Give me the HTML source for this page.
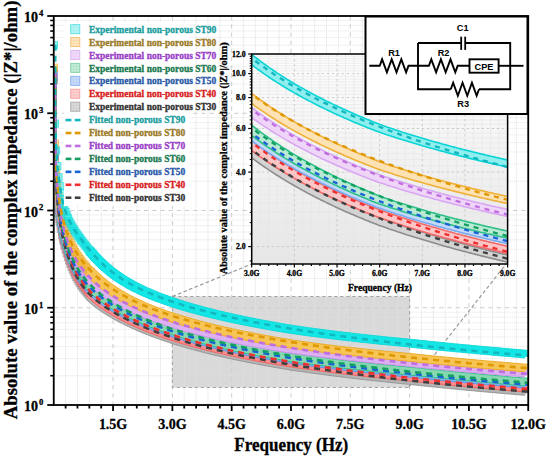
<!DOCTYPE html><html><head><meta charset="utf-8"><style>html,body{margin:0;padding:0;background:#fff;overflow:hidden;width:550px;height:458px}svg{display:block}text{font-family:"Liberation Serif",serif;font-weight:bold}</style></head><body>
<svg width="550" height="458" viewBox="0 0 550 458">
<rect width="550" height="458" fill="#fff"/>
<rect x="172.37" y="296.5" width="237.24" height="91.0" fill="#d9d9d9"/>
<line x1="65.61" y1="16.0" x2="65.61" y2="405.0" stroke="#e2e2e2" stroke-width="0.6"/><line x1="77.47" y1="16.0" x2="77.47" y2="405.0" stroke="#e2e2e2" stroke-width="0.6"/><line x1="89.34" y1="16.0" x2="89.34" y2="405.0" stroke="#e2e2e2" stroke-width="0.6"/><line x1="101.20" y1="16.0" x2="101.20" y2="405.0" stroke="#e2e2e2" stroke-width="0.6"/><line x1="124.92" y1="16.0" x2="124.92" y2="405.0" stroke="#e2e2e2" stroke-width="0.6"/><line x1="136.78" y1="16.0" x2="136.78" y2="405.0" stroke="#e2e2e2" stroke-width="0.6"/><line x1="148.65" y1="16.0" x2="148.65" y2="405.0" stroke="#e2e2e2" stroke-width="0.6"/><line x1="160.51" y1="16.0" x2="160.51" y2="405.0" stroke="#e2e2e2" stroke-width="0.6"/><line x1="184.23" y1="16.0" x2="184.23" y2="405.0" stroke="#e2e2e2" stroke-width="0.6"/><line x1="196.09" y1="16.0" x2="196.09" y2="405.0" stroke="#e2e2e2" stroke-width="0.6"/><line x1="207.96" y1="16.0" x2="207.96" y2="405.0" stroke="#e2e2e2" stroke-width="0.6"/><line x1="219.82" y1="16.0" x2="219.82" y2="405.0" stroke="#e2e2e2" stroke-width="0.6"/><line x1="243.54" y1="16.0" x2="243.54" y2="405.0" stroke="#e2e2e2" stroke-width="0.6"/><line x1="255.40" y1="16.0" x2="255.40" y2="405.0" stroke="#e2e2e2" stroke-width="0.6"/><line x1="267.27" y1="16.0" x2="267.27" y2="405.0" stroke="#e2e2e2" stroke-width="0.6"/><line x1="279.13" y1="16.0" x2="279.13" y2="405.0" stroke="#e2e2e2" stroke-width="0.6"/><line x1="302.85" y1="16.0" x2="302.85" y2="405.0" stroke="#e2e2e2" stroke-width="0.6"/><line x1="314.71" y1="16.0" x2="314.71" y2="405.0" stroke="#e2e2e2" stroke-width="0.6"/><line x1="326.58" y1="16.0" x2="326.58" y2="405.0" stroke="#e2e2e2" stroke-width="0.6"/><line x1="338.44" y1="16.0" x2="338.44" y2="405.0" stroke="#e2e2e2" stroke-width="0.6"/><line x1="362.16" y1="16.0" x2="362.16" y2="405.0" stroke="#e2e2e2" stroke-width="0.6"/><line x1="374.02" y1="16.0" x2="374.02" y2="405.0" stroke="#e2e2e2" stroke-width="0.6"/><line x1="385.89" y1="16.0" x2="385.89" y2="405.0" stroke="#e2e2e2" stroke-width="0.6"/><line x1="397.75" y1="16.0" x2="397.75" y2="405.0" stroke="#e2e2e2" stroke-width="0.6"/><line x1="421.47" y1="16.0" x2="421.47" y2="405.0" stroke="#e2e2e2" stroke-width="0.6"/><line x1="433.33" y1="16.0" x2="433.33" y2="405.0" stroke="#e2e2e2" stroke-width="0.6"/><line x1="445.20" y1="16.0" x2="445.20" y2="405.0" stroke="#e2e2e2" stroke-width="0.6"/><line x1="457.06" y1="16.0" x2="457.06" y2="405.0" stroke="#e2e2e2" stroke-width="0.6"/><line x1="480.78" y1="16.0" x2="480.78" y2="405.0" stroke="#e2e2e2" stroke-width="0.6"/><line x1="492.64" y1="16.0" x2="492.64" y2="405.0" stroke="#e2e2e2" stroke-width="0.6"/><line x1="504.51" y1="16.0" x2="504.51" y2="405.0" stroke="#e2e2e2" stroke-width="0.6"/><line x1="516.37" y1="16.0" x2="516.37" y2="405.0" stroke="#e2e2e2" stroke-width="0.6"/><line x1="53.75" y1="375.72" x2="528.23" y2="375.72" stroke="#e0e0e0" stroke-width="0.9" stroke-dasharray="1,1"/><line x1="53.75" y1="358.60" x2="528.23" y2="358.60" stroke="#e0e0e0" stroke-width="0.9" stroke-dasharray="1,1"/><line x1="53.75" y1="346.45" x2="528.23" y2="346.45" stroke="#e0e0e0" stroke-width="0.9" stroke-dasharray="1,1"/><line x1="53.75" y1="337.03" x2="528.23" y2="337.03" stroke="#e0e0e0" stroke-width="0.9" stroke-dasharray="1,1"/><line x1="53.75" y1="329.32" x2="528.23" y2="329.32" stroke="#e0e0e0" stroke-width="0.9" stroke-dasharray="1,1"/><line x1="53.75" y1="322.81" x2="528.23" y2="322.81" stroke="#e0e0e0" stroke-width="0.9" stroke-dasharray="1,1"/><line x1="53.75" y1="317.17" x2="528.23" y2="317.17" stroke="#e0e0e0" stroke-width="0.9" stroke-dasharray="1,1"/><line x1="53.75" y1="312.20" x2="528.23" y2="312.20" stroke="#e0e0e0" stroke-width="0.9" stroke-dasharray="1,1"/><line x1="53.75" y1="278.47" x2="528.23" y2="278.47" stroke="#e0e0e0" stroke-width="0.9" stroke-dasharray="1,1"/><line x1="53.75" y1="261.35" x2="528.23" y2="261.35" stroke="#e0e0e0" stroke-width="0.9" stroke-dasharray="1,1"/><line x1="53.75" y1="249.20" x2="528.23" y2="249.20" stroke="#e0e0e0" stroke-width="0.9" stroke-dasharray="1,1"/><line x1="53.75" y1="239.78" x2="528.23" y2="239.78" stroke="#e0e0e0" stroke-width="0.9" stroke-dasharray="1,1"/><line x1="53.75" y1="232.07" x2="528.23" y2="232.07" stroke="#e0e0e0" stroke-width="0.9" stroke-dasharray="1,1"/><line x1="53.75" y1="225.56" x2="528.23" y2="225.56" stroke="#e0e0e0" stroke-width="0.9" stroke-dasharray="1,1"/><line x1="53.75" y1="219.92" x2="528.23" y2="219.92" stroke="#e0e0e0" stroke-width="0.9" stroke-dasharray="1,1"/><line x1="53.75" y1="214.95" x2="528.23" y2="214.95" stroke="#e0e0e0" stroke-width="0.9" stroke-dasharray="1,1"/><line x1="53.75" y1="181.22" x2="528.23" y2="181.22" stroke="#e0e0e0" stroke-width="0.9" stroke-dasharray="1,1"/><line x1="53.75" y1="164.10" x2="528.23" y2="164.10" stroke="#e0e0e0" stroke-width="0.9" stroke-dasharray="1,1"/><line x1="53.75" y1="151.95" x2="528.23" y2="151.95" stroke="#e0e0e0" stroke-width="0.9" stroke-dasharray="1,1"/><line x1="53.75" y1="142.53" x2="528.23" y2="142.53" stroke="#e0e0e0" stroke-width="0.9" stroke-dasharray="1,1"/><line x1="53.75" y1="134.82" x2="528.23" y2="134.82" stroke="#e0e0e0" stroke-width="0.9" stroke-dasharray="1,1"/><line x1="53.75" y1="128.31" x2="528.23" y2="128.31" stroke="#e0e0e0" stroke-width="0.9" stroke-dasharray="1,1"/><line x1="53.75" y1="122.67" x2="528.23" y2="122.67" stroke="#e0e0e0" stroke-width="0.9" stroke-dasharray="1,1"/><line x1="53.75" y1="117.70" x2="528.23" y2="117.70" stroke="#e0e0e0" stroke-width="0.9" stroke-dasharray="1,1"/><line x1="53.75" y1="83.97" x2="528.23" y2="83.97" stroke="#e0e0e0" stroke-width="0.9" stroke-dasharray="1,1"/><line x1="53.75" y1="66.85" x2="528.23" y2="66.85" stroke="#e0e0e0" stroke-width="0.9" stroke-dasharray="1,1"/><line x1="53.75" y1="54.70" x2="528.23" y2="54.70" stroke="#e0e0e0" stroke-width="0.9" stroke-dasharray="1,1"/><line x1="53.75" y1="45.28" x2="528.23" y2="45.28" stroke="#e0e0e0" stroke-width="0.9" stroke-dasharray="1,1"/><line x1="53.75" y1="37.57" x2="528.23" y2="37.57" stroke="#e0e0e0" stroke-width="0.9" stroke-dasharray="1,1"/><line x1="53.75" y1="31.06" x2="528.23" y2="31.06" stroke="#e0e0e0" stroke-width="0.9" stroke-dasharray="1,1"/><line x1="53.75" y1="25.42" x2="528.23" y2="25.42" stroke="#e0e0e0" stroke-width="0.9" stroke-dasharray="1,1"/><line x1="53.75" y1="20.45" x2="528.23" y2="20.45" stroke="#e0e0e0" stroke-width="0.9" stroke-dasharray="1,1"/><line x1="113.06" y1="16.0" x2="113.06" y2="405.0" stroke="#cdcdcd" stroke-width="1" stroke-dasharray="4.4,3.8"/><line x1="172.37" y1="16.0" x2="172.37" y2="405.0" stroke="#cdcdcd" stroke-width="1" stroke-dasharray="4.4,3.8"/><line x1="231.68" y1="16.0" x2="231.68" y2="405.0" stroke="#cdcdcd" stroke-width="1" stroke-dasharray="4.4,3.8"/><line x1="290.99" y1="16.0" x2="290.99" y2="405.0" stroke="#cdcdcd" stroke-width="1" stroke-dasharray="4.4,3.8"/><line x1="350.30" y1="16.0" x2="350.30" y2="405.0" stroke="#cdcdcd" stroke-width="1" stroke-dasharray="4.4,3.8"/><line x1="409.61" y1="16.0" x2="409.61" y2="405.0" stroke="#cdcdcd" stroke-width="1" stroke-dasharray="4.4,3.8"/><line x1="468.92" y1="16.0" x2="468.92" y2="405.0" stroke="#cdcdcd" stroke-width="1" stroke-dasharray="4.4,3.8"/><line x1="53.75" y1="307.75" x2="528.23" y2="307.75" stroke="#cdcdcd" stroke-width="1" stroke-dasharray="4.4,3.8"/><line x1="53.75" y1="210.50" x2="528.23" y2="210.50" stroke="#cdcdcd" stroke-width="1" stroke-dasharray="4.4,3.8"/><line x1="53.75" y1="113.25" x2="528.23" y2="113.25" stroke="#cdcdcd" stroke-width="1" stroke-dasharray="4.4,3.8"/>
<rect x="172.37" y="296.5" width="237.24" height="91.0" fill="none" stroke="#a0a0a0" stroke-width="1" stroke-dasharray="3,3"/>
<line x1="172.37" y1="296.5" x2="251.7" y2="264.0" stroke="#999" stroke-width="1.2" stroke-dasharray="3.6,2.4"/>
<line x1="408.61" y1="387.5" x2="506.09999999999997" y2="264.0" stroke="#999" stroke-width="1.2" stroke-dasharray="3.6,2.4"/>
<defs><clipPath id="mclip"><rect x="54.55" y="16.00" width="473.68" height="389.00"/></clipPath>
<clipPath id="iclip"><rect x="251.70" y="54.00" width="255.90" height="210.00"/></clipPath></defs>
<g clip-path="url(#mclip)">
<rect x="50.31" y="76.50" width="7.2" height="7.2" fill="#b4b4b4" fill-opacity="0.45" stroke="#969696" stroke-opacity="0.7" stroke-width="0.9"/>
<rect x="51.34" y="155.22" width="7.2" height="7.2" fill="#b4b4b4" fill-opacity="0.45" stroke="#969696" stroke-opacity="0.7" stroke-width="0.9"/>
<rect x="52.52" y="182.30" width="7.2" height="7.2" fill="#b4b4b4" fill-opacity="0.45" stroke="#969696" stroke-opacity="0.7" stroke-width="0.9"/>
<rect x="53.71" y="198.14" width="7.2" height="7.2" fill="#b4b4b4" fill-opacity="0.45" stroke="#969696" stroke-opacity="0.7" stroke-width="0.9"/>
<rect x="54.89" y="209.38" width="7.2" height="7.2" fill="#b4b4b4" fill-opacity="0.45" stroke="#969696" stroke-opacity="0.7" stroke-width="0.9"/>
<rect x="56.08" y="218.11" width="7.2" height="7.2" fill="#b4b4b4" fill-opacity="0.45" stroke="#969696" stroke-opacity="0.7" stroke-width="0.9"/>
<rect x="57.27" y="225.27" width="7.2" height="7.2" fill="#b4b4b4" fill-opacity="0.45" stroke="#969696" stroke-opacity="0.7" stroke-width="0.9"/>
<rect x="58.45" y="231.36" width="7.2" height="7.2" fill="#b4b4b4" fill-opacity="0.45" stroke="#969696" stroke-opacity="0.7" stroke-width="0.9"/>
<rect x="59.64" y="236.69" width="7.2" height="7.2" fill="#b4b4b4" fill-opacity="0.45" stroke="#969696" stroke-opacity="0.7" stroke-width="0.9"/>
<rect x="60.83" y="241.45" width="7.2" height="7.2" fill="#b4b4b4" fill-opacity="0.45" stroke="#969696" stroke-opacity="0.7" stroke-width="0.9"/>
<rect x="62.01" y="245.78" width="7.2" height="7.2" fill="#b4b4b4" fill-opacity="0.45" stroke="#969696" stroke-opacity="0.7" stroke-width="0.9"/>
<rect x="63.20" y="249.76" width="7.2" height="7.2" fill="#b4b4b4" fill-opacity="0.45" stroke="#969696" stroke-opacity="0.7" stroke-width="0.9"/>
<rect x="64.38" y="253.45" width="7.2" height="7.2" fill="#b4b4b4" fill-opacity="0.45" stroke="#969696" stroke-opacity="0.7" stroke-width="0.9"/>
<rect x="65.57" y="256.89" width="7.2" height="7.2" fill="#b4b4b4" fill-opacity="0.45" stroke="#969696" stroke-opacity="0.7" stroke-width="0.9"/>
<rect x="66.76" y="260.10" width="7.2" height="7.2" fill="#b4b4b4" fill-opacity="0.45" stroke="#969696" stroke-opacity="0.7" stroke-width="0.9"/>
<rect x="67.94" y="263.10" width="7.2" height="7.2" fill="#b4b4b4" fill-opacity="0.45" stroke="#969696" stroke-opacity="0.7" stroke-width="0.9"/>
<rect x="69.13" y="265.92" width="7.2" height="7.2" fill="#b4b4b4" fill-opacity="0.45" stroke="#969696" stroke-opacity="0.7" stroke-width="0.9"/>
<rect x="70.32" y="268.56" width="7.2" height="7.2" fill="#b4b4b4" fill-opacity="0.45" stroke="#969696" stroke-opacity="0.7" stroke-width="0.9"/>
<rect x="71.50" y="271.04" width="7.2" height="7.2" fill="#b4b4b4" fill-opacity="0.45" stroke="#969696" stroke-opacity="0.7" stroke-width="0.9"/>
<rect x="72.69" y="273.36" width="7.2" height="7.2" fill="#b4b4b4" fill-opacity="0.45" stroke="#969696" stroke-opacity="0.7" stroke-width="0.9"/>
<rect x="73.87" y="275.55" width="7.2" height="7.2" fill="#b4b4b4" fill-opacity="0.45" stroke="#969696" stroke-opacity="0.7" stroke-width="0.9"/>
<rect x="75.06" y="277.60" width="7.2" height="7.2" fill="#b4b4b4" fill-opacity="0.45" stroke="#969696" stroke-opacity="0.7" stroke-width="0.9"/>
<rect x="76.25" y="279.53" width="7.2" height="7.2" fill="#b4b4b4" fill-opacity="0.45" stroke="#969696" stroke-opacity="0.7" stroke-width="0.9"/>
<rect x="77.43" y="281.34" width="7.2" height="7.2" fill="#b4b4b4" fill-opacity="0.45" stroke="#969696" stroke-opacity="0.7" stroke-width="0.9"/>
<rect x="78.62" y="283.05" width="7.2" height="7.2" fill="#b4b4b4" fill-opacity="0.45" stroke="#969696" stroke-opacity="0.7" stroke-width="0.9"/>
<rect x="79.81" y="284.67" width="7.2" height="7.2" fill="#b4b4b4" fill-opacity="0.45" stroke="#969696" stroke-opacity="0.7" stroke-width="0.9"/>
<rect x="80.99" y="286.19" width="7.2" height="7.2" fill="#b4b4b4" fill-opacity="0.45" stroke="#969696" stroke-opacity="0.7" stroke-width="0.9"/>
<rect x="82.18" y="287.64" width="7.2" height="7.2" fill="#b4b4b4" fill-opacity="0.45" stroke="#969696" stroke-opacity="0.7" stroke-width="0.9"/>
<rect x="83.36" y="289.01" width="7.2" height="7.2" fill="#b4b4b4" fill-opacity="0.45" stroke="#969696" stroke-opacity="0.7" stroke-width="0.9"/>
<rect x="84.55" y="290.32" width="7.2" height="7.2" fill="#b4b4b4" fill-opacity="0.45" stroke="#969696" stroke-opacity="0.7" stroke-width="0.9"/>
<rect x="85.74" y="291.57" width="7.2" height="7.2" fill="#b4b4b4" fill-opacity="0.45" stroke="#969696" stroke-opacity="0.7" stroke-width="0.9"/>
<rect x="86.92" y="292.76" width="7.2" height="7.2" fill="#b4b4b4" fill-opacity="0.45" stroke="#969696" stroke-opacity="0.7" stroke-width="0.9"/>
<polygon points="92.9,291.6 94.1,292.8 95.3,293.9 96.5,295.0 97.7,296.1 100.1,298.1 102.4,299.9 104.8,301.7 107.2,303.4 109.5,305.0 111.9,306.5 114.3,308.0 116.7,309.4 119.0,310.8 121.4,312.2 123.8,313.5 126.1,314.7 128.5,315.9 130.9,317.1 133.3,318.3 135.6,319.4 138.0,320.5 140.4,321.6 142.8,322.7 145.1,323.7 147.5,324.7 149.9,325.7 152.2,326.6 154.6,327.6 157.0,328.5 159.4,329.4 161.7,330.3 164.1,331.1 166.5,332.0 168.9,332.8 171.2,333.6 173.6,334.4 176.0,335.2 178.3,336.0 180.7,336.7 183.1,337.5 185.5,338.2 187.8,338.9 190.2,339.6 192.6,340.3 194.9,341.0 197.3,341.6 199.7,342.3 202.1,342.9 204.4,343.6 206.8,344.2 209.2,344.8 211.6,345.4 213.9,346.0 216.3,346.6 218.7,347.2 221.0,347.8 223.4,348.3 225.8,348.9 228.2,349.4 230.5,350.0 232.9,350.5 235.3,351.0 237.7,351.5 240.0,352.0 242.4,352.6 244.8,353.0 247.1,353.5 249.5,354.0 251.9,354.5 254.3,355.0 256.6,355.5 259.0,355.9 261.4,356.4 263.7,356.8 266.1,357.3 268.5,357.7 270.9,358.2 273.2,358.6 275.6,359.0 278.0,359.4 280.4,359.9 282.7,360.3 285.1,360.7 287.5,361.1 289.8,361.5 292.2,361.9 294.6,362.3 297.0,362.7 299.3,363.0 301.7,363.4 304.1,363.7 306.5,364.1 308.8,364.4 311.2,364.7 313.6,365.1 315.9,365.4 318.3,365.8 320.7,366.1 323.1,366.4 325.4,366.7 327.8,367.0 330.2,367.4 332.5,367.7 334.9,368.0 337.3,368.3 339.7,368.6 342.0,368.9 344.4,369.2 346.8,369.5 349.2,369.8 351.5,370.1 353.9,370.4 356.3,370.6 358.6,370.9 361.0,371.2 363.4,371.5 365.8,371.8 368.1,372.0 370.5,372.3 372.9,372.6 375.3,372.8 377.6,373.1 380.0,373.4 382.4,373.6 384.7,373.9 387.1,374.1 389.5,374.4 391.9,374.6 394.2,374.9 396.6,375.1 399.0,375.4 401.3,375.6 403.7,375.9 406.1,376.1 408.5,376.4 410.8,376.6 413.2,376.8 415.6,377.1 418.0,377.3 420.3,377.6 422.7,377.9 425.1,378.1 427.4,378.4 429.8,378.6 432.2,378.9 434.6,379.1 436.9,379.4 439.3,379.6 441.7,379.8 444.1,380.1 446.4,380.3 448.8,380.6 451.2,380.8 453.5,381.0 455.9,381.3 458.3,381.5 460.7,381.7 463.0,382.0 465.4,382.2 467.8,382.4 470.1,382.6 472.5,382.9 474.9,383.1 477.3,383.3 479.6,383.5 482.0,383.7 484.4,384.0 486.8,384.2 489.1,384.4 491.5,384.6 493.9,384.8 496.2,385.0 498.6,385.2 501.0,385.4 503.4,385.7 505.7,385.9 508.1,386.1 510.5,386.3 512.9,386.5 515.2,386.7 517.6,386.9 520.0,387.1 522.3,387.3 524.7,387.5 527.1,387.7 529.5,387.9 531.8,388.1 524.6,395.3 522.3,395.1 519.9,394.9 517.5,394.7 515.1,394.5 512.8,394.3 510.4,394.1 508.0,393.9 505.7,393.7 503.3,393.5 500.9,393.3 498.5,393.1 496.2,392.9 493.8,392.6 491.4,392.4 489.0,392.2 486.7,392.0 484.3,391.8 481.9,391.6 479.6,391.4 477.2,391.2 474.8,390.9 472.4,390.7 470.1,390.5 467.7,390.3 465.3,390.1 462.9,389.8 460.6,389.6 458.2,389.4 455.8,389.2 453.5,388.9 451.1,388.7 448.7,388.5 446.3,388.2 444.0,388.0 441.6,387.8 439.2,387.5 436.9,387.3 434.5,387.0 432.1,386.8 429.7,386.6 427.4,386.3 425.0,386.1 422.6,385.8 420.2,385.6 417.9,385.3 415.5,385.1 413.1,384.8 410.8,384.5 408.4,384.3 406.0,384.0 403.6,383.8 401.3,383.6 398.9,383.3 396.5,383.1 394.1,382.8 391.8,382.6 389.4,382.3 387.0,382.1 384.7,381.8 382.3,381.6 379.9,381.3 377.5,381.1 375.2,380.8 372.8,380.6 370.4,380.3 368.1,380.0 365.7,379.8 363.3,379.5 360.9,379.2 358.6,379.0 356.2,378.7 353.8,378.4 351.4,378.1 349.1,377.8 346.7,377.6 344.3,377.3 342.0,377.0 339.6,376.7 337.2,376.4 334.8,376.1 332.5,375.8 330.1,375.5 327.7,375.2 325.3,374.9 323.0,374.6 320.6,374.2 318.2,373.9 315.9,373.6 313.5,373.3 311.1,373.0 308.7,372.6 306.4,372.3 304.0,371.9 301.6,371.6 299.3,371.3 296.9,370.9 294.5,370.6 292.1,370.2 289.8,369.9 287.4,369.5 285.0,369.1 282.6,368.7 280.3,368.3 277.9,367.9 275.5,367.5 273.2,367.1 270.8,366.6 268.4,366.2 266.0,365.8 263.7,365.4 261.3,364.9 258.9,364.5 256.5,364.0 254.2,363.6 251.8,363.1 249.4,362.7 247.1,362.2 244.7,361.7 242.3,361.2 239.9,360.7 237.6,360.2 235.2,359.8 232.8,359.2 230.5,358.7 228.1,358.2 225.7,357.7 223.3,357.2 221.0,356.6 218.6,356.1 216.2,355.5 213.8,355.0 211.5,354.4 209.1,353.8 206.7,353.2 204.4,352.6 202.0,352.0 199.6,351.4 197.2,350.8 194.9,350.1 192.5,349.5 190.1,348.8 187.7,348.2 185.4,347.5 183.0,346.8 180.6,346.1 178.3,345.4 175.9,344.7 173.5,343.9 171.1,343.2 168.8,342.4 166.4,341.6 164.0,340.8 161.7,340.0 159.3,339.2 156.9,338.3 154.5,337.5 152.2,336.6 149.8,335.7 147.4,334.8 145.0,333.8 142.7,332.9 140.3,331.9 137.9,330.9 135.6,329.9 133.2,328.8 130.8,327.7 128.4,326.6 126.1,325.5 123.7,324.3 121.3,323.1 118.9,321.9 116.6,320.7 114.2,319.4 111.8,318.0 109.5,316.6 107.1,315.2 104.7,313.7 102.3,312.2 100.0,310.6 97.6,308.9 95.2,307.1 92.9,305.3 90.5,303.3 89.3,302.2 88.1,301.1 86.9,300.0 85.7,298.8" fill="#b4b4b4"/>
<polyline points="92.9,291.6 94.1,292.8 95.3,293.9 96.5,295.0 97.7,296.1 100.1,298.1 102.4,299.9 104.8,301.7 107.2,303.4 109.5,305.0 111.9,306.5 114.3,308.0 116.7,309.4 119.0,310.8 121.4,312.2 123.8,313.5 126.1,314.7 128.5,315.9 130.9,317.1 133.3,318.3 135.6,319.4 138.0,320.5 140.4,321.6 142.8,322.7 145.1,323.7 147.5,324.7 149.9,325.7 152.2,326.6 154.6,327.6 157.0,328.5 159.4,329.4 161.7,330.3 164.1,331.1 166.5,332.0 168.9,332.8 171.2,333.6 173.6,334.4 176.0,335.2 178.3,336.0 180.7,336.7 183.1,337.5 185.5,338.2 187.8,338.9 190.2,339.6 192.6,340.3 194.9,341.0 197.3,341.6 199.7,342.3 202.1,342.9 204.4,343.6 206.8,344.2 209.2,344.8 211.6,345.4 213.9,346.0 216.3,346.6 218.7,347.2 221.0,347.8 223.4,348.3 225.8,348.9 228.2,349.4 230.5,350.0 232.9,350.5 235.3,351.0 237.7,351.5 240.0,352.0 242.4,352.6 244.8,353.0 247.1,353.5 249.5,354.0 251.9,354.5 254.3,355.0 256.6,355.5 259.0,355.9 261.4,356.4 263.7,356.8 266.1,357.3 268.5,357.7 270.9,358.2 273.2,358.6 275.6,359.0 278.0,359.4 280.4,359.9 282.7,360.3 285.1,360.7 287.5,361.1 289.8,361.5 292.2,361.9 294.6,362.3 297.0,362.7 299.3,363.0 301.7,363.4 304.1,363.7 306.5,364.1 308.8,364.4 311.2,364.7 313.6,365.1 315.9,365.4 318.3,365.8 320.7,366.1 323.1,366.4 325.4,366.7 327.8,367.0 330.2,367.4 332.5,367.7 334.9,368.0 337.3,368.3 339.7,368.6 342.0,368.9 344.4,369.2 346.8,369.5 349.2,369.8 351.5,370.1 353.9,370.4 356.3,370.6 358.6,370.9 361.0,371.2 363.4,371.5 365.8,371.8 368.1,372.0 370.5,372.3 372.9,372.6 375.3,372.8 377.6,373.1 380.0,373.4 382.4,373.6 384.7,373.9 387.1,374.1 389.5,374.4 391.9,374.6 394.2,374.9 396.6,375.1 399.0,375.4 401.3,375.6 403.7,375.9 406.1,376.1 408.5,376.4 410.8,376.6 413.2,376.8 415.6,377.1 418.0,377.3 420.3,377.6 422.7,377.9 425.1,378.1 427.4,378.4 429.8,378.6 432.2,378.9 434.6,379.1 436.9,379.4 439.3,379.6 441.7,379.8 444.1,380.1 446.4,380.3 448.8,380.6 451.2,380.8 453.5,381.0 455.9,381.3 458.3,381.5 460.7,381.7 463.0,382.0 465.4,382.2 467.8,382.4 470.1,382.6 472.5,382.9 474.9,383.1 477.3,383.3 479.6,383.5 482.0,383.7 484.4,384.0 486.8,384.2 489.1,384.4 491.5,384.6 493.9,384.8 496.2,385.0 498.6,385.2 501.0,385.4 503.4,385.7 505.7,385.9 508.1,386.1 510.5,386.3 512.9,386.5 515.2,386.7 517.6,386.9 520.0,387.1 522.3,387.3 524.7,387.5 527.1,387.7 529.5,387.9 531.8,388.1" fill="none" stroke="#969696" stroke-width="1"/><polyline points="85.7,298.8 86.9,300.0 88.1,301.1 89.3,302.2 90.5,303.3 92.9,305.3 95.2,307.1 97.6,308.9 100.0,310.6 102.3,312.2 104.7,313.7 107.1,315.2 109.5,316.6 111.8,318.0 114.2,319.4 116.6,320.7 118.9,321.9 121.3,323.1 123.7,324.3 126.1,325.5 128.4,326.6 130.8,327.7 133.2,328.8 135.6,329.9 137.9,330.9 140.3,331.9 142.7,332.9 145.0,333.8 147.4,334.8 149.8,335.7 152.2,336.6 154.5,337.5 156.9,338.3 159.3,339.2 161.7,340.0 164.0,340.8 166.4,341.6 168.8,342.4 171.1,343.2 173.5,343.9 175.9,344.7 178.3,345.4 180.6,346.1 183.0,346.8 185.4,347.5 187.7,348.2 190.1,348.8 192.5,349.5 194.9,350.1 197.2,350.8 199.6,351.4 202.0,352.0 204.4,352.6 206.7,353.2 209.1,353.8 211.5,354.4 213.8,355.0 216.2,355.5 218.6,356.1 221.0,356.6 223.3,357.2 225.7,357.7 228.1,358.2 230.5,358.7 232.8,359.2 235.2,359.8 237.6,360.2 239.9,360.7 242.3,361.2 244.7,361.7 247.1,362.2 249.4,362.7 251.8,363.1 254.2,363.6 256.5,364.0 258.9,364.5 261.3,364.9 263.7,365.4 266.0,365.8 268.4,366.2 270.8,366.6 273.2,367.1 275.5,367.5 277.9,367.9 280.3,368.3 282.6,368.7 285.0,369.1 287.4,369.5 289.8,369.9 292.1,370.2 294.5,370.6 296.9,370.9 299.3,371.3 301.6,371.6 304.0,371.9 306.4,372.3 308.7,372.6 311.1,373.0 313.5,373.3 315.9,373.6 318.2,373.9 320.6,374.2 323.0,374.6 325.3,374.9 327.7,375.2 330.1,375.5 332.5,375.8 334.8,376.1 337.2,376.4 339.6,376.7 342.0,377.0 344.3,377.3 346.7,377.6 349.1,377.8 351.4,378.1 353.8,378.4 356.2,378.7 358.6,379.0 360.9,379.2 363.3,379.5 365.7,379.8 368.1,380.0 370.4,380.3 372.8,380.6 375.2,380.8 377.5,381.1 379.9,381.3 382.3,381.6 384.7,381.8 387.0,382.1 389.4,382.3 391.8,382.6 394.1,382.8 396.5,383.1 398.9,383.3 401.3,383.6 403.6,383.8 406.0,384.0 408.4,384.3 410.8,384.5 413.1,384.8 415.5,385.1 417.9,385.3 420.2,385.6 422.6,385.8 425.0,386.1 427.4,386.3 429.7,386.6 432.1,386.8 434.5,387.0 436.9,387.3 439.2,387.5 441.6,387.8 444.0,388.0 446.3,388.2 448.7,388.5 451.1,388.7 453.5,388.9 455.8,389.2 458.2,389.4 460.6,389.6 462.9,389.8 465.3,390.1 467.7,390.3 470.1,390.5 472.4,390.7 474.8,390.9 477.2,391.2 479.6,391.4 481.9,391.6 484.3,391.8 486.7,392.0 489.0,392.2 491.4,392.4 493.8,392.6 496.2,392.9 498.5,393.1 500.9,393.3 503.3,393.5 505.7,393.7 508.0,393.9 510.4,394.1 512.8,394.3 515.1,394.5 517.5,394.7 519.9,394.9 522.3,395.1 524.6,395.3" fill="none" stroke="#969696" stroke-width="1"/>
<rect x="50.31" y="73.28" width="7.2" height="7.2" fill="#ff8c8c" fill-opacity="0.45" stroke="#f86060" stroke-opacity="0.7" stroke-width="0.9"/>
<rect x="51.34" y="152.13" width="7.2" height="7.2" fill="#ff8c8c" fill-opacity="0.45" stroke="#f86060" stroke-opacity="0.7" stroke-width="0.9"/>
<rect x="52.52" y="179.25" width="7.2" height="7.2" fill="#ff8c8c" fill-opacity="0.45" stroke="#f86060" stroke-opacity="0.7" stroke-width="0.9"/>
<rect x="53.71" y="195.12" width="7.2" height="7.2" fill="#ff8c8c" fill-opacity="0.45" stroke="#f86060" stroke-opacity="0.7" stroke-width="0.9"/>
<rect x="54.89" y="206.38" width="7.2" height="7.2" fill="#ff8c8c" fill-opacity="0.45" stroke="#f86060" stroke-opacity="0.7" stroke-width="0.9"/>
<rect x="56.08" y="215.12" width="7.2" height="7.2" fill="#ff8c8c" fill-opacity="0.45" stroke="#f86060" stroke-opacity="0.7" stroke-width="0.9"/>
<rect x="57.27" y="222.28" width="7.2" height="7.2" fill="#ff8c8c" fill-opacity="0.45" stroke="#f86060" stroke-opacity="0.7" stroke-width="0.9"/>
<rect x="58.45" y="228.36" width="7.2" height="7.2" fill="#ff8c8c" fill-opacity="0.45" stroke="#f86060" stroke-opacity="0.7" stroke-width="0.9"/>
<rect x="59.64" y="233.68" width="7.2" height="7.2" fill="#ff8c8c" fill-opacity="0.45" stroke="#f86060" stroke-opacity="0.7" stroke-width="0.9"/>
<rect x="60.83" y="238.42" width="7.2" height="7.2" fill="#ff8c8c" fill-opacity="0.45" stroke="#f86060" stroke-opacity="0.7" stroke-width="0.9"/>
<rect x="62.01" y="242.71" width="7.2" height="7.2" fill="#ff8c8c" fill-opacity="0.45" stroke="#f86060" stroke-opacity="0.7" stroke-width="0.9"/>
<rect x="63.20" y="246.64" width="7.2" height="7.2" fill="#ff8c8c" fill-opacity="0.45" stroke="#f86060" stroke-opacity="0.7" stroke-width="0.9"/>
<rect x="64.38" y="250.27" width="7.2" height="7.2" fill="#ff8c8c" fill-opacity="0.45" stroke="#f86060" stroke-opacity="0.7" stroke-width="0.9"/>
<rect x="65.57" y="253.65" width="7.2" height="7.2" fill="#ff8c8c" fill-opacity="0.45" stroke="#f86060" stroke-opacity="0.7" stroke-width="0.9"/>
<rect x="66.76" y="256.80" width="7.2" height="7.2" fill="#ff8c8c" fill-opacity="0.45" stroke="#f86060" stroke-opacity="0.7" stroke-width="0.9"/>
<rect x="67.94" y="259.74" width="7.2" height="7.2" fill="#ff8c8c" fill-opacity="0.45" stroke="#f86060" stroke-opacity="0.7" stroke-width="0.9"/>
<rect x="69.13" y="262.50" width="7.2" height="7.2" fill="#ff8c8c" fill-opacity="0.45" stroke="#f86060" stroke-opacity="0.7" stroke-width="0.9"/>
<rect x="70.32" y="265.09" width="7.2" height="7.2" fill="#ff8c8c" fill-opacity="0.45" stroke="#f86060" stroke-opacity="0.7" stroke-width="0.9"/>
<rect x="71.50" y="267.52" width="7.2" height="7.2" fill="#ff8c8c" fill-opacity="0.45" stroke="#f86060" stroke-opacity="0.7" stroke-width="0.9"/>
<rect x="72.69" y="269.80" width="7.2" height="7.2" fill="#ff8c8c" fill-opacity="0.45" stroke="#f86060" stroke-opacity="0.7" stroke-width="0.9"/>
<rect x="73.87" y="271.95" width="7.2" height="7.2" fill="#ff8c8c" fill-opacity="0.45" stroke="#f86060" stroke-opacity="0.7" stroke-width="0.9"/>
<rect x="75.06" y="273.98" width="7.2" height="7.2" fill="#ff8c8c" fill-opacity="0.45" stroke="#f86060" stroke-opacity="0.7" stroke-width="0.9"/>
<rect x="76.25" y="275.88" width="7.2" height="7.2" fill="#ff8c8c" fill-opacity="0.45" stroke="#f86060" stroke-opacity="0.7" stroke-width="0.9"/>
<rect x="77.43" y="277.68" width="7.2" height="7.2" fill="#ff8c8c" fill-opacity="0.45" stroke="#f86060" stroke-opacity="0.7" stroke-width="0.9"/>
<rect x="78.62" y="279.39" width="7.2" height="7.2" fill="#ff8c8c" fill-opacity="0.45" stroke="#f86060" stroke-opacity="0.7" stroke-width="0.9"/>
<rect x="79.81" y="281.00" width="7.2" height="7.2" fill="#ff8c8c" fill-opacity="0.45" stroke="#f86060" stroke-opacity="0.7" stroke-width="0.9"/>
<rect x="80.99" y="282.53" width="7.2" height="7.2" fill="#ff8c8c" fill-opacity="0.45" stroke="#f86060" stroke-opacity="0.7" stroke-width="0.9"/>
<rect x="82.18" y="283.99" width="7.2" height="7.2" fill="#ff8c8c" fill-opacity="0.45" stroke="#f86060" stroke-opacity="0.7" stroke-width="0.9"/>
<rect x="83.36" y="285.37" width="7.2" height="7.2" fill="#ff8c8c" fill-opacity="0.45" stroke="#f86060" stroke-opacity="0.7" stroke-width="0.9"/>
<rect x="84.55" y="286.70" width="7.2" height="7.2" fill="#ff8c8c" fill-opacity="0.45" stroke="#f86060" stroke-opacity="0.7" stroke-width="0.9"/>
<rect x="85.74" y="287.96" width="7.2" height="7.2" fill="#ff8c8c" fill-opacity="0.45" stroke="#f86060" stroke-opacity="0.7" stroke-width="0.9"/>
<rect x="86.92" y="289.18" width="7.2" height="7.2" fill="#ff8c8c" fill-opacity="0.45" stroke="#f86060" stroke-opacity="0.7" stroke-width="0.9"/>
<polygon points="92.9,288.0 94.1,289.2 95.3,290.3 96.5,291.5 97.7,292.5 100.1,294.6 102.4,296.5 104.8,298.4 107.2,300.1 109.5,301.7 111.9,303.3 114.3,304.8 116.7,306.3 119.0,307.7 121.4,309.1 123.8,310.4 126.1,311.7 128.5,313.0 130.9,314.2 133.3,315.3 135.6,316.5 138.0,317.6 140.4,318.7 142.8,319.8 145.1,320.8 147.5,321.8 149.9,322.8 152.2,323.8 154.6,324.7 157.0,325.7 159.4,326.6 161.7,327.4 164.1,328.3 166.5,329.2 168.9,330.0 171.2,330.8 173.6,331.6 176.0,332.4 178.3,333.2 180.7,333.9 183.1,334.6 185.5,335.4 187.8,336.1 190.2,336.8 192.6,337.4 194.9,338.1 197.3,338.8 199.7,339.4 202.1,340.1 204.4,340.7 206.8,341.3 209.2,341.9 211.6,342.5 213.9,343.1 216.3,343.7 218.7,344.3 221.0,344.9 223.4,345.4 225.8,346.0 228.2,346.5 230.5,347.0 232.9,347.6 235.3,348.1 237.7,348.6 240.0,349.1 242.4,349.6 244.8,350.1 247.1,350.6 249.5,351.1 251.9,351.5 254.3,352.0 256.6,352.5 259.0,352.9 261.4,353.4 263.7,353.8 266.1,354.3 268.5,354.7 270.9,355.1 273.2,355.6 275.6,356.0 278.0,356.4 280.4,356.8 282.7,357.2 285.1,357.6 287.5,358.0 289.8,358.4 292.2,358.8 294.6,359.2 297.0,359.6 299.3,359.9 301.7,360.3 304.1,360.6 306.5,361.0 308.8,361.3 311.2,361.6 313.6,362.0 315.9,362.3 318.3,362.6 320.7,362.9 323.1,363.2 325.4,363.6 327.8,363.9 330.2,364.2 332.5,364.5 334.9,364.8 337.3,365.1 339.7,365.4 342.0,365.7 344.4,366.0 346.8,366.3 349.2,366.5 351.5,366.8 353.9,367.1 356.3,367.4 358.6,367.7 361.0,367.9 363.4,368.2 365.8,368.5 368.1,368.7 370.5,369.0 372.9,369.3 375.3,369.5 377.6,369.8 380.0,370.0 382.4,370.3 384.7,370.5 387.1,370.8 389.5,371.0 391.9,371.3 394.2,371.5 396.6,371.8 399.0,372.0 401.3,372.2 403.7,372.5 406.1,372.7 408.5,372.9 410.8,373.2 413.2,373.4 415.6,373.7 418.0,373.9 420.3,374.2 422.7,374.4 425.1,374.7 427.4,374.9 429.8,375.2 432.2,375.4 434.6,375.7 436.9,375.9 439.3,376.2 441.7,376.4 444.1,376.6 446.4,376.9 448.8,377.1 451.2,377.4 453.5,377.6 455.9,377.8 458.3,378.1 460.7,378.3 463.0,378.5 465.4,378.8 467.8,379.0 470.1,379.2 472.5,379.4 474.9,379.6 477.3,379.9 479.6,380.1 482.0,380.3 484.4,380.5 486.8,380.7 489.1,381.0 491.5,381.2 493.9,381.4 496.2,381.6 498.6,381.8 501.0,382.0 503.4,382.2 505.7,382.4 508.1,382.6 510.5,382.9 512.9,383.1 515.2,383.3 517.6,383.5 520.0,383.7 522.3,383.9 524.7,384.1 527.1,384.3 529.5,384.5 531.8,384.7 524.6,391.9 522.3,391.7 519.9,391.5 517.5,391.3 515.1,391.1 512.8,390.9 510.4,390.7 508.0,390.5 505.7,390.3 503.3,390.1 500.9,389.8 498.5,389.6 496.2,389.4 493.8,389.2 491.4,389.0 489.0,388.8 486.7,388.6 484.3,388.4 481.9,388.2 479.6,387.9 477.2,387.7 474.8,387.5 472.4,387.3 470.1,387.1 467.7,386.8 465.3,386.6 462.9,386.4 460.6,386.2 458.2,386.0 455.8,385.7 453.5,385.5 451.1,385.3 448.7,385.0 446.3,384.8 444.0,384.6 441.6,384.3 439.2,384.1 436.9,383.8 434.5,383.6 432.1,383.4 429.7,383.1 427.4,382.9 425.0,382.6 422.6,382.4 420.2,382.1 417.9,381.9 415.5,381.6 413.1,381.4 410.8,381.1 408.4,380.9 406.0,380.6 403.6,380.4 401.3,380.1 398.9,379.9 396.5,379.7 394.1,379.4 391.8,379.2 389.4,379.0 387.0,378.7 384.7,378.5 382.3,378.2 379.9,378.0 377.5,377.7 375.2,377.5 372.8,377.2 370.4,377.0 368.1,376.7 365.7,376.5 363.3,376.2 360.9,375.9 358.6,375.7 356.2,375.4 353.8,375.1 351.4,374.9 349.1,374.6 346.7,374.3 344.3,374.0 342.0,373.7 339.6,373.5 337.2,373.2 334.8,372.9 332.5,372.6 330.1,372.3 327.7,372.0 325.3,371.7 323.0,371.4 320.6,371.1 318.2,370.8 315.9,370.4 313.5,370.1 311.1,369.8 308.7,369.5 306.4,369.2 304.0,368.8 301.6,368.5 299.3,368.2 296.9,367.8 294.5,367.5 292.1,367.1 289.8,366.8 287.4,366.4 285.0,366.0 282.6,365.6 280.3,365.2 277.9,364.8 275.5,364.4 273.2,364.0 270.8,363.6 268.4,363.2 266.0,362.8 263.7,362.3 261.3,361.9 258.9,361.5 256.5,361.0 254.2,360.6 251.8,360.1 249.4,359.7 247.1,359.2 244.7,358.7 242.3,358.3 239.9,357.8 237.6,357.3 235.2,356.8 232.8,356.3 230.5,355.8 228.1,355.3 225.7,354.8 223.3,354.2 221.0,353.7 218.6,353.2 216.2,352.6 213.8,352.1 211.5,351.5 209.1,350.9 206.7,350.3 204.4,349.7 202.0,349.1 199.6,348.5 197.2,347.9 194.9,347.3 192.5,346.6 190.1,346.0 187.7,345.3 185.4,344.6 183.0,344.0 180.6,343.3 178.3,342.6 175.9,341.8 173.5,341.1 171.1,340.4 168.8,339.6 166.4,338.8 164.0,338.0 161.7,337.2 159.3,336.4 156.9,335.5 154.5,334.6 152.2,333.8 149.8,332.9 147.4,331.9 145.0,331.0 142.7,330.0 140.3,329.0 137.9,328.0 135.6,327.0 133.2,325.9 130.8,324.8 128.4,323.7 126.1,322.5 123.7,321.4 121.3,320.2 118.9,318.9 116.6,317.6 114.2,316.3 111.8,314.9 109.5,313.5 107.1,312.0 104.7,310.5 102.3,308.9 100.0,307.3 97.6,305.6 95.2,303.7 92.9,301.8 90.5,299.7 89.3,298.7 88.1,297.5 86.9,296.4 85.7,295.2" fill="#ff8c8c"/>
<polyline points="92.9,288.0 94.1,289.2 95.3,290.3 96.5,291.5 97.7,292.5 100.1,294.6 102.4,296.5 104.8,298.4 107.2,300.1 109.5,301.7 111.9,303.3 114.3,304.8 116.7,306.3 119.0,307.7 121.4,309.1 123.8,310.4 126.1,311.7 128.5,313.0 130.9,314.2 133.3,315.3 135.6,316.5 138.0,317.6 140.4,318.7 142.8,319.8 145.1,320.8 147.5,321.8 149.9,322.8 152.2,323.8 154.6,324.7 157.0,325.7 159.4,326.6 161.7,327.4 164.1,328.3 166.5,329.2 168.9,330.0 171.2,330.8 173.6,331.6 176.0,332.4 178.3,333.2 180.7,333.9 183.1,334.6 185.5,335.4 187.8,336.1 190.2,336.8 192.6,337.4 194.9,338.1 197.3,338.8 199.7,339.4 202.1,340.1 204.4,340.7 206.8,341.3 209.2,341.9 211.6,342.5 213.9,343.1 216.3,343.7 218.7,344.3 221.0,344.9 223.4,345.4 225.8,346.0 228.2,346.5 230.5,347.0 232.9,347.6 235.3,348.1 237.7,348.6 240.0,349.1 242.4,349.6 244.8,350.1 247.1,350.6 249.5,351.1 251.9,351.5 254.3,352.0 256.6,352.5 259.0,352.9 261.4,353.4 263.7,353.8 266.1,354.3 268.5,354.7 270.9,355.1 273.2,355.6 275.6,356.0 278.0,356.4 280.4,356.8 282.7,357.2 285.1,357.6 287.5,358.0 289.8,358.4 292.2,358.8 294.6,359.2 297.0,359.6 299.3,359.9 301.7,360.3 304.1,360.6 306.5,361.0 308.8,361.3 311.2,361.6 313.6,362.0 315.9,362.3 318.3,362.6 320.7,362.9 323.1,363.2 325.4,363.6 327.8,363.9 330.2,364.2 332.5,364.5 334.9,364.8 337.3,365.1 339.7,365.4 342.0,365.7 344.4,366.0 346.8,366.3 349.2,366.5 351.5,366.8 353.9,367.1 356.3,367.4 358.6,367.7 361.0,367.9 363.4,368.2 365.8,368.5 368.1,368.7 370.5,369.0 372.9,369.3 375.3,369.5 377.6,369.8 380.0,370.0 382.4,370.3 384.7,370.5 387.1,370.8 389.5,371.0 391.9,371.3 394.2,371.5 396.6,371.8 399.0,372.0 401.3,372.2 403.7,372.5 406.1,372.7 408.5,372.9 410.8,373.2 413.2,373.4 415.6,373.7 418.0,373.9 420.3,374.2 422.7,374.4 425.1,374.7 427.4,374.9 429.8,375.2 432.2,375.4 434.6,375.7 436.9,375.9 439.3,376.2 441.7,376.4 444.1,376.6 446.4,376.9 448.8,377.1 451.2,377.4 453.5,377.6 455.9,377.8 458.3,378.1 460.7,378.3 463.0,378.5 465.4,378.8 467.8,379.0 470.1,379.2 472.5,379.4 474.9,379.6 477.3,379.9 479.6,380.1 482.0,380.3 484.4,380.5 486.8,380.7 489.1,381.0 491.5,381.2 493.9,381.4 496.2,381.6 498.6,381.8 501.0,382.0 503.4,382.2 505.7,382.4 508.1,382.6 510.5,382.9 512.9,383.1 515.2,383.3 517.6,383.5 520.0,383.7 522.3,383.9 524.7,384.1 527.1,384.3 529.5,384.5 531.8,384.7" fill="none" stroke="#f86060" stroke-width="1"/><polyline points="85.7,295.2 86.9,296.4 88.1,297.5 89.3,298.7 90.5,299.7 92.9,301.8 95.2,303.7 97.6,305.6 100.0,307.3 102.3,308.9 104.7,310.5 107.1,312.0 109.5,313.5 111.8,314.9 114.2,316.3 116.6,317.6 118.9,318.9 121.3,320.2 123.7,321.4 126.1,322.5 128.4,323.7 130.8,324.8 133.2,325.9 135.6,327.0 137.9,328.0 140.3,329.0 142.7,330.0 145.0,331.0 147.4,331.9 149.8,332.9 152.2,333.8 154.5,334.6 156.9,335.5 159.3,336.4 161.7,337.2 164.0,338.0 166.4,338.8 168.8,339.6 171.1,340.4 173.5,341.1 175.9,341.8 178.3,342.6 180.6,343.3 183.0,344.0 185.4,344.6 187.7,345.3 190.1,346.0 192.5,346.6 194.9,347.3 197.2,347.9 199.6,348.5 202.0,349.1 204.4,349.7 206.7,350.3 209.1,350.9 211.5,351.5 213.8,352.1 216.2,352.6 218.6,353.2 221.0,353.7 223.3,354.2 225.7,354.8 228.1,355.3 230.5,355.8 232.8,356.3 235.2,356.8 237.6,357.3 239.9,357.8 242.3,358.3 244.7,358.7 247.1,359.2 249.4,359.7 251.8,360.1 254.2,360.6 256.5,361.0 258.9,361.5 261.3,361.9 263.7,362.3 266.0,362.8 268.4,363.2 270.8,363.6 273.2,364.0 275.5,364.4 277.9,364.8 280.3,365.2 282.6,365.6 285.0,366.0 287.4,366.4 289.8,366.8 292.1,367.1 294.5,367.5 296.9,367.8 299.3,368.2 301.6,368.5 304.0,368.8 306.4,369.2 308.7,369.5 311.1,369.8 313.5,370.1 315.9,370.4 318.2,370.8 320.6,371.1 323.0,371.4 325.3,371.7 327.7,372.0 330.1,372.3 332.5,372.6 334.8,372.9 337.2,373.2 339.6,373.5 342.0,373.7 344.3,374.0 346.7,374.3 349.1,374.6 351.4,374.9 353.8,375.1 356.2,375.4 358.6,375.7 360.9,375.9 363.3,376.2 365.7,376.5 368.1,376.7 370.4,377.0 372.8,377.2 375.2,377.5 377.5,377.7 379.9,378.0 382.3,378.2 384.7,378.5 387.0,378.7 389.4,379.0 391.8,379.2 394.1,379.4 396.5,379.7 398.9,379.9 401.3,380.1 403.6,380.4 406.0,380.6 408.4,380.9 410.8,381.1 413.1,381.4 415.5,381.6 417.9,381.9 420.2,382.1 422.6,382.4 425.0,382.6 427.4,382.9 429.7,383.1 432.1,383.4 434.5,383.6 436.9,383.8 439.2,384.1 441.6,384.3 444.0,384.6 446.3,384.8 448.7,385.0 451.1,385.3 453.5,385.5 455.8,385.7 458.2,386.0 460.6,386.2 462.9,386.4 465.3,386.6 467.7,386.8 470.1,387.1 472.4,387.3 474.8,387.5 477.2,387.7 479.6,387.9 481.9,388.2 484.3,388.4 486.7,388.6 489.0,388.8 491.4,389.0 493.8,389.2 496.2,389.4 498.5,389.6 500.9,389.8 503.3,390.1 505.7,390.3 508.0,390.5 510.4,390.7 512.8,390.9 515.1,391.1 517.5,391.3 519.9,391.5 522.3,391.7 524.6,391.9" fill="none" stroke="#f86060" stroke-width="1"/>
<rect x="50.31" y="73.12" width="7.2" height="7.2" fill="#80b2f2" fill-opacity="0.45" stroke="#5a98ea" stroke-opacity="0.7" stroke-width="0.9"/>
<rect x="51.34" y="150.86" width="7.2" height="7.2" fill="#80b2f2" fill-opacity="0.45" stroke="#5a98ea" stroke-opacity="0.7" stroke-width="0.9"/>
<rect x="52.52" y="177.61" width="7.2" height="7.2" fill="#80b2f2" fill-opacity="0.45" stroke="#5a98ea" stroke-opacity="0.7" stroke-width="0.9"/>
<rect x="53.71" y="193.26" width="7.2" height="7.2" fill="#80b2f2" fill-opacity="0.45" stroke="#5a98ea" stroke-opacity="0.7" stroke-width="0.9"/>
<rect x="54.89" y="204.36" width="7.2" height="7.2" fill="#80b2f2" fill-opacity="0.45" stroke="#5a98ea" stroke-opacity="0.7" stroke-width="0.9"/>
<rect x="56.08" y="212.97" width="7.2" height="7.2" fill="#80b2f2" fill-opacity="0.45" stroke="#5a98ea" stroke-opacity="0.7" stroke-width="0.9"/>
<rect x="57.27" y="220.03" width="7.2" height="7.2" fill="#80b2f2" fill-opacity="0.45" stroke="#5a98ea" stroke-opacity="0.7" stroke-width="0.9"/>
<rect x="58.45" y="226.01" width="7.2" height="7.2" fill="#80b2f2" fill-opacity="0.45" stroke="#5a98ea" stroke-opacity="0.7" stroke-width="0.9"/>
<rect x="59.64" y="231.22" width="7.2" height="7.2" fill="#80b2f2" fill-opacity="0.45" stroke="#5a98ea" stroke-opacity="0.7" stroke-width="0.9"/>
<rect x="60.83" y="235.85" width="7.2" height="7.2" fill="#80b2f2" fill-opacity="0.45" stroke="#5a98ea" stroke-opacity="0.7" stroke-width="0.9"/>
<rect x="62.01" y="240.03" width="7.2" height="7.2" fill="#80b2f2" fill-opacity="0.45" stroke="#5a98ea" stroke-opacity="0.7" stroke-width="0.9"/>
<rect x="63.20" y="243.85" width="7.2" height="7.2" fill="#80b2f2" fill-opacity="0.45" stroke="#5a98ea" stroke-opacity="0.7" stroke-width="0.9"/>
<rect x="64.38" y="247.35" width="7.2" height="7.2" fill="#80b2f2" fill-opacity="0.45" stroke="#5a98ea" stroke-opacity="0.7" stroke-width="0.9"/>
<rect x="65.57" y="250.60" width="7.2" height="7.2" fill="#80b2f2" fill-opacity="0.45" stroke="#5a98ea" stroke-opacity="0.7" stroke-width="0.9"/>
<rect x="66.76" y="253.63" width="7.2" height="7.2" fill="#80b2f2" fill-opacity="0.45" stroke="#5a98ea" stroke-opacity="0.7" stroke-width="0.9"/>
<rect x="67.94" y="256.46" width="7.2" height="7.2" fill="#80b2f2" fill-opacity="0.45" stroke="#5a98ea" stroke-opacity="0.7" stroke-width="0.9"/>
<rect x="69.13" y="259.10" width="7.2" height="7.2" fill="#80b2f2" fill-opacity="0.45" stroke="#5a98ea" stroke-opacity="0.7" stroke-width="0.9"/>
<rect x="70.32" y="261.58" width="7.2" height="7.2" fill="#80b2f2" fill-opacity="0.45" stroke="#5a98ea" stroke-opacity="0.7" stroke-width="0.9"/>
<rect x="71.50" y="263.92" width="7.2" height="7.2" fill="#80b2f2" fill-opacity="0.45" stroke="#5a98ea" stroke-opacity="0.7" stroke-width="0.9"/>
<rect x="72.69" y="266.12" width="7.2" height="7.2" fill="#80b2f2" fill-opacity="0.45" stroke="#5a98ea" stroke-opacity="0.7" stroke-width="0.9"/>
<rect x="73.87" y="268.19" width="7.2" height="7.2" fill="#80b2f2" fill-opacity="0.45" stroke="#5a98ea" stroke-opacity="0.7" stroke-width="0.9"/>
<rect x="75.06" y="270.15" width="7.2" height="7.2" fill="#80b2f2" fill-opacity="0.45" stroke="#5a98ea" stroke-opacity="0.7" stroke-width="0.9"/>
<rect x="76.25" y="272.00" width="7.2" height="7.2" fill="#80b2f2" fill-opacity="0.45" stroke="#5a98ea" stroke-opacity="0.7" stroke-width="0.9"/>
<rect x="77.43" y="273.76" width="7.2" height="7.2" fill="#80b2f2" fill-opacity="0.45" stroke="#5a98ea" stroke-opacity="0.7" stroke-width="0.9"/>
<rect x="78.62" y="275.43" width="7.2" height="7.2" fill="#80b2f2" fill-opacity="0.45" stroke="#5a98ea" stroke-opacity="0.7" stroke-width="0.9"/>
<rect x="79.81" y="277.01" width="7.2" height="7.2" fill="#80b2f2" fill-opacity="0.45" stroke="#5a98ea" stroke-opacity="0.7" stroke-width="0.9"/>
<rect x="80.99" y="278.52" width="7.2" height="7.2" fill="#80b2f2" fill-opacity="0.45" stroke="#5a98ea" stroke-opacity="0.7" stroke-width="0.9"/>
<rect x="82.18" y="279.97" width="7.2" height="7.2" fill="#80b2f2" fill-opacity="0.45" stroke="#5a98ea" stroke-opacity="0.7" stroke-width="0.9"/>
<rect x="83.36" y="281.34" width="7.2" height="7.2" fill="#80b2f2" fill-opacity="0.45" stroke="#5a98ea" stroke-opacity="0.7" stroke-width="0.9"/>
<rect x="84.55" y="282.66" width="7.2" height="7.2" fill="#80b2f2" fill-opacity="0.45" stroke="#5a98ea" stroke-opacity="0.7" stroke-width="0.9"/>
<rect x="85.74" y="283.93" width="7.2" height="7.2" fill="#80b2f2" fill-opacity="0.45" stroke="#5a98ea" stroke-opacity="0.7" stroke-width="0.9"/>
<rect x="86.92" y="285.15" width="7.2" height="7.2" fill="#80b2f2" fill-opacity="0.45" stroke="#5a98ea" stroke-opacity="0.7" stroke-width="0.9"/>
<polygon points="92.9,283.9 94.1,285.2 95.3,286.3 96.5,287.5 97.7,288.6 100.1,290.6 102.4,292.6 104.8,294.5 107.2,296.2 109.5,297.9 111.9,299.5 114.3,301.1 116.7,302.5 119.0,304.0 121.4,305.4 123.8,306.7 126.1,308.0 128.5,309.3 130.9,310.5 133.3,311.7 135.6,312.8 138.0,313.9 140.4,315.0 142.8,316.1 145.1,317.1 147.5,318.1 149.9,319.1 152.2,320.1 154.6,321.0 157.0,321.9 159.4,322.8 161.7,323.7 164.1,324.6 166.5,325.4 168.9,326.2 171.2,327.0 173.6,327.8 176.0,328.6 178.3,329.4 180.7,330.1 183.1,330.8 185.5,331.6 187.8,332.3 190.2,333.0 192.6,333.7 194.9,334.3 197.3,335.0 199.7,335.6 202.1,336.3 204.4,336.9 206.8,337.5 209.2,338.1 211.6,338.7 213.9,339.3 216.3,339.9 218.7,340.5 221.0,341.1 223.4,341.6 225.8,342.2 228.2,342.7 230.5,343.3 232.9,343.8 235.3,344.3 237.7,344.8 240.0,345.3 242.4,345.8 244.8,346.3 247.1,346.8 249.5,347.3 251.9,347.8 254.3,348.2 256.6,348.7 259.0,349.2 261.4,349.6 263.7,350.1 266.1,350.5 268.5,351.0 270.9,351.4 273.2,351.8 275.6,352.3 278.0,352.7 280.4,353.1 282.7,353.5 285.1,353.9 287.5,354.3 289.8,354.7 292.2,355.1 294.6,355.5 297.0,355.9 299.3,356.2 301.7,356.5 304.1,356.9 306.5,357.2 308.8,357.6 311.2,357.9 313.6,358.2 315.9,358.5 318.3,358.9 320.7,359.2 323.1,359.5 325.4,359.8 327.8,360.1 330.2,360.4 332.5,360.7 334.9,361.0 337.3,361.3 339.7,361.6 342.0,361.9 344.4,362.2 346.8,362.5 349.2,362.8 351.5,363.0 353.9,363.3 356.3,363.6 358.6,363.9 361.0,364.1 363.4,364.4 365.8,364.7 368.1,364.9 370.5,365.2 372.9,365.5 375.3,365.7 377.6,366.0 380.0,366.2 382.4,366.5 384.7,366.7 387.1,367.0 389.5,367.2 391.9,367.5 394.2,367.7 396.6,368.0 399.0,368.2 401.3,368.4 403.7,368.7 406.1,368.9 408.5,369.1 410.8,369.3 413.2,369.6 415.6,369.8 418.0,370.1 420.3,370.3 422.7,370.6 425.1,370.8 427.4,371.1 429.8,371.3 432.2,371.6 434.6,371.8 436.9,372.1 439.3,372.3 441.7,372.5 444.1,372.8 446.4,373.0 448.8,373.3 451.2,373.5 453.5,373.7 455.9,373.9 458.3,374.2 460.7,374.4 463.0,374.6 465.4,374.9 467.8,375.1 470.1,375.3 472.5,375.5 474.9,375.7 477.3,376.0 479.6,376.2 482.0,376.4 484.4,376.6 486.8,376.8 489.1,377.0 491.5,377.2 493.9,377.5 496.2,377.7 498.6,377.9 501.0,378.1 503.4,378.3 505.7,378.5 508.1,378.7 510.5,378.9 512.9,379.1 515.2,379.3 517.6,379.5 520.0,379.7 522.3,379.9 524.7,380.1 527.1,380.3 529.5,380.5 531.8,380.7 524.6,387.9 522.3,387.7 519.9,387.5 517.5,387.3 515.1,387.1 512.8,386.9 510.4,386.7 508.0,386.5 505.7,386.3 503.3,386.1 500.9,385.9 498.5,385.7 496.2,385.5 493.8,385.3 491.4,385.1 489.0,384.9 486.7,384.7 484.3,384.4 481.9,384.2 479.6,384.0 477.2,383.8 474.8,383.6 472.4,383.4 470.1,383.2 467.7,382.9 465.3,382.7 462.9,382.5 460.6,382.3 458.2,382.1 455.8,381.8 453.5,381.6 451.1,381.4 448.7,381.1 446.3,380.9 444.0,380.7 441.6,380.5 439.2,380.2 436.9,380.0 434.5,379.7 432.1,379.5 429.7,379.3 427.4,379.0 425.0,378.8 422.6,378.5 420.2,378.3 417.9,378.0 415.5,377.8 413.1,377.5 410.8,377.3 408.4,377.0 406.0,376.8 403.6,376.5 401.3,376.3 398.9,376.1 396.5,375.9 394.1,375.6 391.8,375.4 389.4,375.2 387.0,374.9 384.7,374.7 382.3,374.4 379.9,374.2 377.5,373.9 375.2,373.7 372.8,373.4 370.4,373.2 368.1,372.9 365.7,372.7 363.3,372.4 360.9,372.1 358.6,371.9 356.2,371.6 353.8,371.3 351.4,371.1 349.1,370.8 346.7,370.5 344.3,370.2 342.0,370.0 339.6,369.7 337.2,369.4 334.8,369.1 332.5,368.8 330.1,368.5 327.7,368.2 325.3,367.9 323.0,367.6 320.6,367.3 318.2,367.0 315.9,366.7 313.5,366.4 311.1,366.1 308.7,365.7 306.4,365.4 304.0,365.1 301.6,364.8 299.3,364.4 296.9,364.1 294.5,363.7 292.1,363.4 289.8,363.1 287.4,362.7 285.0,362.3 282.6,361.9 280.3,361.5 277.9,361.1 275.5,360.7 273.2,360.3 270.8,359.9 268.4,359.5 266.0,359.0 263.7,358.6 261.3,358.2 258.9,357.7 256.5,357.3 254.2,356.8 251.8,356.4 249.4,355.9 247.1,355.4 244.7,355.0 242.3,354.5 239.9,354.0 237.6,353.5 235.2,353.0 232.8,352.5 230.5,352.0 228.1,351.5 225.7,351.0 223.3,350.5 221.0,349.9 218.6,349.4 216.2,348.8 213.8,348.3 211.5,347.7 209.1,347.1 206.7,346.5 204.4,345.9 202.0,345.3 199.6,344.7 197.2,344.1 194.9,343.5 192.5,342.8 190.1,342.2 187.7,341.5 185.4,340.9 183.0,340.2 180.6,339.5 178.3,338.8 175.9,338.0 173.5,337.3 171.1,336.6 168.8,335.8 166.4,335.0 164.0,334.2 161.7,333.4 159.3,332.6 156.9,331.8 154.5,330.9 152.2,330.0 149.8,329.1 147.4,328.2 145.0,327.3 142.7,326.3 140.3,325.3 137.9,324.3 135.6,323.3 133.2,322.2 130.8,321.1 128.4,320.0 126.1,318.9 123.7,317.7 121.3,316.5 118.9,315.2 116.6,313.9 114.2,312.6 111.8,311.2 109.5,309.7 107.1,308.3 104.7,306.7 102.3,305.1 100.0,303.4 97.6,301.7 95.2,299.8 92.9,297.8 90.5,295.8 89.3,294.7 88.1,293.5 86.9,292.4 85.7,291.1" fill="#80b2f2"/>
<polyline points="92.9,283.9 94.1,285.2 95.3,286.3 96.5,287.5 97.7,288.6 100.1,290.6 102.4,292.6 104.8,294.5 107.2,296.2 109.5,297.9 111.9,299.5 114.3,301.1 116.7,302.5 119.0,304.0 121.4,305.4 123.8,306.7 126.1,308.0 128.5,309.3 130.9,310.5 133.3,311.7 135.6,312.8 138.0,313.9 140.4,315.0 142.8,316.1 145.1,317.1 147.5,318.1 149.9,319.1 152.2,320.1 154.6,321.0 157.0,321.9 159.4,322.8 161.7,323.7 164.1,324.6 166.5,325.4 168.9,326.2 171.2,327.0 173.6,327.8 176.0,328.6 178.3,329.4 180.7,330.1 183.1,330.8 185.5,331.6 187.8,332.3 190.2,333.0 192.6,333.7 194.9,334.3 197.3,335.0 199.7,335.6 202.1,336.3 204.4,336.9 206.8,337.5 209.2,338.1 211.6,338.7 213.9,339.3 216.3,339.9 218.7,340.5 221.0,341.1 223.4,341.6 225.8,342.2 228.2,342.7 230.5,343.3 232.9,343.8 235.3,344.3 237.7,344.8 240.0,345.3 242.4,345.8 244.8,346.3 247.1,346.8 249.5,347.3 251.9,347.8 254.3,348.2 256.6,348.7 259.0,349.2 261.4,349.6 263.7,350.1 266.1,350.5 268.5,351.0 270.9,351.4 273.2,351.8 275.6,352.3 278.0,352.7 280.4,353.1 282.7,353.5 285.1,353.9 287.5,354.3 289.8,354.7 292.2,355.1 294.6,355.5 297.0,355.9 299.3,356.2 301.7,356.5 304.1,356.9 306.5,357.2 308.8,357.6 311.2,357.9 313.6,358.2 315.9,358.5 318.3,358.9 320.7,359.2 323.1,359.5 325.4,359.8 327.8,360.1 330.2,360.4 332.5,360.7 334.9,361.0 337.3,361.3 339.7,361.6 342.0,361.9 344.4,362.2 346.8,362.5 349.2,362.8 351.5,363.0 353.9,363.3 356.3,363.6 358.6,363.9 361.0,364.1 363.4,364.4 365.8,364.7 368.1,364.9 370.5,365.2 372.9,365.5 375.3,365.7 377.6,366.0 380.0,366.2 382.4,366.5 384.7,366.7 387.1,367.0 389.5,367.2 391.9,367.5 394.2,367.7 396.6,368.0 399.0,368.2 401.3,368.4 403.7,368.7 406.1,368.9 408.5,369.1 410.8,369.3 413.2,369.6 415.6,369.8 418.0,370.1 420.3,370.3 422.7,370.6 425.1,370.8 427.4,371.1 429.8,371.3 432.2,371.6 434.6,371.8 436.9,372.1 439.3,372.3 441.7,372.5 444.1,372.8 446.4,373.0 448.8,373.3 451.2,373.5 453.5,373.7 455.9,373.9 458.3,374.2 460.7,374.4 463.0,374.6 465.4,374.9 467.8,375.1 470.1,375.3 472.5,375.5 474.9,375.7 477.3,376.0 479.6,376.2 482.0,376.4 484.4,376.6 486.8,376.8 489.1,377.0 491.5,377.2 493.9,377.5 496.2,377.7 498.6,377.9 501.0,378.1 503.4,378.3 505.7,378.5 508.1,378.7 510.5,378.9 512.9,379.1 515.2,379.3 517.6,379.5 520.0,379.7 522.3,379.9 524.7,380.1 527.1,380.3 529.5,380.5 531.8,380.7" fill="none" stroke="#5a98ea" stroke-width="1"/><polyline points="85.7,291.1 86.9,292.4 88.1,293.5 89.3,294.7 90.5,295.8 92.9,297.8 95.2,299.8 97.6,301.7 100.0,303.4 102.3,305.1 104.7,306.7 107.1,308.3 109.5,309.7 111.8,311.2 114.2,312.6 116.6,313.9 118.9,315.2 121.3,316.5 123.7,317.7 126.1,318.9 128.4,320.0 130.8,321.1 133.2,322.2 135.6,323.3 137.9,324.3 140.3,325.3 142.7,326.3 145.0,327.3 147.4,328.2 149.8,329.1 152.2,330.0 154.5,330.9 156.9,331.8 159.3,332.6 161.7,333.4 164.0,334.2 166.4,335.0 168.8,335.8 171.1,336.6 173.5,337.3 175.9,338.0 178.3,338.8 180.6,339.5 183.0,340.2 185.4,340.9 187.7,341.5 190.1,342.2 192.5,342.8 194.9,343.5 197.2,344.1 199.6,344.7 202.0,345.3 204.4,345.9 206.7,346.5 209.1,347.1 211.5,347.7 213.8,348.3 216.2,348.8 218.6,349.4 221.0,349.9 223.3,350.5 225.7,351.0 228.1,351.5 230.5,352.0 232.8,352.5 235.2,353.0 237.6,353.5 239.9,354.0 242.3,354.5 244.7,355.0 247.1,355.4 249.4,355.9 251.8,356.4 254.2,356.8 256.5,357.3 258.9,357.7 261.3,358.2 263.7,358.6 266.0,359.0 268.4,359.5 270.8,359.9 273.2,360.3 275.5,360.7 277.9,361.1 280.3,361.5 282.6,361.9 285.0,362.3 287.4,362.7 289.8,363.1 292.1,363.4 294.5,363.7 296.9,364.1 299.3,364.4 301.6,364.8 304.0,365.1 306.4,365.4 308.7,365.7 311.1,366.1 313.5,366.4 315.9,366.7 318.2,367.0 320.6,367.3 323.0,367.6 325.3,367.9 327.7,368.2 330.1,368.5 332.5,368.8 334.8,369.1 337.2,369.4 339.6,369.7 342.0,370.0 344.3,370.2 346.7,370.5 349.1,370.8 351.4,371.1 353.8,371.3 356.2,371.6 358.6,371.9 360.9,372.1 363.3,372.4 365.7,372.7 368.1,372.9 370.4,373.2 372.8,373.4 375.2,373.7 377.5,373.9 379.9,374.2 382.3,374.4 384.7,374.7 387.0,374.9 389.4,375.2 391.8,375.4 394.1,375.6 396.5,375.9 398.9,376.1 401.3,376.3 403.6,376.5 406.0,376.8 408.4,377.0 410.8,377.3 413.1,377.5 415.5,377.8 417.9,378.0 420.2,378.3 422.6,378.5 425.0,378.8 427.4,379.0 429.7,379.3 432.1,379.5 434.5,379.7 436.9,380.0 439.2,380.2 441.6,380.5 444.0,380.7 446.3,380.9 448.7,381.1 451.1,381.4 453.5,381.6 455.8,381.8 458.2,382.1 460.6,382.3 462.9,382.5 465.3,382.7 467.7,382.9 470.1,383.2 472.4,383.4 474.8,383.6 477.2,383.8 479.6,384.0 481.9,384.2 484.3,384.4 486.7,384.7 489.0,384.9 491.4,385.1 493.8,385.3 496.2,385.5 498.5,385.7 500.9,385.9 503.3,386.1 505.7,386.3 508.0,386.5 510.4,386.7 512.8,386.9 515.1,387.1 517.5,387.3 519.9,387.5 522.3,387.7 524.6,387.9" fill="none" stroke="#5a98ea" stroke-width="1"/>
<rect x="50.31" y="70.01" width="7.2" height="7.2" fill="#86d8b0" fill-opacity="0.45" stroke="#2ec088" stroke-opacity="0.7" stroke-width="0.9"/>
<rect x="51.34" y="148.05" width="7.2" height="7.2" fill="#86d8b0" fill-opacity="0.45" stroke="#2ec088" stroke-opacity="0.7" stroke-width="0.9"/>
<rect x="52.52" y="174.90" width="7.2" height="7.2" fill="#86d8b0" fill-opacity="0.45" stroke="#2ec088" stroke-opacity="0.7" stroke-width="0.9"/>
<rect x="53.71" y="190.60" width="7.2" height="7.2" fill="#86d8b0" fill-opacity="0.45" stroke="#2ec088" stroke-opacity="0.7" stroke-width="0.9"/>
<rect x="54.89" y="201.75" width="7.2" height="7.2" fill="#86d8b0" fill-opacity="0.45" stroke="#2ec088" stroke-opacity="0.7" stroke-width="0.9"/>
<rect x="56.08" y="210.40" width="7.2" height="7.2" fill="#86d8b0" fill-opacity="0.45" stroke="#2ec088" stroke-opacity="0.7" stroke-width="0.9"/>
<rect x="57.27" y="217.47" width="7.2" height="7.2" fill="#86d8b0" fill-opacity="0.45" stroke="#2ec088" stroke-opacity="0.7" stroke-width="0.9"/>
<rect x="58.45" y="223.47" width="7.2" height="7.2" fill="#86d8b0" fill-opacity="0.45" stroke="#2ec088" stroke-opacity="0.7" stroke-width="0.9"/>
<rect x="59.64" y="228.69" width="7.2" height="7.2" fill="#86d8b0" fill-opacity="0.45" stroke="#2ec088" stroke-opacity="0.7" stroke-width="0.9"/>
<rect x="60.83" y="233.31" width="7.2" height="7.2" fill="#86d8b0" fill-opacity="0.45" stroke="#2ec088" stroke-opacity="0.7" stroke-width="0.9"/>
<rect x="62.01" y="237.48" width="7.2" height="7.2" fill="#86d8b0" fill-opacity="0.45" stroke="#2ec088" stroke-opacity="0.7" stroke-width="0.9"/>
<rect x="63.20" y="241.27" width="7.2" height="7.2" fill="#86d8b0" fill-opacity="0.45" stroke="#2ec088" stroke-opacity="0.7" stroke-width="0.9"/>
<rect x="64.38" y="244.76" width="7.2" height="7.2" fill="#86d8b0" fill-opacity="0.45" stroke="#2ec088" stroke-opacity="0.7" stroke-width="0.9"/>
<rect x="65.57" y="247.98" width="7.2" height="7.2" fill="#86d8b0" fill-opacity="0.45" stroke="#2ec088" stroke-opacity="0.7" stroke-width="0.9"/>
<rect x="66.76" y="250.97" width="7.2" height="7.2" fill="#86d8b0" fill-opacity="0.45" stroke="#2ec088" stroke-opacity="0.7" stroke-width="0.9"/>
<rect x="67.94" y="253.77" width="7.2" height="7.2" fill="#86d8b0" fill-opacity="0.45" stroke="#2ec088" stroke-opacity="0.7" stroke-width="0.9"/>
<rect x="69.13" y="256.38" width="7.2" height="7.2" fill="#86d8b0" fill-opacity="0.45" stroke="#2ec088" stroke-opacity="0.7" stroke-width="0.9"/>
<rect x="70.32" y="258.84" width="7.2" height="7.2" fill="#86d8b0" fill-opacity="0.45" stroke="#2ec088" stroke-opacity="0.7" stroke-width="0.9"/>
<rect x="71.50" y="261.15" width="7.2" height="7.2" fill="#86d8b0" fill-opacity="0.45" stroke="#2ec088" stroke-opacity="0.7" stroke-width="0.9"/>
<rect x="72.69" y="263.33" width="7.2" height="7.2" fill="#86d8b0" fill-opacity="0.45" stroke="#2ec088" stroke-opacity="0.7" stroke-width="0.9"/>
<rect x="73.87" y="265.39" width="7.2" height="7.2" fill="#86d8b0" fill-opacity="0.45" stroke="#2ec088" stroke-opacity="0.7" stroke-width="0.9"/>
<rect x="75.06" y="267.33" width="7.2" height="7.2" fill="#86d8b0" fill-opacity="0.45" stroke="#2ec088" stroke-opacity="0.7" stroke-width="0.9"/>
<rect x="76.25" y="269.18" width="7.2" height="7.2" fill="#86d8b0" fill-opacity="0.45" stroke="#2ec088" stroke-opacity="0.7" stroke-width="0.9"/>
<rect x="77.43" y="270.93" width="7.2" height="7.2" fill="#86d8b0" fill-opacity="0.45" stroke="#2ec088" stroke-opacity="0.7" stroke-width="0.9"/>
<rect x="78.62" y="272.60" width="7.2" height="7.2" fill="#86d8b0" fill-opacity="0.45" stroke="#2ec088" stroke-opacity="0.7" stroke-width="0.9"/>
<rect x="79.81" y="274.19" width="7.2" height="7.2" fill="#86d8b0" fill-opacity="0.45" stroke="#2ec088" stroke-opacity="0.7" stroke-width="0.9"/>
<rect x="80.99" y="275.71" width="7.2" height="7.2" fill="#86d8b0" fill-opacity="0.45" stroke="#2ec088" stroke-opacity="0.7" stroke-width="0.9"/>
<rect x="82.18" y="277.16" width="7.2" height="7.2" fill="#86d8b0" fill-opacity="0.45" stroke="#2ec088" stroke-opacity="0.7" stroke-width="0.9"/>
<rect x="83.36" y="278.55" width="7.2" height="7.2" fill="#86d8b0" fill-opacity="0.45" stroke="#2ec088" stroke-opacity="0.7" stroke-width="0.9"/>
<rect x="84.55" y="279.88" width="7.2" height="7.2" fill="#86d8b0" fill-opacity="0.45" stroke="#2ec088" stroke-opacity="0.7" stroke-width="0.9"/>
<rect x="85.74" y="281.16" width="7.2" height="7.2" fill="#86d8b0" fill-opacity="0.45" stroke="#2ec088" stroke-opacity="0.7" stroke-width="0.9"/>
<rect x="86.92" y="282.40" width="7.2" height="7.2" fill="#86d8b0" fill-opacity="0.45" stroke="#2ec088" stroke-opacity="0.7" stroke-width="0.9"/>
<polygon points="92.9,281.2 94.1,282.4 95.3,283.6 96.5,284.7 97.7,285.9 100.1,288.0 102.4,290.0 104.8,291.9 107.2,293.7 109.5,295.4 111.9,297.0 114.3,298.6 116.7,300.1 119.0,301.6 121.4,303.0 123.8,304.4 126.1,305.7 128.5,306.9 130.9,308.2 133.3,309.4 135.6,310.5 138.0,311.7 140.4,312.8 142.8,313.8 145.1,314.9 147.5,315.9 149.9,316.9 152.2,317.9 154.6,318.8 157.0,319.7 159.4,320.6 161.7,321.5 164.1,322.4 166.5,323.2 168.9,324.1 171.2,324.9 173.6,325.7 176.0,326.5 178.3,327.2 180.7,328.0 183.1,328.7 185.5,329.5 187.8,330.2 190.2,330.9 192.6,331.6 194.9,332.3 197.3,333.0 199.7,333.6 202.1,334.3 204.4,334.9 206.8,335.5 209.2,336.2 211.6,336.8 213.9,337.4 216.3,338.0 218.7,338.6 221.0,339.1 223.4,339.7 225.8,340.3 228.2,340.8 230.5,341.4 232.9,341.9 235.3,342.4 237.7,343.0 240.0,343.5 242.4,344.0 244.8,344.5 247.1,345.0 249.5,345.5 251.9,346.0 254.3,346.4 256.6,346.9 259.0,347.4 261.4,347.9 263.7,348.3 266.1,348.8 268.5,349.2 270.9,349.7 273.2,350.1 275.6,350.5 278.0,351.0 280.4,351.4 282.7,351.8 285.1,352.2 287.5,352.6 289.8,353.1 292.2,353.5 294.6,353.9 297.0,354.2 299.3,354.5 301.7,354.9 304.1,355.2 306.5,355.5 308.8,355.9 311.2,356.2 313.6,356.5 315.9,356.8 318.3,357.1 320.7,357.4 323.1,357.7 325.4,358.0 327.8,358.3 330.2,358.6 332.5,358.9 334.9,359.2 337.3,359.5 339.7,359.8 342.0,360.1 344.4,360.3 346.8,360.6 349.2,360.9 351.5,361.2 353.9,361.4 356.3,361.7 358.6,362.0 361.0,362.2 363.4,362.5 365.8,362.7 368.1,363.0 370.5,363.2 372.9,363.5 375.3,363.7 377.6,364.0 380.0,364.2 382.4,364.5 384.7,364.7 387.1,364.9 389.5,365.2 391.9,365.4 394.2,365.6 396.6,365.9 399.0,366.1 401.3,366.3 403.7,366.5 406.1,366.8 408.5,367.0 410.8,367.2 413.2,367.4 415.6,367.7 418.0,367.9 420.3,368.2 422.7,368.4 425.1,368.7 427.4,368.9 429.8,369.2 432.2,369.4 434.6,369.7 436.9,369.9 439.3,370.1 441.7,370.4 444.1,370.6 446.4,370.9 448.8,371.1 451.2,371.3 453.5,371.6 455.9,371.8 458.3,372.0 460.7,372.3 463.0,372.5 465.4,372.7 467.8,372.9 470.1,373.2 472.5,373.4 474.9,373.6 477.3,373.8 479.6,374.0 482.0,374.3 484.4,374.5 486.8,374.7 489.1,374.9 491.5,375.1 493.9,375.3 496.2,375.5 498.6,375.7 501.0,375.9 503.4,376.2 505.7,376.4 508.1,376.6 510.5,376.8 512.9,377.0 515.2,377.2 517.6,377.4 520.0,377.6 522.3,377.8 524.7,378.0 527.1,378.2 529.5,378.4 531.8,378.6 524.6,385.8 522.3,385.6 519.9,385.4 517.5,385.2 515.1,385.0 512.8,384.8 510.4,384.6 508.0,384.4 505.7,384.2 503.3,384.0 500.9,383.8 498.5,383.6 496.2,383.4 493.8,383.1 491.4,382.9 489.0,382.7 486.7,382.5 484.3,382.3 481.9,382.1 479.6,381.9 477.2,381.7 474.8,381.5 472.4,381.2 470.1,381.0 467.7,380.8 465.3,380.6 462.9,380.4 460.6,380.1 458.2,379.9 455.8,379.7 453.5,379.5 451.1,379.2 448.7,379.0 446.3,378.8 444.0,378.5 441.6,378.3 439.2,378.1 436.9,377.8 434.5,377.6 432.1,377.3 429.7,377.1 427.4,376.9 425.0,376.6 422.6,376.4 420.2,376.1 417.9,375.9 415.5,375.6 413.1,375.4 410.8,375.1 408.4,374.9 406.0,374.6 403.6,374.4 401.3,374.2 398.9,374.0 396.5,373.7 394.1,373.5 391.8,373.3 389.4,373.1 387.0,372.8 384.7,372.6 382.3,372.4 379.9,372.1 377.5,371.9 375.2,371.7 372.8,371.4 370.4,371.2 368.1,370.9 365.7,370.7 363.3,370.4 360.9,370.2 358.6,369.9 356.2,369.7 353.8,369.4 351.4,369.2 349.1,368.9 346.7,368.6 344.3,368.4 342.0,368.1 339.6,367.8 337.2,367.5 334.8,367.3 332.5,367.0 330.1,366.7 327.7,366.4 325.3,366.1 323.0,365.8 320.6,365.5 318.2,365.2 315.9,364.9 313.5,364.6 311.1,364.3 308.7,364.0 306.4,363.7 304.0,363.4 301.6,363.1 299.3,362.7 296.9,362.4 294.5,362.1 292.1,361.7 289.8,361.4 287.4,361.1 285.0,360.7 282.6,360.3 280.3,359.8 277.9,359.4 275.5,359.0 273.2,358.6 270.8,358.2 268.4,357.7 266.0,357.3 263.7,356.9 261.3,356.4 258.9,356.0 256.5,355.5 254.2,355.1 251.8,354.6 249.4,354.1 247.1,353.6 244.7,353.2 242.3,352.7 239.9,352.2 237.6,351.7 235.2,351.2 232.8,350.7 230.5,350.2 228.1,349.6 225.7,349.1 223.3,348.6 221.0,348.0 218.6,347.5 216.2,346.9 213.8,346.3 211.5,345.8 209.1,345.2 206.7,344.6 204.4,344.0 202.0,343.4 199.6,342.7 197.2,342.1 194.9,341.5 192.5,340.8 190.1,340.2 187.7,339.5 185.4,338.8 183.0,338.1 180.6,337.4 178.3,336.7 175.9,335.9 173.5,335.2 171.1,334.4 168.8,333.7 166.4,332.9 164.0,332.1 161.7,331.3 159.3,330.4 156.9,329.6 154.5,328.7 152.2,327.8 149.8,326.9 147.4,326.0 145.0,325.1 142.7,324.1 140.3,323.1 137.9,322.1 135.6,321.0 133.2,320.0 130.8,318.9 128.4,317.7 126.1,316.6 123.7,315.4 121.3,314.1 118.9,312.9 116.6,311.6 114.2,310.2 111.8,308.8 109.5,307.3 107.1,305.8 104.7,304.2 102.3,302.6 100.0,300.9 97.6,299.1 95.2,297.2 92.9,295.2 90.5,293.1 89.3,291.9 88.1,290.8 86.9,289.6 85.7,288.4" fill="#86d8b0"/>
<polyline points="92.9,281.2 94.1,282.4 95.3,283.6 96.5,284.7 97.7,285.9 100.1,288.0 102.4,290.0 104.8,291.9 107.2,293.7 109.5,295.4 111.9,297.0 114.3,298.6 116.7,300.1 119.0,301.6 121.4,303.0 123.8,304.4 126.1,305.7 128.5,306.9 130.9,308.2 133.3,309.4 135.6,310.5 138.0,311.7 140.4,312.8 142.8,313.8 145.1,314.9 147.5,315.9 149.9,316.9 152.2,317.9 154.6,318.8 157.0,319.7 159.4,320.6 161.7,321.5 164.1,322.4 166.5,323.2 168.9,324.1 171.2,324.9 173.6,325.7 176.0,326.5 178.3,327.2 180.7,328.0 183.1,328.7 185.5,329.5 187.8,330.2 190.2,330.9 192.6,331.6 194.9,332.3 197.3,333.0 199.7,333.6 202.1,334.3 204.4,334.9 206.8,335.5 209.2,336.2 211.6,336.8 213.9,337.4 216.3,338.0 218.7,338.6 221.0,339.1 223.4,339.7 225.8,340.3 228.2,340.8 230.5,341.4 232.9,341.9 235.3,342.4 237.7,343.0 240.0,343.5 242.4,344.0 244.8,344.5 247.1,345.0 249.5,345.5 251.9,346.0 254.3,346.4 256.6,346.9 259.0,347.4 261.4,347.9 263.7,348.3 266.1,348.8 268.5,349.2 270.9,349.7 273.2,350.1 275.6,350.5 278.0,351.0 280.4,351.4 282.7,351.8 285.1,352.2 287.5,352.6 289.8,353.1 292.2,353.5 294.6,353.9 297.0,354.2 299.3,354.5 301.7,354.9 304.1,355.2 306.5,355.5 308.8,355.9 311.2,356.2 313.6,356.5 315.9,356.8 318.3,357.1 320.7,357.4 323.1,357.7 325.4,358.0 327.8,358.3 330.2,358.6 332.5,358.9 334.9,359.2 337.3,359.5 339.7,359.8 342.0,360.1 344.4,360.3 346.8,360.6 349.2,360.9 351.5,361.2 353.9,361.4 356.3,361.7 358.6,362.0 361.0,362.2 363.4,362.5 365.8,362.7 368.1,363.0 370.5,363.2 372.9,363.5 375.3,363.7 377.6,364.0 380.0,364.2 382.4,364.5 384.7,364.7 387.1,364.9 389.5,365.2 391.9,365.4 394.2,365.6 396.6,365.9 399.0,366.1 401.3,366.3 403.7,366.5 406.1,366.8 408.5,367.0 410.8,367.2 413.2,367.4 415.6,367.7 418.0,367.9 420.3,368.2 422.7,368.4 425.1,368.7 427.4,368.9 429.8,369.2 432.2,369.4 434.6,369.7 436.9,369.9 439.3,370.1 441.7,370.4 444.1,370.6 446.4,370.9 448.8,371.1 451.2,371.3 453.5,371.6 455.9,371.8 458.3,372.0 460.7,372.3 463.0,372.5 465.4,372.7 467.8,372.9 470.1,373.2 472.5,373.4 474.9,373.6 477.3,373.8 479.6,374.0 482.0,374.3 484.4,374.5 486.8,374.7 489.1,374.9 491.5,375.1 493.9,375.3 496.2,375.5 498.6,375.7 501.0,375.9 503.4,376.2 505.7,376.4 508.1,376.6 510.5,376.8 512.9,377.0 515.2,377.2 517.6,377.4 520.0,377.6 522.3,377.8 524.7,378.0 527.1,378.2 529.5,378.4 531.8,378.6" fill="none" stroke="#2ec088" stroke-width="1"/><polyline points="85.7,288.4 86.9,289.6 88.1,290.8 89.3,291.9 90.5,293.1 92.9,295.2 95.2,297.2 97.6,299.1 100.0,300.9 102.3,302.6 104.7,304.2 107.1,305.8 109.5,307.3 111.8,308.8 114.2,310.2 116.6,311.6 118.9,312.9 121.3,314.1 123.7,315.4 126.1,316.6 128.4,317.7 130.8,318.9 133.2,320.0 135.6,321.0 137.9,322.1 140.3,323.1 142.7,324.1 145.0,325.1 147.4,326.0 149.8,326.9 152.2,327.8 154.5,328.7 156.9,329.6 159.3,330.4 161.7,331.3 164.0,332.1 166.4,332.9 168.8,333.7 171.1,334.4 173.5,335.2 175.9,335.9 178.3,336.7 180.6,337.4 183.0,338.1 185.4,338.8 187.7,339.5 190.1,340.2 192.5,340.8 194.9,341.5 197.2,342.1 199.6,342.7 202.0,343.4 204.4,344.0 206.7,344.6 209.1,345.2 211.5,345.8 213.8,346.3 216.2,346.9 218.6,347.5 221.0,348.0 223.3,348.6 225.7,349.1 228.1,349.6 230.5,350.2 232.8,350.7 235.2,351.2 237.6,351.7 239.9,352.2 242.3,352.7 244.7,353.2 247.1,353.6 249.4,354.1 251.8,354.6 254.2,355.1 256.5,355.5 258.9,356.0 261.3,356.4 263.7,356.9 266.0,357.3 268.4,357.7 270.8,358.2 273.2,358.6 275.5,359.0 277.9,359.4 280.3,359.8 282.6,360.3 285.0,360.7 287.4,361.1 289.8,361.4 292.1,361.7 294.5,362.1 296.9,362.4 299.3,362.7 301.6,363.1 304.0,363.4 306.4,363.7 308.7,364.0 311.1,364.3 313.5,364.6 315.9,364.9 318.2,365.2 320.6,365.5 323.0,365.8 325.3,366.1 327.7,366.4 330.1,366.7 332.5,367.0 334.8,367.3 337.2,367.5 339.6,367.8 342.0,368.1 344.3,368.4 346.7,368.6 349.1,368.9 351.4,369.2 353.8,369.4 356.2,369.7 358.6,369.9 360.9,370.2 363.3,370.4 365.7,370.7 368.1,370.9 370.4,371.2 372.8,371.4 375.2,371.7 377.5,371.9 379.9,372.1 382.3,372.4 384.7,372.6 387.0,372.8 389.4,373.1 391.8,373.3 394.1,373.5 396.5,373.7 398.9,374.0 401.3,374.2 403.6,374.4 406.0,374.6 408.4,374.9 410.8,375.1 413.1,375.4 415.5,375.6 417.9,375.9 420.2,376.1 422.6,376.4 425.0,376.6 427.4,376.9 429.7,377.1 432.1,377.3 434.5,377.6 436.9,377.8 439.2,378.1 441.6,378.3 444.0,378.5 446.3,378.8 448.7,379.0 451.1,379.2 453.5,379.5 455.8,379.7 458.2,379.9 460.6,380.1 462.9,380.4 465.3,380.6 467.7,380.8 470.1,381.0 472.4,381.2 474.8,381.5 477.2,381.7 479.6,381.9 481.9,382.1 484.3,382.3 486.7,382.5 489.0,382.7 491.4,382.9 493.8,383.1 496.2,383.4 498.5,383.6 500.9,383.8 503.3,384.0 505.7,384.2 508.0,384.4 510.4,384.6 512.8,384.8 515.1,385.0 517.5,385.2 519.9,385.4 522.3,385.6 524.6,385.8" fill="none" stroke="#2ec088" stroke-width="1"/>
<rect x="50.31" y="70.53" width="7.2" height="7.2" fill="#ddb0f2" fill-opacity="0.45" stroke="#cf90ee" stroke-opacity="0.7" stroke-width="0.9"/>
<rect x="51.34" y="146.29" width="7.2" height="7.2" fill="#ddb0f2" fill-opacity="0.45" stroke="#cf90ee" stroke-opacity="0.7" stroke-width="0.9"/>
<rect x="52.52" y="172.35" width="7.2" height="7.2" fill="#ddb0f2" fill-opacity="0.45" stroke="#cf90ee" stroke-opacity="0.7" stroke-width="0.9"/>
<rect x="53.71" y="187.59" width="7.2" height="7.2" fill="#ddb0f2" fill-opacity="0.45" stroke="#cf90ee" stroke-opacity="0.7" stroke-width="0.9"/>
<rect x="54.89" y="198.41" width="7.2" height="7.2" fill="#ddb0f2" fill-opacity="0.45" stroke="#cf90ee" stroke-opacity="0.7" stroke-width="0.9"/>
<rect x="56.08" y="206.80" width="7.2" height="7.2" fill="#ddb0f2" fill-opacity="0.45" stroke="#cf90ee" stroke-opacity="0.7" stroke-width="0.9"/>
<rect x="57.27" y="213.66" width="7.2" height="7.2" fill="#ddb0f2" fill-opacity="0.45" stroke="#cf90ee" stroke-opacity="0.7" stroke-width="0.9"/>
<rect x="58.45" y="219.47" width="7.2" height="7.2" fill="#ddb0f2" fill-opacity="0.45" stroke="#cf90ee" stroke-opacity="0.7" stroke-width="0.9"/>
<rect x="59.64" y="224.50" width="7.2" height="7.2" fill="#ddb0f2" fill-opacity="0.45" stroke="#cf90ee" stroke-opacity="0.7" stroke-width="0.9"/>
<rect x="60.83" y="228.95" width="7.2" height="7.2" fill="#ddb0f2" fill-opacity="0.45" stroke="#cf90ee" stroke-opacity="0.7" stroke-width="0.9"/>
<rect x="62.01" y="232.94" width="7.2" height="7.2" fill="#ddb0f2" fill-opacity="0.45" stroke="#cf90ee" stroke-opacity="0.7" stroke-width="0.9"/>
<rect x="63.20" y="236.56" width="7.2" height="7.2" fill="#ddb0f2" fill-opacity="0.45" stroke="#cf90ee" stroke-opacity="0.7" stroke-width="0.9"/>
<rect x="64.38" y="239.87" width="7.2" height="7.2" fill="#ddb0f2" fill-opacity="0.45" stroke="#cf90ee" stroke-opacity="0.7" stroke-width="0.9"/>
<rect x="65.57" y="242.92" width="7.2" height="7.2" fill="#ddb0f2" fill-opacity="0.45" stroke="#cf90ee" stroke-opacity="0.7" stroke-width="0.9"/>
<rect x="66.76" y="245.75" width="7.2" height="7.2" fill="#ddb0f2" fill-opacity="0.45" stroke="#cf90ee" stroke-opacity="0.7" stroke-width="0.9"/>
<rect x="67.94" y="248.38" width="7.2" height="7.2" fill="#ddb0f2" fill-opacity="0.45" stroke="#cf90ee" stroke-opacity="0.7" stroke-width="0.9"/>
<rect x="69.13" y="250.85" width="7.2" height="7.2" fill="#ddb0f2" fill-opacity="0.45" stroke="#cf90ee" stroke-opacity="0.7" stroke-width="0.9"/>
<rect x="70.32" y="253.16" width="7.2" height="7.2" fill="#ddb0f2" fill-opacity="0.45" stroke="#cf90ee" stroke-opacity="0.7" stroke-width="0.9"/>
<rect x="71.50" y="255.34" width="7.2" height="7.2" fill="#ddb0f2" fill-opacity="0.45" stroke="#cf90ee" stroke-opacity="0.7" stroke-width="0.9"/>
<rect x="72.69" y="257.40" width="7.2" height="7.2" fill="#ddb0f2" fill-opacity="0.45" stroke="#cf90ee" stroke-opacity="0.7" stroke-width="0.9"/>
<rect x="73.87" y="259.36" width="7.2" height="7.2" fill="#ddb0f2" fill-opacity="0.45" stroke="#cf90ee" stroke-opacity="0.7" stroke-width="0.9"/>
<rect x="75.06" y="261.21" width="7.2" height="7.2" fill="#ddb0f2" fill-opacity="0.45" stroke="#cf90ee" stroke-opacity="0.7" stroke-width="0.9"/>
<rect x="76.25" y="262.97" width="7.2" height="7.2" fill="#ddb0f2" fill-opacity="0.45" stroke="#cf90ee" stroke-opacity="0.7" stroke-width="0.9"/>
<rect x="77.43" y="264.65" width="7.2" height="7.2" fill="#ddb0f2" fill-opacity="0.45" stroke="#cf90ee" stroke-opacity="0.7" stroke-width="0.9"/>
<rect x="78.62" y="266.26" width="7.2" height="7.2" fill="#ddb0f2" fill-opacity="0.45" stroke="#cf90ee" stroke-opacity="0.7" stroke-width="0.9"/>
<rect x="79.81" y="267.80" width="7.2" height="7.2" fill="#ddb0f2" fill-opacity="0.45" stroke="#cf90ee" stroke-opacity="0.7" stroke-width="0.9"/>
<rect x="80.99" y="269.27" width="7.2" height="7.2" fill="#ddb0f2" fill-opacity="0.45" stroke="#cf90ee" stroke-opacity="0.7" stroke-width="0.9"/>
<rect x="82.18" y="270.69" width="7.2" height="7.2" fill="#ddb0f2" fill-opacity="0.45" stroke="#cf90ee" stroke-opacity="0.7" stroke-width="0.9"/>
<rect x="83.36" y="272.05" width="7.2" height="7.2" fill="#ddb0f2" fill-opacity="0.45" stroke="#cf90ee" stroke-opacity="0.7" stroke-width="0.9"/>
<rect x="84.55" y="273.36" width="7.2" height="7.2" fill="#ddb0f2" fill-opacity="0.45" stroke="#cf90ee" stroke-opacity="0.7" stroke-width="0.9"/>
<rect x="85.74" y="274.62" width="7.2" height="7.2" fill="#ddb0f2" fill-opacity="0.45" stroke="#cf90ee" stroke-opacity="0.7" stroke-width="0.9"/>
<rect x="86.92" y="275.85" width="7.2" height="7.2" fill="#ddb0f2" fill-opacity="0.45" stroke="#cf90ee" stroke-opacity="0.7" stroke-width="0.9"/>
<polygon points="92.9,274.6 94.1,275.8 95.3,277.0 96.5,278.2 97.7,279.3 100.1,281.4 102.4,283.4 104.8,285.3 107.2,287.1 109.5,288.8 111.9,290.5 114.3,292.0 116.7,293.6 119.0,295.0 121.4,296.4 123.8,297.8 126.1,299.1 128.5,300.3 130.9,301.6 133.3,302.7 135.6,303.9 138.0,305.0 140.4,306.1 142.8,307.1 145.1,308.2 147.5,309.2 149.9,310.1 152.2,311.1 154.6,312.0 157.0,312.9 159.4,313.8 161.7,314.6 164.1,315.5 166.5,316.3 168.9,317.1 171.2,317.9 173.6,318.7 176.0,319.4 178.3,320.2 180.7,320.9 183.1,321.6 185.5,322.3 187.8,323.0 190.2,323.7 192.6,324.4 194.9,325.0 197.3,325.7 199.7,326.3 202.1,326.9 204.4,327.5 206.8,328.1 209.2,328.7 211.6,329.3 213.9,329.9 216.3,330.4 218.7,331.0 221.0,331.5 223.4,332.1 225.8,332.6 228.2,333.1 230.5,333.6 232.9,334.2 235.3,334.7 237.7,335.2 240.0,335.6 242.4,336.1 244.8,336.6 247.1,337.1 249.5,337.5 251.9,338.0 254.3,338.5 256.6,338.9 259.0,339.4 261.4,339.8 263.7,340.2 266.1,340.7 268.5,341.1 270.9,341.5 273.2,341.9 275.6,342.3 278.0,342.7 280.4,343.1 282.7,343.5 285.1,343.9 287.5,344.3 289.8,344.7 292.2,345.1 294.6,345.5 297.0,345.8 299.3,346.1 301.7,346.5 304.1,346.8 306.5,347.1 308.8,347.4 311.2,347.7 313.6,348.1 315.9,348.4 318.3,348.7 320.7,349.0 323.1,349.3 325.4,349.6 327.8,349.9 330.2,350.2 332.5,350.5 334.9,350.7 337.3,351.0 339.7,351.3 342.0,351.6 344.4,351.9 346.8,352.1 349.2,352.4 351.5,352.7 353.9,352.9 356.3,353.2 358.6,353.5 361.0,353.7 363.4,354.0 365.8,354.2 368.1,354.5 370.5,354.7 372.9,355.0 375.3,355.2 377.6,355.5 380.0,355.7 382.4,356.0 384.7,356.2 387.1,356.4 389.5,356.7 391.9,356.9 394.2,357.1 396.6,357.3 399.0,357.6 401.3,357.8 403.7,358.0 406.1,358.2 408.5,358.5 410.8,358.7 413.2,358.9 415.6,359.1 418.0,359.4 420.3,359.6 422.7,359.9 425.1,360.1 427.4,360.4 429.8,360.6 432.2,360.8 434.6,361.1 436.9,361.3 439.3,361.6 441.7,361.8 444.1,362.0 446.4,362.2 448.8,362.5 451.2,362.7 453.5,362.9 455.9,363.2 458.3,363.4 460.7,363.6 463.0,363.8 465.4,364.0 467.8,364.3 470.1,364.5 472.5,364.7 474.9,364.9 477.3,365.1 479.6,365.3 482.0,365.5 484.4,365.7 486.8,366.0 489.1,366.2 491.5,366.4 493.9,366.6 496.2,366.8 498.6,367.0 501.0,367.2 503.4,367.4 505.7,367.6 508.1,367.8 510.5,368.0 512.9,368.2 515.2,368.4 517.6,368.6 520.0,368.8 522.3,368.9 524.7,369.1 527.1,369.3 529.5,369.5 531.8,369.7 524.6,376.9 522.3,376.7 519.9,376.5 517.5,376.3 515.1,376.1 512.8,376.0 510.4,375.8 508.0,375.6 505.7,375.4 503.3,375.2 500.9,375.0 498.5,374.8 496.2,374.6 493.8,374.4 491.4,374.2 489.0,374.0 486.7,373.8 484.3,373.6 481.9,373.4 479.6,373.2 477.2,372.9 474.8,372.7 472.4,372.5 470.1,372.3 467.7,372.1 465.3,371.9 462.9,371.7 460.6,371.5 458.2,371.2 455.8,371.0 453.5,370.8 451.1,370.6 448.7,370.4 446.3,370.1 444.0,369.9 441.6,369.7 439.2,369.4 436.9,369.2 434.5,369.0 432.1,368.8 429.7,368.5 427.4,368.3 425.0,368.0 422.6,367.8 420.2,367.6 417.9,367.3 415.5,367.1 413.1,366.8 410.8,366.6 408.4,366.3 406.0,366.1 403.6,365.9 401.3,365.7 398.9,365.4 396.5,365.2 394.1,365.0 391.8,364.8 389.4,364.5 387.0,364.3 384.7,364.1 382.3,363.9 379.9,363.6 377.5,363.4 375.2,363.2 372.8,362.9 370.4,362.7 368.1,362.4 365.7,362.2 363.3,361.9 360.9,361.7 358.6,361.4 356.2,361.2 353.8,360.9 351.4,360.7 349.1,360.4 346.7,360.1 344.3,359.9 342.0,359.6 339.6,359.3 337.2,359.1 334.8,358.8 332.5,358.5 330.1,358.2 327.7,357.9 325.3,357.7 323.0,357.4 320.6,357.1 318.2,356.8 315.9,356.5 313.5,356.2 311.1,355.9 308.7,355.6 306.4,355.3 304.0,354.9 301.6,354.6 299.3,354.3 296.9,354.0 294.5,353.7 292.1,353.3 289.8,353.0 287.4,352.7 285.0,352.3 282.6,351.9 280.3,351.5 277.9,351.1 275.5,350.7 273.2,350.3 270.8,349.9 268.4,349.5 266.0,349.1 263.7,348.7 261.3,348.3 258.9,347.9 256.5,347.4 254.2,347.0 251.8,346.6 249.4,346.1 247.1,345.7 244.7,345.2 242.3,344.7 239.9,344.3 237.6,343.8 235.2,343.3 232.8,342.8 230.5,342.4 228.1,341.9 225.7,341.4 223.3,340.8 221.0,340.3 218.6,339.8 216.2,339.3 213.8,338.7 211.5,338.2 209.1,337.6 206.7,337.1 204.4,336.5 202.0,335.9 199.6,335.3 197.2,334.7 194.9,334.1 192.5,333.5 190.1,332.9 187.7,332.2 185.4,331.6 183.0,330.9 180.6,330.2 178.3,329.5 175.9,328.8 173.5,328.1 171.1,327.4 168.8,326.6 166.4,325.9 164.0,325.1 161.7,324.3 159.3,323.5 156.9,322.7 154.5,321.8 152.2,321.0 149.8,320.1 147.4,319.2 145.0,318.3 142.7,317.3 140.3,316.4 137.9,315.4 135.6,314.3 133.2,313.3 130.8,312.2 128.4,311.1 126.1,309.9 123.7,308.8 121.3,307.5 118.9,306.3 116.6,305.0 114.2,303.6 111.8,302.2 109.5,300.8 107.1,299.2 104.7,297.7 102.3,296.0 100.0,294.3 97.6,292.5 95.2,290.6 92.9,288.6 90.5,286.5 89.3,285.4 88.1,284.2 86.9,283.0 85.7,281.8" fill="#ddb0f2"/>
<polyline points="92.9,274.6 94.1,275.8 95.3,277.0 96.5,278.2 97.7,279.3 100.1,281.4 102.4,283.4 104.8,285.3 107.2,287.1 109.5,288.8 111.9,290.5 114.3,292.0 116.7,293.6 119.0,295.0 121.4,296.4 123.8,297.8 126.1,299.1 128.5,300.3 130.9,301.6 133.3,302.7 135.6,303.9 138.0,305.0 140.4,306.1 142.8,307.1 145.1,308.2 147.5,309.2 149.9,310.1 152.2,311.1 154.6,312.0 157.0,312.9 159.4,313.8 161.7,314.6 164.1,315.5 166.5,316.3 168.9,317.1 171.2,317.9 173.6,318.7 176.0,319.4 178.3,320.2 180.7,320.9 183.1,321.6 185.5,322.3 187.8,323.0 190.2,323.7 192.6,324.4 194.9,325.0 197.3,325.7 199.7,326.3 202.1,326.9 204.4,327.5 206.8,328.1 209.2,328.7 211.6,329.3 213.9,329.9 216.3,330.4 218.7,331.0 221.0,331.5 223.4,332.1 225.8,332.6 228.2,333.1 230.5,333.6 232.9,334.2 235.3,334.7 237.7,335.2 240.0,335.6 242.4,336.1 244.8,336.6 247.1,337.1 249.5,337.5 251.9,338.0 254.3,338.5 256.6,338.9 259.0,339.4 261.4,339.8 263.7,340.2 266.1,340.7 268.5,341.1 270.9,341.5 273.2,341.9 275.6,342.3 278.0,342.7 280.4,343.1 282.7,343.5 285.1,343.9 287.5,344.3 289.8,344.7 292.2,345.1 294.6,345.5 297.0,345.8 299.3,346.1 301.7,346.5 304.1,346.8 306.5,347.1 308.8,347.4 311.2,347.7 313.6,348.1 315.9,348.4 318.3,348.7 320.7,349.0 323.1,349.3 325.4,349.6 327.8,349.9 330.2,350.2 332.5,350.5 334.9,350.7 337.3,351.0 339.7,351.3 342.0,351.6 344.4,351.9 346.8,352.1 349.2,352.4 351.5,352.7 353.9,352.9 356.3,353.2 358.6,353.5 361.0,353.7 363.4,354.0 365.8,354.2 368.1,354.5 370.5,354.7 372.9,355.0 375.3,355.2 377.6,355.5 380.0,355.7 382.4,356.0 384.7,356.2 387.1,356.4 389.5,356.7 391.9,356.9 394.2,357.1 396.6,357.3 399.0,357.6 401.3,357.8 403.7,358.0 406.1,358.2 408.5,358.5 410.8,358.7 413.2,358.9 415.6,359.1 418.0,359.4 420.3,359.6 422.7,359.9 425.1,360.1 427.4,360.4 429.8,360.6 432.2,360.8 434.6,361.1 436.9,361.3 439.3,361.6 441.7,361.8 444.1,362.0 446.4,362.2 448.8,362.5 451.2,362.7 453.5,362.9 455.9,363.2 458.3,363.4 460.7,363.6 463.0,363.8 465.4,364.0 467.8,364.3 470.1,364.5 472.5,364.7 474.9,364.9 477.3,365.1 479.6,365.3 482.0,365.5 484.4,365.7 486.8,366.0 489.1,366.2 491.5,366.4 493.9,366.6 496.2,366.8 498.6,367.0 501.0,367.2 503.4,367.4 505.7,367.6 508.1,367.8 510.5,368.0 512.9,368.2 515.2,368.4 517.6,368.6 520.0,368.8 522.3,368.9 524.7,369.1 527.1,369.3 529.5,369.5 531.8,369.7" fill="none" stroke="#cf90ee" stroke-width="1"/><polyline points="85.7,281.8 86.9,283.0 88.1,284.2 89.3,285.4 90.5,286.5 92.9,288.6 95.2,290.6 97.6,292.5 100.0,294.3 102.3,296.0 104.7,297.7 107.1,299.2 109.5,300.8 111.8,302.2 114.2,303.6 116.6,305.0 118.9,306.3 121.3,307.5 123.7,308.8 126.1,309.9 128.4,311.1 130.8,312.2 133.2,313.3 135.6,314.3 137.9,315.4 140.3,316.4 142.7,317.3 145.0,318.3 147.4,319.2 149.8,320.1 152.2,321.0 154.5,321.8 156.9,322.7 159.3,323.5 161.7,324.3 164.0,325.1 166.4,325.9 168.8,326.6 171.1,327.4 173.5,328.1 175.9,328.8 178.3,329.5 180.6,330.2 183.0,330.9 185.4,331.6 187.7,332.2 190.1,332.9 192.5,333.5 194.9,334.1 197.2,334.7 199.6,335.3 202.0,335.9 204.4,336.5 206.7,337.1 209.1,337.6 211.5,338.2 213.8,338.7 216.2,339.3 218.6,339.8 221.0,340.3 223.3,340.8 225.7,341.4 228.1,341.9 230.5,342.4 232.8,342.8 235.2,343.3 237.6,343.8 239.9,344.3 242.3,344.7 244.7,345.2 247.1,345.7 249.4,346.1 251.8,346.6 254.2,347.0 256.5,347.4 258.9,347.9 261.3,348.3 263.7,348.7 266.0,349.1 268.4,349.5 270.8,349.9 273.2,350.3 275.5,350.7 277.9,351.1 280.3,351.5 282.6,351.9 285.0,352.3 287.4,352.7 289.8,353.0 292.1,353.3 294.5,353.7 296.9,354.0 299.3,354.3 301.6,354.6 304.0,354.9 306.4,355.3 308.7,355.6 311.1,355.9 313.5,356.2 315.9,356.5 318.2,356.8 320.6,357.1 323.0,357.4 325.3,357.7 327.7,357.9 330.1,358.2 332.5,358.5 334.8,358.8 337.2,359.1 339.6,359.3 342.0,359.6 344.3,359.9 346.7,360.1 349.1,360.4 351.4,360.7 353.8,360.9 356.2,361.2 358.6,361.4 360.9,361.7 363.3,361.9 365.7,362.2 368.1,362.4 370.4,362.7 372.8,362.9 375.2,363.2 377.5,363.4 379.9,363.6 382.3,363.9 384.7,364.1 387.0,364.3 389.4,364.5 391.8,364.8 394.1,365.0 396.5,365.2 398.9,365.4 401.3,365.7 403.6,365.9 406.0,366.1 408.4,366.3 410.8,366.6 413.1,366.8 415.5,367.1 417.9,367.3 420.2,367.6 422.6,367.8 425.0,368.0 427.4,368.3 429.7,368.5 432.1,368.8 434.5,369.0 436.9,369.2 439.2,369.4 441.6,369.7 444.0,369.9 446.3,370.1 448.7,370.4 451.1,370.6 453.5,370.8 455.8,371.0 458.2,371.2 460.6,371.5 462.9,371.7 465.3,371.9 467.7,372.1 470.1,372.3 472.4,372.5 474.8,372.7 477.2,372.9 479.6,373.2 481.9,373.4 484.3,373.6 486.7,373.8 489.0,374.0 491.4,374.2 493.8,374.4 496.2,374.6 498.5,374.8 500.9,375.0 503.3,375.2 505.7,375.4 508.0,375.6 510.4,375.8 512.8,376.0 515.1,376.1 517.5,376.3 519.9,376.5 522.3,376.7 524.6,376.9" fill="none" stroke="#cf90ee" stroke-width="1"/>
<rect x="50.31" y="64.14" width="7.2" height="7.2" fill="#f6c555" fill-opacity="0.45" stroke="#eeaa22" stroke-opacity="0.7" stroke-width="0.9"/>
<rect x="51.34" y="140.17" width="7.2" height="7.2" fill="#f6c555" fill-opacity="0.45" stroke="#eeaa22" stroke-opacity="0.7" stroke-width="0.9"/>
<rect x="52.52" y="166.32" width="7.2" height="7.2" fill="#f6c555" fill-opacity="0.45" stroke="#eeaa22" stroke-opacity="0.7" stroke-width="0.9"/>
<rect x="53.71" y="181.62" width="7.2" height="7.2" fill="#f6c555" fill-opacity="0.45" stroke="#eeaa22" stroke-opacity="0.7" stroke-width="0.9"/>
<rect x="54.89" y="192.48" width="7.2" height="7.2" fill="#f6c555" fill-opacity="0.45" stroke="#eeaa22" stroke-opacity="0.7" stroke-width="0.9"/>
<rect x="56.08" y="200.89" width="7.2" height="7.2" fill="#f6c555" fill-opacity="0.45" stroke="#eeaa22" stroke-opacity="0.7" stroke-width="0.9"/>
<rect x="57.27" y="207.76" width="7.2" height="7.2" fill="#f6c555" fill-opacity="0.45" stroke="#eeaa22" stroke-opacity="0.7" stroke-width="0.9"/>
<rect x="58.45" y="213.56" width="7.2" height="7.2" fill="#f6c555" fill-opacity="0.45" stroke="#eeaa22" stroke-opacity="0.7" stroke-width="0.9"/>
<rect x="59.64" y="218.56" width="7.2" height="7.2" fill="#f6c555" fill-opacity="0.45" stroke="#eeaa22" stroke-opacity="0.7" stroke-width="0.9"/>
<rect x="60.83" y="222.95" width="7.2" height="7.2" fill="#f6c555" fill-opacity="0.45" stroke="#eeaa22" stroke-opacity="0.7" stroke-width="0.9"/>
<rect x="62.01" y="226.86" width="7.2" height="7.2" fill="#f6c555" fill-opacity="0.45" stroke="#eeaa22" stroke-opacity="0.7" stroke-width="0.9"/>
<rect x="63.20" y="230.38" width="7.2" height="7.2" fill="#f6c555" fill-opacity="0.45" stroke="#eeaa22" stroke-opacity="0.7" stroke-width="0.9"/>
<rect x="64.38" y="233.57" width="7.2" height="7.2" fill="#f6c555" fill-opacity="0.45" stroke="#eeaa22" stroke-opacity="0.7" stroke-width="0.9"/>
<rect x="65.57" y="236.49" width="7.2" height="7.2" fill="#f6c555" fill-opacity="0.45" stroke="#eeaa22" stroke-opacity="0.7" stroke-width="0.9"/>
<rect x="66.76" y="239.19" width="7.2" height="7.2" fill="#f6c555" fill-opacity="0.45" stroke="#eeaa22" stroke-opacity="0.7" stroke-width="0.9"/>
<rect x="67.94" y="241.69" width="7.2" height="7.2" fill="#f6c555" fill-opacity="0.45" stroke="#eeaa22" stroke-opacity="0.7" stroke-width="0.9"/>
<rect x="69.13" y="244.04" width="7.2" height="7.2" fill="#f6c555" fill-opacity="0.45" stroke="#eeaa22" stroke-opacity="0.7" stroke-width="0.9"/>
<rect x="70.32" y="246.24" width="7.2" height="7.2" fill="#f6c555" fill-opacity="0.45" stroke="#eeaa22" stroke-opacity="0.7" stroke-width="0.9"/>
<rect x="71.50" y="248.32" width="7.2" height="7.2" fill="#f6c555" fill-opacity="0.45" stroke="#eeaa22" stroke-opacity="0.7" stroke-width="0.9"/>
<rect x="72.69" y="250.29" width="7.2" height="7.2" fill="#f6c555" fill-opacity="0.45" stroke="#eeaa22" stroke-opacity="0.7" stroke-width="0.9"/>
<rect x="73.87" y="252.17" width="7.2" height="7.2" fill="#f6c555" fill-opacity="0.45" stroke="#eeaa22" stroke-opacity="0.7" stroke-width="0.9"/>
<rect x="75.06" y="253.96" width="7.2" height="7.2" fill="#f6c555" fill-opacity="0.45" stroke="#eeaa22" stroke-opacity="0.7" stroke-width="0.9"/>
<rect x="76.25" y="255.68" width="7.2" height="7.2" fill="#f6c555" fill-opacity="0.45" stroke="#eeaa22" stroke-opacity="0.7" stroke-width="0.9"/>
<rect x="77.43" y="257.34" width="7.2" height="7.2" fill="#f6c555" fill-opacity="0.45" stroke="#eeaa22" stroke-opacity="0.7" stroke-width="0.9"/>
<rect x="78.62" y="258.93" width="7.2" height="7.2" fill="#f6c555" fill-opacity="0.45" stroke="#eeaa22" stroke-opacity="0.7" stroke-width="0.9"/>
<rect x="79.81" y="260.46" width="7.2" height="7.2" fill="#f6c555" fill-opacity="0.45" stroke="#eeaa22" stroke-opacity="0.7" stroke-width="0.9"/>
<rect x="80.99" y="261.94" width="7.2" height="7.2" fill="#f6c555" fill-opacity="0.45" stroke="#eeaa22" stroke-opacity="0.7" stroke-width="0.9"/>
<rect x="82.18" y="263.37" width="7.2" height="7.2" fill="#f6c555" fill-opacity="0.45" stroke="#eeaa22" stroke-opacity="0.7" stroke-width="0.9"/>
<rect x="83.36" y="264.76" width="7.2" height="7.2" fill="#f6c555" fill-opacity="0.45" stroke="#eeaa22" stroke-opacity="0.7" stroke-width="0.9"/>
<rect x="84.55" y="266.11" width="7.2" height="7.2" fill="#f6c555" fill-opacity="0.45" stroke="#eeaa22" stroke-opacity="0.7" stroke-width="0.9"/>
<rect x="85.74" y="267.41" width="7.2" height="7.2" fill="#f6c555" fill-opacity="0.45" stroke="#eeaa22" stroke-opacity="0.7" stroke-width="0.9"/>
<rect x="86.92" y="268.67" width="7.2" height="7.2" fill="#f6c555" fill-opacity="0.45" stroke="#eeaa22" stroke-opacity="0.7" stroke-width="0.9"/>
<polygon points="92.9,267.4 94.1,268.7 95.3,269.9 96.5,271.1 97.7,272.3 100.1,274.5 102.4,276.6 104.8,278.6 107.2,280.5 109.5,282.3 111.9,284.1 114.3,285.7 116.7,287.3 119.0,288.9 121.4,290.3 123.8,291.7 126.1,293.1 128.5,294.4 130.9,295.7 133.3,296.9 135.6,298.1 138.0,299.2 140.4,300.3 142.8,301.4 145.1,302.5 147.5,303.5 149.9,304.5 152.2,305.4 154.6,306.4 157.0,307.3 159.4,308.2 161.7,309.1 164.1,309.9 166.5,310.8 168.9,311.6 171.2,312.4 173.6,313.1 176.0,313.9 178.3,314.7 180.7,315.4 183.1,316.1 185.5,316.8 187.8,317.5 190.2,318.2 192.6,318.9 194.9,319.6 197.3,320.2 199.7,320.9 202.1,321.5 204.4,322.1 206.8,322.7 209.2,323.3 211.6,323.9 213.9,324.5 216.3,325.1 218.7,325.6 221.0,326.2 223.4,326.7 225.8,327.3 228.2,327.8 230.5,328.3 232.9,328.9 235.3,329.4 237.7,329.9 240.0,330.4 242.4,330.9 244.8,331.4 247.1,331.8 249.5,332.3 251.9,332.8 254.3,333.2 256.6,333.7 259.0,334.2 261.4,334.6 263.7,335.0 266.1,335.5 268.5,335.9 270.9,336.3 273.2,336.8 275.6,337.2 278.0,337.6 280.4,338.0 282.7,338.4 285.1,338.8 287.5,339.2 289.8,339.6 292.2,340.0 294.6,340.4 297.0,340.7 299.3,341.0 301.7,341.4 304.1,341.7 306.5,342.0 308.8,342.3 311.2,342.7 313.6,343.0 315.9,343.3 318.3,343.6 320.7,343.9 323.1,344.2 325.4,344.5 327.8,344.8 330.2,345.1 332.5,345.4 334.9,345.7 337.3,345.9 339.7,346.2 342.0,346.5 344.4,346.8 346.8,347.1 349.2,347.3 351.5,347.6 353.9,347.9 356.3,348.1 358.6,348.4 361.0,348.6 363.4,348.9 365.8,349.2 368.1,349.4 370.5,349.7 372.9,349.9 375.3,350.2 377.6,350.4 380.0,350.6 382.4,350.9 384.7,351.1 387.1,351.4 389.5,351.6 391.9,351.8 394.2,352.0 396.6,352.3 399.0,352.5 401.3,352.7 403.7,352.9 406.1,353.2 408.5,353.4 410.8,353.6 413.2,353.8 415.6,354.1 418.0,354.3 420.3,354.6 422.7,354.8 425.1,355.1 427.4,355.3 429.8,355.5 432.2,355.8 434.6,356.0 436.9,356.3 439.3,356.5 441.7,356.7 444.1,357.0 446.4,357.2 448.8,357.4 451.2,357.6 453.5,357.9 455.9,358.1 458.3,358.3 460.7,358.5 463.0,358.8 465.4,359.0 467.8,359.2 470.1,359.4 472.5,359.6 474.9,359.8 477.3,360.1 479.6,360.3 482.0,360.5 484.4,360.7 486.8,360.9 489.1,361.1 491.5,361.3 493.9,361.5 496.2,361.7 498.6,361.9 501.0,362.1 503.4,362.3 505.7,362.5 508.1,362.7 510.5,362.9 512.9,363.1 515.2,363.3 517.6,363.5 520.0,363.7 522.3,363.9 524.7,364.1 527.1,364.3 529.5,364.5 531.8,364.7 524.6,371.9 522.3,371.7 519.9,371.5 517.5,371.3 515.1,371.1 512.8,370.9 510.4,370.7 508.0,370.5 505.7,370.3 503.3,370.1 500.9,369.9 498.5,369.7 496.2,369.5 493.8,369.3 491.4,369.1 489.0,368.9 486.7,368.7 484.3,368.5 481.9,368.3 479.6,368.1 477.2,367.9 474.8,367.7 472.4,367.5 470.1,367.3 467.7,367.0 465.3,366.8 462.9,366.6 460.6,366.4 458.2,366.2 455.8,366.0 453.5,365.7 451.1,365.5 448.7,365.3 446.3,365.1 444.0,364.8 441.6,364.6 439.2,364.4 436.9,364.2 434.5,363.9 432.1,363.7 429.7,363.5 427.4,363.2 425.0,363.0 422.6,362.7 420.2,362.5 417.9,362.3 415.5,362.0 413.1,361.8 410.8,361.5 408.4,361.3 406.0,361.0 403.6,360.8 401.3,360.6 398.9,360.4 396.5,360.1 394.1,359.9 391.8,359.7 389.4,359.5 387.0,359.2 384.7,359.0 382.3,358.8 379.9,358.6 377.5,358.3 375.2,358.1 372.8,357.8 370.4,357.6 368.1,357.4 365.7,357.1 363.3,356.9 360.9,356.6 358.6,356.4 356.2,356.1 353.8,355.8 351.4,355.6 349.1,355.3 346.7,355.1 344.3,354.8 342.0,354.5 339.6,354.3 337.2,354.0 334.8,353.7 332.5,353.4 330.1,353.1 327.7,352.9 325.3,352.6 323.0,352.3 320.6,352.0 318.2,351.7 315.9,351.4 313.5,351.1 311.1,350.8 308.7,350.5 306.4,350.2 304.0,349.9 301.6,349.5 299.3,349.2 296.9,348.9 294.5,348.6 292.1,348.2 289.8,347.9 287.4,347.6 285.0,347.2 282.6,346.8 280.3,346.4 277.9,346.0 275.5,345.6 273.2,345.2 270.8,344.8 268.4,344.4 266.0,344.0 263.7,343.5 261.3,343.1 258.9,342.7 256.5,342.2 254.2,341.8 251.8,341.4 249.4,340.9 247.1,340.4 244.7,340.0 242.3,339.5 239.9,339.0 237.6,338.6 235.2,338.1 232.8,337.6 230.5,337.1 228.1,336.6 225.7,336.1 223.3,335.5 221.0,335.0 218.6,334.5 216.2,333.9 213.8,333.4 211.5,332.8 209.1,332.3 206.7,331.7 204.4,331.1 202.0,330.5 199.6,329.9 197.2,329.3 194.9,328.7 192.5,328.1 190.1,327.4 187.7,326.8 185.4,326.1 183.0,325.4 180.6,324.7 178.3,324.0 175.9,323.3 173.5,322.6 171.1,321.9 168.8,321.1 166.4,320.3 164.0,319.6 161.7,318.8 159.3,318.0 156.9,317.1 154.5,316.3 152.2,315.4 149.8,314.5 147.4,313.6 145.0,312.6 142.7,311.7 140.3,310.7 137.9,309.7 135.6,308.6 133.2,307.5 130.8,306.4 128.4,305.3 126.1,304.1 123.7,302.9 121.3,301.6 118.9,300.3 116.6,298.9 114.2,297.5 111.8,296.1 109.5,294.5 107.1,292.9 104.7,291.3 102.3,289.5 100.0,287.7 97.6,285.8 95.2,283.8 92.9,281.7 90.5,279.5 89.3,278.3 88.1,277.1 86.9,275.9 85.7,274.6" fill="#f6c555"/>
<polyline points="92.9,267.4 94.1,268.7 95.3,269.9 96.5,271.1 97.7,272.3 100.1,274.5 102.4,276.6 104.8,278.6 107.2,280.5 109.5,282.3 111.9,284.1 114.3,285.7 116.7,287.3 119.0,288.9 121.4,290.3 123.8,291.7 126.1,293.1 128.5,294.4 130.9,295.7 133.3,296.9 135.6,298.1 138.0,299.2 140.4,300.3 142.8,301.4 145.1,302.5 147.5,303.5 149.9,304.5 152.2,305.4 154.6,306.4 157.0,307.3 159.4,308.2 161.7,309.1 164.1,309.9 166.5,310.8 168.9,311.6 171.2,312.4 173.6,313.1 176.0,313.9 178.3,314.7 180.7,315.4 183.1,316.1 185.5,316.8 187.8,317.5 190.2,318.2 192.6,318.9 194.9,319.6 197.3,320.2 199.7,320.9 202.1,321.5 204.4,322.1 206.8,322.7 209.2,323.3 211.6,323.9 213.9,324.5 216.3,325.1 218.7,325.6 221.0,326.2 223.4,326.7 225.8,327.3 228.2,327.8 230.5,328.3 232.9,328.9 235.3,329.4 237.7,329.9 240.0,330.4 242.4,330.9 244.8,331.4 247.1,331.8 249.5,332.3 251.9,332.8 254.3,333.2 256.6,333.7 259.0,334.2 261.4,334.6 263.7,335.0 266.1,335.5 268.5,335.9 270.9,336.3 273.2,336.8 275.6,337.2 278.0,337.6 280.4,338.0 282.7,338.4 285.1,338.8 287.5,339.2 289.8,339.6 292.2,340.0 294.6,340.4 297.0,340.7 299.3,341.0 301.7,341.4 304.1,341.7 306.5,342.0 308.8,342.3 311.2,342.7 313.6,343.0 315.9,343.3 318.3,343.6 320.7,343.9 323.1,344.2 325.4,344.5 327.8,344.8 330.2,345.1 332.5,345.4 334.9,345.7 337.3,345.9 339.7,346.2 342.0,346.5 344.4,346.8 346.8,347.1 349.2,347.3 351.5,347.6 353.9,347.9 356.3,348.1 358.6,348.4 361.0,348.6 363.4,348.9 365.8,349.2 368.1,349.4 370.5,349.7 372.9,349.9 375.3,350.2 377.6,350.4 380.0,350.6 382.4,350.9 384.7,351.1 387.1,351.4 389.5,351.6 391.9,351.8 394.2,352.0 396.6,352.3 399.0,352.5 401.3,352.7 403.7,352.9 406.1,353.2 408.5,353.4 410.8,353.6 413.2,353.8 415.6,354.1 418.0,354.3 420.3,354.6 422.7,354.8 425.1,355.1 427.4,355.3 429.8,355.5 432.2,355.8 434.6,356.0 436.9,356.3 439.3,356.5 441.7,356.7 444.1,357.0 446.4,357.2 448.8,357.4 451.2,357.6 453.5,357.9 455.9,358.1 458.3,358.3 460.7,358.5 463.0,358.8 465.4,359.0 467.8,359.2 470.1,359.4 472.5,359.6 474.9,359.8 477.3,360.1 479.6,360.3 482.0,360.5 484.4,360.7 486.8,360.9 489.1,361.1 491.5,361.3 493.9,361.5 496.2,361.7 498.6,361.9 501.0,362.1 503.4,362.3 505.7,362.5 508.1,362.7 510.5,362.9 512.9,363.1 515.2,363.3 517.6,363.5 520.0,363.7 522.3,363.9 524.7,364.1 527.1,364.3 529.5,364.5 531.8,364.7" fill="none" stroke="#eeaa22" stroke-width="1"/><polyline points="85.7,274.6 86.9,275.9 88.1,277.1 89.3,278.3 90.5,279.5 92.9,281.7 95.2,283.8 97.6,285.8 100.0,287.7 102.3,289.5 104.7,291.3 107.1,292.9 109.5,294.5 111.8,296.1 114.2,297.5 116.6,298.9 118.9,300.3 121.3,301.6 123.7,302.9 126.1,304.1 128.4,305.3 130.8,306.4 133.2,307.5 135.6,308.6 137.9,309.7 140.3,310.7 142.7,311.7 145.0,312.6 147.4,313.6 149.8,314.5 152.2,315.4 154.5,316.3 156.9,317.1 159.3,318.0 161.7,318.8 164.0,319.6 166.4,320.3 168.8,321.1 171.1,321.9 173.5,322.6 175.9,323.3 178.3,324.0 180.6,324.7 183.0,325.4 185.4,326.1 187.7,326.8 190.1,327.4 192.5,328.1 194.9,328.7 197.2,329.3 199.6,329.9 202.0,330.5 204.4,331.1 206.7,331.7 209.1,332.3 211.5,332.8 213.8,333.4 216.2,333.9 218.6,334.5 221.0,335.0 223.3,335.5 225.7,336.1 228.1,336.6 230.5,337.1 232.8,337.6 235.2,338.1 237.6,338.6 239.9,339.0 242.3,339.5 244.7,340.0 247.1,340.4 249.4,340.9 251.8,341.4 254.2,341.8 256.5,342.2 258.9,342.7 261.3,343.1 263.7,343.5 266.0,344.0 268.4,344.4 270.8,344.8 273.2,345.2 275.5,345.6 277.9,346.0 280.3,346.4 282.6,346.8 285.0,347.2 287.4,347.6 289.8,347.9 292.1,348.2 294.5,348.6 296.9,348.9 299.3,349.2 301.6,349.5 304.0,349.9 306.4,350.2 308.7,350.5 311.1,350.8 313.5,351.1 315.9,351.4 318.2,351.7 320.6,352.0 323.0,352.3 325.3,352.6 327.7,352.9 330.1,353.1 332.5,353.4 334.8,353.7 337.2,354.0 339.6,354.3 342.0,354.5 344.3,354.8 346.7,355.1 349.1,355.3 351.4,355.6 353.8,355.8 356.2,356.1 358.6,356.4 360.9,356.6 363.3,356.9 365.7,357.1 368.1,357.4 370.4,357.6 372.8,357.8 375.2,358.1 377.5,358.3 379.9,358.6 382.3,358.8 384.7,359.0 387.0,359.2 389.4,359.5 391.8,359.7 394.1,359.9 396.5,360.1 398.9,360.4 401.3,360.6 403.6,360.8 406.0,361.0 408.4,361.3 410.8,361.5 413.1,361.8 415.5,362.0 417.9,362.3 420.2,362.5 422.6,362.7 425.0,363.0 427.4,363.2 429.7,363.5 432.1,363.7 434.5,363.9 436.9,364.2 439.2,364.4 441.6,364.6 444.0,364.8 446.3,365.1 448.7,365.3 451.1,365.5 453.5,365.7 455.8,366.0 458.2,366.2 460.6,366.4 462.9,366.6 465.3,366.8 467.7,367.0 470.1,367.3 472.4,367.5 474.8,367.7 477.2,367.9 479.6,368.1 481.9,368.3 484.3,368.5 486.7,368.7 489.0,368.9 491.4,369.1 493.8,369.3 496.2,369.5 498.5,369.7 500.9,369.9 503.3,370.1 505.7,370.3 508.0,370.5 510.4,370.7 512.8,370.9 515.1,371.1 517.5,371.3 519.9,371.5 522.3,371.7 524.6,371.9" fill="none" stroke="#eeaa22" stroke-width="1"/>
<rect x="50.31" y="41.69" width="7.2" height="7.2" fill="#14e6e6" fill-opacity="0.45" stroke="#10dada" stroke-opacity="0.7" stroke-width="0.9"/>
<rect x="51.34" y="119.93" width="7.2" height="7.2" fill="#14e6e6" fill-opacity="0.45" stroke="#10dada" stroke-opacity="0.7" stroke-width="0.9"/>
<rect x="52.52" y="146.85" width="7.2" height="7.2" fill="#14e6e6" fill-opacity="0.45" stroke="#10dada" stroke-opacity="0.7" stroke-width="0.9"/>
<rect x="53.71" y="162.59" width="7.2" height="7.2" fill="#14e6e6" fill-opacity="0.45" stroke="#10dada" stroke-opacity="0.7" stroke-width="0.9"/>
<rect x="54.89" y="173.76" width="7.2" height="7.2" fill="#14e6e6" fill-opacity="0.45" stroke="#10dada" stroke-opacity="0.7" stroke-width="0.9"/>
<rect x="56.08" y="182.40" width="7.2" height="7.2" fill="#14e6e6" fill-opacity="0.45" stroke="#10dada" stroke-opacity="0.7" stroke-width="0.9"/>
<rect x="57.27" y="189.43" width="7.2" height="7.2" fill="#14e6e6" fill-opacity="0.45" stroke="#10dada" stroke-opacity="0.7" stroke-width="0.9"/>
<rect x="58.45" y="195.32" width="7.2" height="7.2" fill="#14e6e6" fill-opacity="0.45" stroke="#10dada" stroke-opacity="0.7" stroke-width="0.9"/>
<rect x="59.64" y="200.33" width="7.2" height="7.2" fill="#14e6e6" fill-opacity="0.45" stroke="#10dada" stroke-opacity="0.7" stroke-width="0.9"/>
<rect x="60.83" y="204.65" width="7.2" height="7.2" fill="#14e6e6" fill-opacity="0.45" stroke="#10dada" stroke-opacity="0.7" stroke-width="0.9"/>
<rect x="62.01" y="208.41" width="7.2" height="7.2" fill="#14e6e6" fill-opacity="0.45" stroke="#10dada" stroke-opacity="0.7" stroke-width="0.9"/>
<rect x="63.20" y="211.72" width="7.2" height="7.2" fill="#14e6e6" fill-opacity="0.45" stroke="#10dada" stroke-opacity="0.7" stroke-width="0.9"/>
<rect x="64.38" y="214.66" width="7.2" height="7.2" fill="#14e6e6" fill-opacity="0.45" stroke="#10dada" stroke-opacity="0.7" stroke-width="0.9"/>
<rect x="65.57" y="217.30" width="7.2" height="7.2" fill="#14e6e6" fill-opacity="0.45" stroke="#10dada" stroke-opacity="0.7" stroke-width="0.9"/>
<rect x="66.76" y="219.70" width="7.2" height="7.2" fill="#14e6e6" fill-opacity="0.45" stroke="#10dada" stroke-opacity="0.7" stroke-width="0.9"/>
<rect x="67.94" y="221.90" width="7.2" height="7.2" fill="#14e6e6" fill-opacity="0.45" stroke="#10dada" stroke-opacity="0.7" stroke-width="0.9"/>
<rect x="69.13" y="223.96" width="7.2" height="7.2" fill="#14e6e6" fill-opacity="0.45" stroke="#10dada" stroke-opacity="0.7" stroke-width="0.9"/>
<rect x="70.32" y="225.89" width="7.2" height="7.2" fill="#14e6e6" fill-opacity="0.45" stroke="#10dada" stroke-opacity="0.7" stroke-width="0.9"/>
<rect x="71.50" y="227.74" width="7.2" height="7.2" fill="#14e6e6" fill-opacity="0.45" stroke="#10dada" stroke-opacity="0.7" stroke-width="0.9"/>
<rect x="72.69" y="229.51" width="7.2" height="7.2" fill="#14e6e6" fill-opacity="0.45" stroke="#10dada" stroke-opacity="0.7" stroke-width="0.9"/>
<rect x="73.87" y="231.23" width="7.2" height="7.2" fill="#14e6e6" fill-opacity="0.45" stroke="#10dada" stroke-opacity="0.7" stroke-width="0.9"/>
<rect x="75.06" y="232.91" width="7.2" height="7.2" fill="#14e6e6" fill-opacity="0.45" stroke="#10dada" stroke-opacity="0.7" stroke-width="0.9"/>
<rect x="76.25" y="234.54" width="7.2" height="7.2" fill="#14e6e6" fill-opacity="0.45" stroke="#10dada" stroke-opacity="0.7" stroke-width="0.9"/>
<rect x="77.43" y="236.15" width="7.2" height="7.2" fill="#14e6e6" fill-opacity="0.45" stroke="#10dada" stroke-opacity="0.7" stroke-width="0.9"/>
<rect x="78.62" y="237.73" width="7.2" height="7.2" fill="#14e6e6" fill-opacity="0.45" stroke="#10dada" stroke-opacity="0.7" stroke-width="0.9"/>
<rect x="79.81" y="239.28" width="7.2" height="7.2" fill="#14e6e6" fill-opacity="0.45" stroke="#10dada" stroke-opacity="0.7" stroke-width="0.9"/>
<rect x="80.99" y="240.82" width="7.2" height="7.2" fill="#14e6e6" fill-opacity="0.45" stroke="#10dada" stroke-opacity="0.7" stroke-width="0.9"/>
<rect x="82.18" y="242.32" width="7.2" height="7.2" fill="#14e6e6" fill-opacity="0.45" stroke="#10dada" stroke-opacity="0.7" stroke-width="0.9"/>
<rect x="83.36" y="243.81" width="7.2" height="7.2" fill="#14e6e6" fill-opacity="0.45" stroke="#10dada" stroke-opacity="0.7" stroke-width="0.9"/>
<rect x="84.55" y="245.26" width="7.2" height="7.2" fill="#14e6e6" fill-opacity="0.45" stroke="#10dada" stroke-opacity="0.7" stroke-width="0.9"/>
<rect x="85.74" y="246.70" width="7.2" height="7.2" fill="#14e6e6" fill-opacity="0.45" stroke="#10dada" stroke-opacity="0.7" stroke-width="0.9"/>
<rect x="86.92" y="248.11" width="7.2" height="7.2" fill="#14e6e6" fill-opacity="0.45" stroke="#10dada" stroke-opacity="0.7" stroke-width="0.9"/>
<polygon points="92.9,246.7 94.1,248.1 95.3,249.5 96.5,250.8 97.7,252.2 100.1,254.7 102.4,257.2 104.8,259.5 107.2,261.8 109.5,263.9 111.9,265.9 114.3,267.9 116.7,269.7 119.0,271.5 121.4,273.1 123.8,274.7 126.1,276.3 128.5,277.7 130.9,279.1 133.3,280.5 135.6,281.8 138.0,283.1 140.4,284.3 142.8,285.4 145.1,286.6 147.5,287.7 149.9,288.7 152.2,289.7 154.6,290.7 157.0,291.7 159.4,292.7 161.7,293.6 164.1,294.5 166.5,295.3 168.9,296.2 171.2,297.0 173.6,297.9 176.0,298.6 178.3,299.4 180.7,300.2 183.1,300.9 185.5,301.7 187.8,302.4 190.2,303.1 192.6,303.8 194.9,304.5 197.3,305.1 199.7,305.8 202.1,306.4 204.4,307.1 206.8,307.7 209.2,308.3 211.6,308.9 213.9,309.5 216.3,310.1 218.7,310.7 221.0,311.2 223.4,311.8 225.8,312.4 228.2,312.9 230.5,313.4 232.9,314.0 235.3,314.5 237.7,315.0 240.0,315.5 242.4,316.0 244.8,316.5 247.1,317.0 249.5,317.5 251.9,318.0 254.3,318.4 256.6,318.9 259.0,319.4 261.4,319.8 263.7,320.3 266.1,320.7 268.5,321.1 270.9,321.6 273.2,322.0 275.6,322.4 278.0,322.9 280.4,323.3 282.7,323.7 285.1,324.1 287.5,324.5 289.8,324.9 292.2,325.3 294.6,325.7 297.0,326.0 299.3,326.4 301.7,326.7 304.1,327.0 306.5,327.4 308.8,327.7 311.2,328.0 313.6,328.4 315.9,328.7 318.3,329.0 320.7,329.3 323.1,329.6 325.4,329.9 327.8,330.2 330.2,330.5 332.5,330.8 334.9,331.1 337.3,331.4 339.7,331.7 342.0,332.0 344.4,332.3 346.8,332.5 349.2,332.8 351.5,333.1 353.9,333.4 356.3,333.6 358.6,333.9 361.0,334.2 363.4,334.4 365.8,334.7 368.1,335.0 370.5,335.2 372.9,335.5 375.3,335.7 377.6,336.0 380.0,336.2 382.4,336.5 384.7,336.7 387.1,337.0 389.5,337.2 391.9,337.4 394.2,337.7 396.6,337.9 399.0,338.1 401.3,338.4 403.7,338.6 406.1,338.8 408.5,339.0 410.8,339.3 413.2,339.5 415.6,339.7 418.0,340.0 420.3,340.3 422.7,340.5 425.1,340.8 427.4,341.0 429.8,341.3 432.2,341.5 434.6,341.8 436.9,342.0 439.3,342.2 441.7,342.5 444.1,342.7 446.4,343.0 448.8,343.2 451.2,343.4 453.5,343.7 455.9,343.9 458.3,344.1 460.7,344.4 463.0,344.6 465.4,344.8 467.8,345.0 470.1,345.3 472.5,345.5 474.9,345.7 477.3,345.9 479.6,346.1 482.0,346.4 484.4,346.6 486.8,346.8 489.1,347.0 491.5,347.2 493.9,347.4 496.2,347.6 498.6,347.8 501.0,348.1 503.4,348.3 505.7,348.5 508.1,348.7 510.5,348.9 512.9,349.1 515.2,349.3 517.6,349.5 520.0,349.7 522.3,349.9 524.7,350.1 527.1,350.3 529.5,350.5 531.8,350.7 524.6,357.9 522.3,357.7 519.9,357.5 517.5,357.3 515.1,357.1 512.8,356.9 510.4,356.7 508.0,356.5 505.7,356.3 503.3,356.1 500.9,355.9 498.5,355.7 496.2,355.5 493.8,355.3 491.4,355.0 489.0,354.8 486.7,354.6 484.3,354.4 481.9,354.2 479.6,354.0 477.2,353.8 474.8,353.6 472.4,353.3 470.1,353.1 467.7,352.9 465.3,352.7 462.9,352.5 460.6,352.2 458.2,352.0 455.8,351.8 453.5,351.6 451.1,351.3 448.7,351.1 446.3,350.9 444.0,350.6 441.6,350.4 439.2,350.2 436.9,349.9 434.5,349.7 432.1,349.4 429.7,349.2 427.4,349.0 425.0,348.7 422.6,348.5 420.2,348.2 417.9,348.0 415.5,347.7 413.1,347.5 410.8,347.2 408.4,346.9 406.0,346.7 403.6,346.5 401.3,346.2 398.9,346.0 396.5,345.8 394.1,345.6 391.8,345.3 389.4,345.1 387.0,344.9 384.7,344.6 382.3,344.4 379.9,344.2 377.5,343.9 375.2,343.7 372.8,343.4 370.4,343.2 368.1,342.9 365.7,342.7 363.3,342.4 360.9,342.2 358.6,341.9 356.2,341.6 353.8,341.4 351.4,341.1 349.1,340.8 346.7,340.6 344.3,340.3 342.0,340.0 339.6,339.7 337.2,339.5 334.8,339.2 332.5,338.9 330.1,338.6 327.7,338.3 325.3,338.0 323.0,337.7 320.6,337.4 318.2,337.1 315.9,336.8 313.5,336.5 311.1,336.2 308.7,335.9 306.4,335.6 304.0,335.2 301.6,334.9 299.3,334.6 296.9,334.2 294.5,333.9 292.1,333.6 289.8,333.2 287.4,332.9 285.0,332.5 282.6,332.1 280.3,331.7 277.9,331.3 275.5,330.9 273.2,330.5 270.8,330.1 268.4,329.6 266.0,329.2 263.7,328.8 261.3,328.3 258.9,327.9 256.5,327.5 254.2,327.0 251.8,326.6 249.4,326.1 247.1,325.6 244.7,325.2 242.3,324.7 239.9,324.2 237.6,323.7 235.2,323.2 232.8,322.7 230.5,322.2 228.1,321.7 225.7,321.2 223.3,320.6 221.0,320.1 218.6,319.6 216.2,319.0 213.8,318.4 211.5,317.9 209.1,317.3 206.7,316.7 204.4,316.1 202.0,315.5 199.6,314.9 197.2,314.3 194.9,313.6 192.5,313.0 190.1,312.3 187.7,311.7 185.4,311.0 183.0,310.3 180.6,309.6 178.3,308.9 175.9,308.1 173.5,307.4 171.1,306.6 168.8,305.8 166.4,305.1 164.0,304.2 161.7,303.4 159.3,302.5 156.9,301.7 154.5,300.8 152.2,299.9 149.8,298.9 147.4,297.9 145.0,296.9 142.7,295.9 140.3,294.9 137.9,293.8 135.6,292.6 133.2,291.5 130.8,290.3 128.4,289.0 126.1,287.7 123.7,286.3 121.3,284.9 118.9,283.5 116.6,281.9 114.2,280.3 111.8,278.7 109.5,276.9 107.1,275.1 104.7,273.1 102.3,271.1 100.0,269.0 97.6,266.7 95.2,264.4 92.9,261.9 90.5,259.4 89.3,258.0 88.1,256.7 86.9,255.3 85.7,253.9" fill="#14e6e6"/>
<polyline points="92.9,246.7 94.1,248.1 95.3,249.5 96.5,250.8 97.7,252.2 100.1,254.7 102.4,257.2 104.8,259.5 107.2,261.8 109.5,263.9 111.9,265.9 114.3,267.9 116.7,269.7 119.0,271.5 121.4,273.1 123.8,274.7 126.1,276.3 128.5,277.7 130.9,279.1 133.3,280.5 135.6,281.8 138.0,283.1 140.4,284.3 142.8,285.4 145.1,286.6 147.5,287.7 149.9,288.7 152.2,289.7 154.6,290.7 157.0,291.7 159.4,292.7 161.7,293.6 164.1,294.5 166.5,295.3 168.9,296.2 171.2,297.0 173.6,297.9 176.0,298.6 178.3,299.4 180.7,300.2 183.1,300.9 185.5,301.7 187.8,302.4 190.2,303.1 192.6,303.8 194.9,304.5 197.3,305.1 199.7,305.8 202.1,306.4 204.4,307.1 206.8,307.7 209.2,308.3 211.6,308.9 213.9,309.5 216.3,310.1 218.7,310.7 221.0,311.2 223.4,311.8 225.8,312.4 228.2,312.9 230.5,313.4 232.9,314.0 235.3,314.5 237.7,315.0 240.0,315.5 242.4,316.0 244.8,316.5 247.1,317.0 249.5,317.5 251.9,318.0 254.3,318.4 256.6,318.9 259.0,319.4 261.4,319.8 263.7,320.3 266.1,320.7 268.5,321.1 270.9,321.6 273.2,322.0 275.6,322.4 278.0,322.9 280.4,323.3 282.7,323.7 285.1,324.1 287.5,324.5 289.8,324.9 292.2,325.3 294.6,325.7 297.0,326.0 299.3,326.4 301.7,326.7 304.1,327.0 306.5,327.4 308.8,327.7 311.2,328.0 313.6,328.4 315.9,328.7 318.3,329.0 320.7,329.3 323.1,329.6 325.4,329.9 327.8,330.2 330.2,330.5 332.5,330.8 334.9,331.1 337.3,331.4 339.7,331.7 342.0,332.0 344.4,332.3 346.8,332.5 349.2,332.8 351.5,333.1 353.9,333.4 356.3,333.6 358.6,333.9 361.0,334.2 363.4,334.4 365.8,334.7 368.1,335.0 370.5,335.2 372.9,335.5 375.3,335.7 377.6,336.0 380.0,336.2 382.4,336.5 384.7,336.7 387.1,337.0 389.5,337.2 391.9,337.4 394.2,337.7 396.6,337.9 399.0,338.1 401.3,338.4 403.7,338.6 406.1,338.8 408.5,339.0 410.8,339.3 413.2,339.5 415.6,339.7 418.0,340.0 420.3,340.3 422.7,340.5 425.1,340.8 427.4,341.0 429.8,341.3 432.2,341.5 434.6,341.8 436.9,342.0 439.3,342.2 441.7,342.5 444.1,342.7 446.4,343.0 448.8,343.2 451.2,343.4 453.5,343.7 455.9,343.9 458.3,344.1 460.7,344.4 463.0,344.6 465.4,344.8 467.8,345.0 470.1,345.3 472.5,345.5 474.9,345.7 477.3,345.9 479.6,346.1 482.0,346.4 484.4,346.6 486.8,346.8 489.1,347.0 491.5,347.2 493.9,347.4 496.2,347.6 498.6,347.8 501.0,348.1 503.4,348.3 505.7,348.5 508.1,348.7 510.5,348.9 512.9,349.1 515.2,349.3 517.6,349.5 520.0,349.7 522.3,349.9 524.7,350.1 527.1,350.3 529.5,350.5 531.8,350.7" fill="none" stroke="#10dada" stroke-width="1"/><polyline points="85.7,253.9 86.9,255.3 88.1,256.7 89.3,258.0 90.5,259.4 92.9,261.9 95.2,264.4 97.6,266.7 100.0,269.0 102.3,271.1 104.7,273.1 107.1,275.1 109.5,276.9 111.8,278.7 114.2,280.3 116.6,281.9 118.9,283.5 121.3,284.9 123.7,286.3 126.1,287.7 128.4,289.0 130.8,290.3 133.2,291.5 135.6,292.6 137.9,293.8 140.3,294.9 142.7,295.9 145.0,296.9 147.4,297.9 149.8,298.9 152.2,299.9 154.5,300.8 156.9,301.7 159.3,302.5 161.7,303.4 164.0,304.2 166.4,305.1 168.8,305.8 171.1,306.6 173.5,307.4 175.9,308.1 178.3,308.9 180.6,309.6 183.0,310.3 185.4,311.0 187.7,311.7 190.1,312.3 192.5,313.0 194.9,313.6 197.2,314.3 199.6,314.9 202.0,315.5 204.4,316.1 206.7,316.7 209.1,317.3 211.5,317.9 213.8,318.4 216.2,319.0 218.6,319.6 221.0,320.1 223.3,320.6 225.7,321.2 228.1,321.7 230.5,322.2 232.8,322.7 235.2,323.2 237.6,323.7 239.9,324.2 242.3,324.7 244.7,325.2 247.1,325.6 249.4,326.1 251.8,326.6 254.2,327.0 256.5,327.5 258.9,327.9 261.3,328.3 263.7,328.8 266.0,329.2 268.4,329.6 270.8,330.1 273.2,330.5 275.5,330.9 277.9,331.3 280.3,331.7 282.6,332.1 285.0,332.5 287.4,332.9 289.8,333.2 292.1,333.6 294.5,333.9 296.9,334.2 299.3,334.6 301.6,334.9 304.0,335.2 306.4,335.6 308.7,335.9 311.1,336.2 313.5,336.5 315.9,336.8 318.2,337.1 320.6,337.4 323.0,337.7 325.3,338.0 327.7,338.3 330.1,338.6 332.5,338.9 334.8,339.2 337.2,339.5 339.6,339.7 342.0,340.0 344.3,340.3 346.7,340.6 349.1,340.8 351.4,341.1 353.8,341.4 356.2,341.6 358.6,341.9 360.9,342.2 363.3,342.4 365.7,342.7 368.1,342.9 370.4,343.2 372.8,343.4 375.2,343.7 377.5,343.9 379.9,344.2 382.3,344.4 384.7,344.6 387.0,344.9 389.4,345.1 391.8,345.3 394.1,345.6 396.5,345.8 398.9,346.0 401.3,346.2 403.6,346.5 406.0,346.7 408.4,346.9 410.8,347.2 413.1,347.5 415.5,347.7 417.9,348.0 420.2,348.2 422.6,348.5 425.0,348.7 427.4,349.0 429.7,349.2 432.1,349.4 434.5,349.7 436.9,349.9 439.2,350.2 441.6,350.4 444.0,350.6 446.3,350.9 448.7,351.1 451.1,351.3 453.5,351.6 455.8,351.8 458.2,352.0 460.6,352.2 462.9,352.5 465.3,352.7 467.7,352.9 470.1,353.1 472.4,353.3 474.8,353.6 477.2,353.8 479.6,354.0 481.9,354.2 484.3,354.4 486.7,354.6 489.0,354.8 491.4,355.0 493.8,355.3 496.2,355.5 498.5,355.7 500.9,355.9 503.3,356.1 505.7,356.3 508.0,356.5 510.4,356.7 512.8,356.9 515.1,357.1 517.5,357.3 519.9,357.5 522.3,357.7 524.6,357.9" fill="none" stroke="#10dada" stroke-width="1"/>
<polyline points="55.3,78.9 55.3,81.4 55.3,83.8 55.3,86.3 55.3,88.7 55.3,91.1 55.2,93.6 55.2,96.0 55.2,98.5 55.2,100.9 55.2,103.4 55.2,105.8 55.2,108.3 55.2,110.7 55.2,113.1 55.2,115.6 55.2,118.0 55.2,120.5 55.2,122.9 55.2,125.4 55.2,127.8 55.2,130.3 55.2,132.7 55.2,135.1 55.2,137.6 55.3,140.0 55.3,142.5 55.3,144.9 55.3,147.4 55.3,149.8 55.3,152.3 55.4,154.7 55.4,157.1 55.5,159.6 55.5,162.0 55.5,164.5 55.6,166.9 55.7,169.4 55.7,171.8 55.8,174.3 55.9,176.7 56.0,179.1 56.1,181.6 56.2,184.0 56.4,186.5 56.5,188.9 56.7,191.4 56.8,193.8 57.0,196.3 57.2,198.7 57.4,201.1 57.6,203.6 57.9,206.0 58.1,208.5 58.4,210.9 58.7,213.4 59.0,215.8 59.4,218.3 59.7,220.7 60.1,223.2 60.5,225.6 60.9,228.1 61.4,230.6 61.9,233.0 62.4,235.5 63.0,238.0 63.6,240.5 64.2,243.1 64.9,245.6 65.6,248.2 67.9,255.7 70.3,262.3 72.6,268.0 74.9,273.1 77.2,277.5 79.6,281.5 81.9,285.0 84.2,288.1 86.5,290.9 88.9,293.5 91.2,295.8 93.5,298.0 95.8,300.0 98.2,301.8 100.5,303.6 102.8,305.3 105.1,306.9 107.5,308.4 109.8,309.9 112.1,311.3 114.4,312.7 116.8,314.0 119.1,315.3 121.4,316.5 123.7,317.8 126.1,318.9 128.4,320.1 130.7,321.2 133.0,322.3 135.4,323.4 137.7,324.4 140.0,325.5 142.3,326.5 144.7,327.4 147.0,328.4 149.3,329.3 151.6,330.2 154.0,331.1 156.3,332.0 158.6,332.9 160.9,333.7 163.2,334.5 165.6,335.3 167.9,336.1 170.2,336.9 172.5,337.7 174.9,338.4 177.2,339.2 179.5,339.9 181.8,340.6 184.2,341.3 186.5,342.0 188.8,342.7 191.1,343.3 193.5,344.0 195.8,344.6 198.1,345.2 200.4,345.9 202.8,346.5 205.1,347.1 207.4,347.7 209.7,348.3 212.1,348.8 214.4,349.4 216.7,350.0 219.0,350.5 221.4,351.1 223.7,351.6 226.0,352.1 228.3,352.7 230.7,353.2 233.0,353.7 235.3,354.2 237.6,354.7 240.0,355.2 242.3,355.7 244.6,356.1 246.9,356.6 249.3,357.1 251.6,357.5 253.9,358.0 256.2,358.4 258.6,358.9 260.9,359.3 263.2,359.8 265.5,360.2 267.9,360.6 270.2,361.0 272.5,361.5 274.8,361.9 277.2,362.3 279.5,362.7 281.8,363.1 284.1,363.5 286.5,363.9 288.8,364.3 291.1,364.7 293.4,365.0 295.8,365.4 298.1,365.8 300.4,366.2 302.7,366.5 305.1,366.9 307.4,367.2 309.7,367.6 312.0,368.0 314.4,368.3 316.7,368.6 319.0,369.0 321.3,369.3 323.7,369.7 326.0,370.0 328.3,370.3 330.6,370.7 333.0,371.0 335.3,371.3 337.6,371.6 339.9,372.0 342.3,372.3 344.6,372.6 346.9,372.9 349.2,373.2 351.6,373.5 353.9,373.8 356.2,374.1 358.5,374.4 360.9,374.7 363.2,375.0 365.5,375.3 367.8,375.6 370.1,375.9 372.5,376.2 374.8,376.4 377.1,376.7 379.4,377.0 381.8,377.3 384.1,377.6 386.4,377.8 388.7,378.1 391.1,378.4 393.4,378.6 395.7,378.9 398.0,379.2 400.4,379.4 402.7,379.7 405.0,380.0 407.3,380.2 409.7,380.5 412.0,380.7 414.3,381.0 416.6,381.2 419.0,381.5 421.3,381.7 423.6,382.0 425.9,382.2 428.3,382.5 430.6,382.7 432.9,382.9 435.2,383.2 437.6,383.4 439.9,383.7 442.2,383.9 444.5,384.1 446.9,384.4 449.2,384.6 451.5,384.8 453.8,385.0 456.2,385.3 458.5,385.5 460.8,385.7 463.1,385.9 465.5,386.2 467.8,386.4 470.1,386.6 472.4,386.8 474.8,387.0 477.1,387.3 479.4,387.5 481.7,387.7 484.1,387.9 486.4,388.1 488.7,388.3 491.0,388.5 493.4,388.7 495.7,388.9 498.0,389.1 500.3,389.3 502.7,389.5 505.0,389.7 507.3,389.9 509.6,390.1 512.0,390.3 514.3,390.5 516.6,390.7 518.9,390.9 521.3,391.1 523.6,391.3 525.9,391.5 528.2,391.7" fill="none" stroke="#404040" stroke-width="2.6" stroke-dasharray="6,5"/>
<polyline points="55.3,75.7 55.3,78.2 55.3,80.6 55.3,83.0 55.3,85.5 55.3,87.9 55.2,90.4 55.2,92.8 55.2,95.3 55.2,97.7 55.2,100.2 55.2,102.6 55.2,105.1 55.2,107.5 55.2,110.0 55.2,112.4 55.2,114.9 55.2,117.3 55.2,119.8 55.2,122.2 55.2,124.7 55.2,127.1 55.2,129.6 55.2,132.0 55.2,134.5 55.3,136.9 55.3,139.4 55.3,141.8 55.3,144.3 55.3,146.7 55.3,149.2 55.4,151.6 55.4,154.1 55.5,156.5 55.5,159.0 55.5,161.4 55.6,163.8 55.7,166.3 55.7,168.7 55.8,171.2 55.9,173.6 56.0,176.1 56.1,178.5 56.2,181.0 56.4,183.4 56.5,185.9 56.7,188.3 56.8,190.8 57.0,193.2 57.2,195.7 57.4,198.1 57.6,200.6 57.9,203.0 58.1,205.5 58.4,207.9 58.7,210.4 59.0,212.8 59.4,215.3 59.7,217.7 60.1,220.2 60.5,222.6 60.9,225.1 61.4,227.6 61.9,230.0 62.4,232.5 63.0,235.0 63.6,237.5 64.2,240.0 64.9,242.6 65.6,245.1 67.9,252.6 70.3,259.0 72.6,264.6 74.9,269.6 77.2,274.0 79.6,277.9 81.9,281.3 84.2,284.5 86.5,287.3 88.9,289.9 91.2,292.3 93.5,294.4 95.8,296.5 98.2,298.4 100.5,300.2 102.8,302.0 105.1,303.6 107.5,305.2 109.8,306.7 112.1,308.1 114.4,309.6 116.8,310.9 119.1,312.2 121.4,313.5 123.7,314.7 126.1,316.0 128.4,317.1 130.7,318.3 133.0,319.4 135.4,320.5 137.7,321.5 140.0,322.6 142.3,323.6 144.7,324.6 147.0,325.5 149.3,326.5 151.6,327.4 154.0,328.3 156.3,329.2 158.6,330.0 160.9,330.9 163.2,331.7 165.6,332.5 167.9,333.3 170.2,334.1 172.5,334.9 174.9,335.6 177.2,336.4 179.5,337.1 181.8,337.8 184.2,338.5 186.5,339.2 188.8,339.9 191.1,340.5 193.5,341.2 195.8,341.8 198.1,342.5 200.4,343.1 202.8,343.7 205.1,344.3 207.4,344.9 209.7,345.5 212.1,346.1 214.4,346.6 216.7,347.2 219.0,347.7 221.4,348.3 223.7,348.8 226.0,349.4 228.3,349.9 230.7,350.4 233.0,350.9 235.3,351.4 237.6,351.9 240.0,352.4 242.3,352.9 244.6,353.4 246.9,353.8 249.3,354.3 251.6,354.8 253.9,355.2 256.2,355.7 258.6,356.1 260.9,356.6 263.2,357.0 265.5,357.4 267.9,357.9 270.2,358.3 272.5,358.7 274.8,359.1 277.2,359.5 279.5,359.9 281.8,360.3 284.1,360.7 286.5,361.1 288.8,361.5 291.1,361.9 293.4,362.3 295.8,362.7 298.1,363.0 300.4,363.4 302.7,363.8 305.1,364.1 307.4,364.5 309.7,364.8 312.0,365.2 314.4,365.6 316.7,365.9 319.0,366.2 321.3,366.6 323.7,366.9 326.0,367.3 328.3,367.6 330.6,367.9 333.0,368.2 335.3,368.6 337.6,368.9 339.9,369.2 342.3,369.5 344.6,369.8 346.9,370.2 349.2,370.5 351.6,370.8 353.9,371.1 356.2,371.4 358.5,371.7 360.9,372.0 363.2,372.3 365.5,372.6 367.8,372.9 370.1,373.1 372.5,373.4 374.8,373.7 377.1,374.0 379.4,374.3 381.8,374.6 384.1,374.8 386.4,375.1 388.7,375.4 391.1,375.6 393.4,375.9 395.7,376.2 398.0,376.4 400.4,376.7 402.7,377.0 405.0,377.2 407.3,377.5 409.7,377.7 412.0,378.0 414.3,378.3 416.6,378.5 419.0,378.8 421.3,379.0 423.6,379.3 425.9,379.5 428.3,379.7 430.6,380.0 432.9,380.2 435.2,380.5 437.6,380.7 439.9,380.9 442.2,381.2 444.5,381.4 446.9,381.6 449.2,381.9 451.5,382.1 453.8,382.3 456.2,382.6 458.5,382.8 460.8,383.0 463.1,383.2 465.5,383.4 467.8,383.7 470.1,383.9 472.4,384.1 474.8,384.3 477.1,384.5 479.4,384.7 481.7,385.0 484.1,385.2 486.4,385.4 488.7,385.6 491.0,385.8 493.4,386.0 495.7,386.2 498.0,386.4 500.3,386.6 502.7,386.8 505.0,387.0 507.3,387.2 509.6,387.4 512.0,387.6 514.3,387.8 516.6,388.0 518.9,388.2 521.3,388.4 523.6,388.6 525.9,388.8 528.2,389.0" fill="none" stroke="#f03030" stroke-width="2.6" stroke-dasharray="6,5"/>
<polyline points="55.3,75.7 55.3,78.1 55.3,80.6 55.3,83.0 55.3,85.4 55.3,87.8 55.2,90.2 55.2,92.6 55.2,95.1 55.2,97.5 55.2,99.9 55.2,102.3 55.2,104.7 55.2,107.1 55.2,109.5 55.2,112.0 55.2,114.4 55.2,116.8 55.2,119.2 55.2,121.6 55.2,124.0 55.2,126.4 55.2,128.9 55.2,131.3 55.2,133.7 55.3,136.1 55.3,138.5 55.3,140.9 55.3,143.3 55.3,145.8 55.3,148.2 55.4,150.6 55.4,153.0 55.5,155.4 55.5,157.8 55.5,160.2 55.6,162.7 55.7,165.1 55.7,167.5 55.8,169.9 55.9,172.3 56.0,174.7 56.1,177.1 56.2,179.6 56.4,182.0 56.5,184.4 56.7,186.8 56.8,189.2 57.0,191.6 57.2,194.0 57.4,196.5 57.6,198.9 57.9,201.3 58.1,203.7 58.4,206.1 58.7,208.5 59.0,210.9 59.4,213.4 59.7,215.8 60.1,218.2 60.5,220.6 60.9,223.0 61.4,225.5 61.9,227.9 62.4,230.3 63.0,232.8 63.6,235.2 64.2,237.7 64.9,240.2 65.6,242.7 67.9,249.8 70.3,256.0 72.6,261.4 74.9,266.2 77.2,270.4 79.6,274.2 81.9,277.6 84.2,280.7 86.5,283.5 88.9,286.0 91.2,288.4 93.5,290.6 95.8,292.7 98.2,294.7 100.5,296.5 102.8,298.3 105.1,300.0 107.5,301.6 109.8,303.1 112.1,304.6 114.4,306.0 116.8,307.4 119.1,308.7 121.4,310.0 123.7,311.2 126.1,312.5 128.4,313.6 130.7,314.8 133.0,315.9 135.4,317.0 137.7,318.0 140.0,319.1 142.3,320.1 144.7,321.1 147.0,322.0 149.3,322.9 151.6,323.9 154.0,324.8 156.3,325.6 158.6,326.5 160.9,327.3 163.2,328.1 165.6,329.0 167.9,329.7 170.2,330.5 172.5,331.3 174.9,332.0 177.2,332.7 179.5,333.5 181.8,334.2 184.2,334.9 186.5,335.5 188.8,336.2 191.1,336.9 193.5,337.5 195.8,338.1 198.1,338.8 200.4,339.4 202.8,340.0 205.1,340.6 207.4,341.2 209.7,341.8 212.1,342.3 214.4,342.9 216.7,343.4 219.0,344.0 221.4,344.5 223.7,345.1 226.0,345.6 228.3,346.1 230.7,346.6 233.0,347.1 235.3,347.6 237.6,348.1 240.0,348.6 242.3,349.1 244.6,349.5 246.9,350.0 249.3,350.5 251.6,350.9 253.9,351.4 256.2,351.8 258.6,352.3 260.9,352.7 263.2,353.1 265.5,353.5 267.9,354.0 270.2,354.4 272.5,354.8 274.8,355.2 277.2,355.6 279.5,356.0 281.8,356.4 284.1,356.8 286.5,357.2 288.8,357.6 291.1,357.9 293.4,358.3 295.8,358.7 298.1,359.1 300.4,359.4 302.7,359.8 305.1,360.1 307.4,360.5 309.7,360.9 312.0,361.2 314.4,361.5 316.7,361.9 319.0,362.2 321.3,362.6 323.7,362.9 326.0,363.2 328.3,363.6 330.6,363.9 333.0,364.2 335.3,364.5 337.6,364.8 339.9,365.2 342.3,365.5 344.6,365.8 346.9,366.1 349.2,366.4 351.6,366.7 353.9,367.0 356.2,367.3 358.5,367.6 360.9,367.9 363.2,368.2 365.5,368.5 367.8,368.7 370.1,369.0 372.5,369.3 374.8,369.6 377.1,369.9 379.4,370.2 381.8,370.4 384.1,370.7 386.4,371.0 388.7,371.2 391.1,371.5 393.4,371.8 395.7,372.0 398.0,372.3 400.4,372.6 402.7,372.8 405.0,373.1 407.3,373.3 409.7,373.6 412.0,373.8 414.3,374.1 416.6,374.3 419.0,374.6 421.3,374.8 423.6,375.1 425.9,375.3 428.3,375.5 430.6,375.8 432.9,376.0 435.2,376.3 437.6,376.5 439.9,376.7 442.2,377.0 444.5,377.2 446.9,377.4 449.2,377.6 451.5,377.9 453.8,378.1 456.2,378.3 458.5,378.5 460.8,378.8 463.1,379.0 465.5,379.2 467.8,379.4 470.1,379.6 472.4,379.8 474.8,380.1 477.1,380.3 479.4,380.5 481.7,380.7 484.1,380.9 486.4,381.1 488.7,381.3 491.0,381.5 493.4,381.7 495.7,381.9 498.0,382.1 500.3,382.3 502.7,382.5 505.0,382.7 507.3,382.9 509.6,383.1 512.0,383.3 514.3,383.5 516.6,383.7 518.9,383.9 521.3,384.1 523.6,384.3 525.9,384.5 528.2,384.7" fill="none" stroke="#1a62d8" stroke-width="2.6" stroke-dasharray="6,5"/>
<polyline points="55.3,72.6 55.3,75.0 55.3,77.5 55.3,79.9 55.3,82.3 55.3,84.7 55.2,87.2 55.2,89.6 55.2,92.0 55.2,94.4 55.2,96.9 55.2,99.3 55.2,101.7 55.2,104.1 55.2,106.6 55.2,109.0 55.2,111.4 55.2,113.8 55.2,116.2 55.2,118.7 55.2,121.1 55.2,123.5 55.2,125.9 55.2,128.4 55.2,130.8 55.3,133.2 55.3,135.6 55.3,138.1 55.3,140.5 55.3,142.9 55.3,145.3 55.4,147.8 55.4,150.2 55.5,152.6 55.5,155.0 55.5,157.5 55.6,159.9 55.7,162.3 55.7,164.7 55.8,167.1 55.9,169.6 56.0,172.0 56.1,174.4 56.2,176.8 56.4,179.3 56.5,181.7 56.7,184.1 56.8,186.5 57.0,189.0 57.2,191.4 57.4,193.8 57.6,196.2 57.9,198.7 58.1,201.1 58.4,203.5 58.7,205.9 59.0,208.4 59.4,210.8 59.7,213.2 60.1,215.6 60.5,218.1 60.9,220.5 61.4,222.9 61.9,225.4 62.4,227.8 63.0,230.2 63.6,232.7 64.2,235.2 64.9,237.6 65.6,240.1 67.9,247.2 70.3,253.4 72.6,258.7 74.9,263.4 77.2,267.6 79.6,271.4 81.9,274.8 84.2,277.8 86.5,280.7 88.9,283.3 91.2,285.7 93.5,287.9 95.8,290.1 98.2,292.0 100.5,293.9 102.8,295.7 105.1,297.4 107.5,299.1 109.8,300.6 112.1,302.1 114.4,303.6 116.8,305.0 119.1,306.4 121.4,307.7 123.7,308.9 126.1,310.2 128.4,311.4 130.7,312.5 133.0,313.6 135.4,314.7 137.7,315.8 140.0,316.8 142.3,317.9 144.7,318.8 147.0,319.8 149.3,320.8 151.6,321.7 154.0,322.6 156.3,323.5 158.6,324.3 160.9,325.2 163.2,326.0 165.6,326.8 167.9,327.6 170.2,328.4 172.5,329.1 174.9,329.9 177.2,330.6 179.5,331.3 181.8,332.0 184.2,332.7 186.5,333.4 188.8,334.1 191.1,334.7 193.5,335.4 195.8,336.0 198.1,336.7 200.4,337.3 202.8,337.9 205.1,338.5 207.4,339.1 209.7,339.7 212.1,340.2 214.4,340.8 216.7,341.4 219.0,341.9 221.4,342.4 223.7,343.0 226.0,343.5 228.3,344.0 230.7,344.5 233.0,345.0 235.3,345.5 237.6,346.0 240.0,346.5 242.3,347.0 244.6,347.5 246.9,347.9 249.3,348.4 251.6,348.9 253.9,349.3 256.2,349.8 258.6,350.2 260.9,350.6 263.2,351.1 265.5,351.5 267.9,351.9 270.2,352.3 272.5,352.8 274.8,353.2 277.2,353.6 279.5,354.0 281.8,354.4 284.1,354.8 286.5,355.1 288.8,355.5 291.1,355.9 293.4,356.3 295.8,356.7 298.1,357.0 300.4,357.4 302.7,357.8 305.1,358.1 307.4,358.5 309.7,358.8 312.0,359.2 314.4,359.5 316.7,359.9 319.0,360.2 321.3,360.6 323.7,360.9 326.0,361.2 328.3,361.6 330.6,361.9 333.0,362.2 335.3,362.5 337.6,362.8 339.9,363.2 342.3,363.5 344.6,363.8 346.9,364.1 349.2,364.4 351.6,364.7 353.9,365.0 356.2,365.3 358.5,365.6 360.9,365.9 363.2,366.2 365.5,366.5 367.8,366.8 370.1,367.0 372.5,367.3 374.8,367.6 377.1,367.9 379.4,368.2 381.8,368.4 384.1,368.7 386.4,369.0 388.7,369.3 391.1,369.5 393.4,369.8 395.7,370.1 398.0,370.3 400.4,370.6 402.7,370.8 405.0,371.1 407.3,371.4 409.7,371.6 412.0,371.9 414.3,372.1 416.6,372.4 419.0,372.6 421.3,372.8 423.6,373.1 425.9,373.3 428.3,373.6 430.6,373.8 432.9,374.1 435.2,374.3 437.6,374.5 439.9,374.8 442.2,375.0 444.5,375.2 446.9,375.5 449.2,375.7 451.5,375.9 453.8,376.1 456.2,376.4 458.5,376.6 460.8,376.8 463.1,377.0 465.5,377.2 467.8,377.5 470.1,377.7 472.4,377.9 474.8,378.1 477.1,378.3 479.4,378.5 481.7,378.7 484.1,379.0 486.4,379.2 488.7,379.4 491.0,379.6 493.4,379.8 495.7,380.0 498.0,380.2 500.3,380.4 502.7,380.6 505.0,380.8 507.3,381.0 509.6,381.2 512.0,381.4 514.3,381.6 516.6,381.8 518.9,382.0 521.3,382.2 523.6,382.4 525.9,382.6 528.2,382.7" fill="none" stroke="#12a062" stroke-width="2.6" stroke-dasharray="6,5"/>
<polyline points="55.3,73.0 55.3,75.3 55.3,77.7 55.3,80.0 55.3,82.4 55.3,84.7 55.2,87.1 55.2,89.4 55.2,91.8 55.2,94.1 55.2,96.5 55.2,98.8 55.2,101.2 55.2,103.5 55.2,105.9 55.2,108.2 55.2,110.6 55.2,112.9 55.2,115.3 55.2,117.7 55.2,120.0 55.2,122.4 55.2,124.7 55.2,127.1 55.2,129.4 55.3,131.8 55.3,134.1 55.3,136.5 55.3,138.8 55.3,141.2 55.3,143.5 55.4,145.9 55.4,148.2 55.5,150.6 55.5,152.9 55.5,155.3 55.6,157.6 55.7,160.0 55.7,162.4 55.8,164.7 55.9,167.1 56.0,169.4 56.1,171.8 56.2,174.1 56.4,176.5 56.5,178.8 56.7,181.2 56.8,183.5 57.0,185.9 57.2,188.2 57.4,190.6 57.6,192.9 57.9,195.3 58.1,197.6 58.4,200.0 58.7,202.3 59.0,204.7 59.4,207.1 59.7,209.4 60.1,211.8 60.5,214.1 60.9,216.5 61.4,218.8 61.9,221.2 62.4,223.5 63.0,225.9 63.6,228.3 64.2,230.6 64.9,233.0 65.6,235.4 67.9,242.2 70.3,247.9 72.6,253.0 74.9,257.4 77.2,261.4 79.6,265.0 81.9,268.2 84.2,271.2 86.5,274.0 88.9,276.5 91.2,278.9 93.5,281.2 95.8,283.3 98.2,285.3 100.5,287.2 102.8,289.0 105.1,290.7 107.5,292.3 109.8,293.9 112.1,295.4 114.4,296.8 116.8,298.2 119.1,299.6 121.4,300.9 123.7,302.1 126.1,303.3 128.4,304.5 130.7,305.7 133.0,306.8 135.4,307.9 137.7,308.9 140.0,309.9 142.3,310.9 144.7,311.9 147.0,312.8 149.3,313.8 151.6,314.7 154.0,315.5 156.3,316.4 158.6,317.2 160.9,318.1 163.2,318.9 165.6,319.6 167.9,320.4 170.2,321.2 172.5,321.9 174.9,322.6 177.2,323.4 179.5,324.1 181.8,324.8 184.2,325.4 186.5,326.1 188.8,326.7 191.1,327.4 193.5,328.0 195.8,328.6 198.1,329.2 200.4,329.8 202.8,330.4 205.1,331.0 207.4,331.6 209.7,332.2 212.1,332.7 214.4,333.3 216.7,333.8 219.0,334.3 221.4,334.9 223.7,335.4 226.0,335.9 228.3,336.4 230.7,336.9 233.0,337.4 235.3,337.9 237.6,338.3 240.0,338.8 242.3,339.3 244.6,339.7 246.9,340.2 249.3,340.6 251.6,341.1 253.9,341.5 256.2,342.0 258.6,342.4 260.9,342.8 263.2,343.2 265.5,343.6 267.9,344.1 270.2,344.5 272.5,344.9 274.8,345.3 277.2,345.7 279.5,346.0 281.8,346.4 284.1,346.8 286.5,347.2 288.8,347.6 291.1,347.9 293.4,348.3 295.8,348.7 298.1,349.0 300.4,349.4 302.7,349.7 305.1,350.1 307.4,350.4 309.7,350.8 312.0,351.1 314.4,351.4 316.7,351.8 319.0,352.1 321.3,352.4 323.7,352.8 326.0,353.1 328.3,353.4 330.6,353.7 333.0,354.0 335.3,354.4 337.6,354.7 339.9,355.0 342.3,355.3 344.6,355.6 346.9,355.9 349.2,356.2 351.6,356.5 353.9,356.8 356.2,357.0 358.5,357.3 360.9,357.6 363.2,357.9 365.5,358.2 367.8,358.5 370.1,358.7 372.5,359.0 374.8,359.3 377.1,359.6 379.4,359.8 381.8,360.1 384.1,360.4 386.4,360.6 388.7,360.9 391.1,361.1 393.4,361.4 395.7,361.7 398.0,361.9 400.4,362.2 402.7,362.4 405.0,362.7 407.3,362.9 409.7,363.2 412.0,363.4 414.3,363.7 416.6,363.9 419.0,364.1 421.3,364.4 423.6,364.6 425.9,364.8 428.3,365.1 430.6,365.3 432.9,365.5 435.2,365.8 437.6,366.0 439.9,366.2 442.2,366.5 444.5,366.7 446.9,366.9 449.2,367.1 451.5,367.3 453.8,367.6 456.2,367.8 458.5,368.0 460.8,368.2 463.1,368.4 465.5,368.6 467.8,368.9 470.1,369.1 472.4,369.3 474.8,369.5 477.1,369.7 479.4,369.9 481.7,370.1 484.1,370.3 486.4,370.5 488.7,370.7 491.0,370.9 493.4,371.1 495.7,371.3 498.0,371.5 500.3,371.7 502.7,371.9 505.0,372.1 507.3,372.3 509.6,372.5 512.0,372.7 514.3,372.9 516.6,373.0 518.9,373.2 521.3,373.4 523.6,373.6 525.9,373.8 528.2,374.0" fill="none" stroke="#bf6fe0" stroke-width="2.6" stroke-dasharray="6,5"/>
<polyline points="55.3,66.1 55.3,68.5 55.3,70.8 55.3,73.2 55.3,75.5 55.3,77.9 55.2,80.3 55.2,82.6 55.2,85.0 55.2,87.3 55.2,89.7 55.2,92.1 55.2,94.4 55.2,96.8 55.2,99.1 55.2,101.5 55.2,103.9 55.2,106.2 55.2,108.6 55.2,111.0 55.2,113.3 55.2,115.7 55.2,118.0 55.2,120.4 55.2,122.8 55.3,125.1 55.3,127.5 55.3,129.8 55.3,132.2 55.3,134.6 55.3,136.9 55.4,139.3 55.4,141.6 55.5,144.0 55.5,146.4 55.5,148.7 55.6,151.1 55.7,153.4 55.7,155.8 55.8,158.2 55.9,160.5 56.0,162.9 56.1,165.3 56.2,167.6 56.4,170.0 56.5,172.3 56.7,174.7 56.8,177.1 57.0,179.4 57.2,181.8 57.4,184.1 57.6,186.5 57.9,188.9 58.1,191.2 58.4,193.6 58.7,195.9 59.0,198.3 59.4,200.7 59.7,203.0 60.1,205.4 60.5,207.7 60.9,210.1 61.4,212.5 61.9,214.8 62.4,217.2 63.0,219.5 63.6,221.8 64.2,224.2 64.9,226.5 65.6,228.8 67.9,235.4 70.3,240.9 72.6,245.7 74.9,249.9 77.2,253.7 79.6,257.2 81.9,260.4 84.2,263.4 86.5,266.2 88.9,268.8 91.2,271.3 93.5,273.7 95.8,275.9 98.2,278.0 100.5,280.0 102.8,281.9 105.1,283.7 107.5,285.4 109.8,287.1 112.1,288.7 114.4,290.2 116.8,291.6 119.1,293.1 121.4,294.4 123.7,295.7 126.1,297.0 128.4,298.2 130.7,299.4 133.0,300.5 135.4,301.6 137.7,302.7 140.0,303.8 142.3,304.8 144.7,305.8 147.0,306.7 149.3,307.7 151.6,308.6 154.0,309.5 156.3,310.3 158.6,311.2 160.9,312.0 163.2,312.8 165.6,313.6 167.9,314.4 170.2,315.2 172.5,315.9 174.9,316.7 177.2,317.4 179.5,318.1 181.8,318.8 184.2,319.5 186.5,320.1 188.8,320.8 191.1,321.4 193.5,322.1 195.8,322.7 198.1,323.3 200.4,323.9 202.8,324.5 205.1,325.1 207.4,325.6 209.7,326.2 212.1,326.8 214.4,327.3 216.7,327.9 219.0,328.4 221.4,328.9 223.7,329.5 226.0,330.0 228.3,330.5 230.7,331.0 233.0,331.5 235.3,331.9 237.6,332.4 240.0,332.9 242.3,333.4 244.6,333.8 246.9,334.3 249.3,334.7 251.6,335.2 253.9,335.6 256.2,336.1 258.6,336.5 260.9,336.9 263.2,337.3 265.5,337.8 267.9,338.2 270.2,338.6 272.5,339.0 274.8,339.4 277.2,339.8 279.5,340.2 281.8,340.6 284.1,340.9 286.5,341.3 288.8,341.7 291.1,342.1 293.4,342.4 295.8,342.8 298.1,343.2 300.4,343.5 302.7,343.9 305.1,344.2 307.4,344.6 309.7,344.9 312.0,345.2 314.4,345.6 316.7,345.9 319.0,346.3 321.3,346.6 323.7,346.9 326.0,347.2 328.3,347.6 330.6,347.9 333.0,348.2 335.3,348.5 337.6,348.8 339.9,349.1 342.3,349.4 344.6,349.7 346.9,350.0 349.2,350.3 351.6,350.6 353.9,350.9 356.2,351.2 358.5,351.5 360.9,351.8 363.2,352.1 365.5,352.3 367.8,352.6 370.1,352.9 372.5,353.2 374.8,353.5 377.1,353.7 379.4,354.0 381.8,354.3 384.1,354.5 386.4,354.8 388.7,355.1 391.1,355.3 393.4,355.6 395.7,355.8 398.0,356.1 400.4,356.3 402.7,356.6 405.0,356.8 407.3,357.1 409.7,357.3 412.0,357.6 414.3,357.8 416.6,358.1 419.0,358.3 421.3,358.6 423.6,358.8 425.9,359.0 428.3,359.3 430.6,359.5 432.9,359.7 435.2,360.0 437.6,360.2 439.9,360.4 442.2,360.6 444.5,360.9 446.9,361.1 449.2,361.3 451.5,361.5 453.8,361.8 456.2,362.0 458.5,362.2 460.8,362.4 463.1,362.6 465.5,362.8 467.8,363.1 470.1,363.3 472.4,363.5 474.8,363.7 477.1,363.9 479.4,364.1 481.7,364.3 484.1,364.5 486.4,364.7 488.7,364.9 491.0,365.1 493.4,365.3 495.7,365.5 498.0,365.7 500.3,365.9 502.7,366.1 505.0,366.3 507.3,366.5 509.6,366.7 512.0,366.9 514.3,367.1 516.6,367.3 518.9,367.4 521.3,367.6 523.6,367.8 525.9,368.0 528.2,368.2" fill="none" stroke="#e09800" stroke-width="2.6" stroke-dasharray="6,5"/>
<polyline points="55.3,44.7 55.3,47.1 55.3,49.6 55.3,52.0 55.3,54.4 55.3,56.9 55.2,59.3 55.2,61.7 55.2,64.1 55.2,66.6 55.2,69.0 55.2,71.4 55.2,73.9 55.2,76.3 55.2,78.7 55.2,81.1 55.2,83.6 55.2,86.0 55.2,88.4 55.2,90.9 55.2,93.3 55.2,95.7 55.2,98.2 55.2,100.6 55.2,103.0 55.3,105.4 55.3,107.9 55.3,110.3 55.3,112.7 55.3,115.2 55.3,117.6 55.4,120.0 55.4,122.5 55.5,124.9 55.5,127.3 55.5,129.7 55.6,132.2 55.7,134.6 55.7,137.0 55.8,139.5 55.9,141.9 56.0,144.3 56.1,146.8 56.2,149.2 56.4,151.6 56.5,154.0 56.7,156.5 56.8,158.9 57.0,161.3 57.2,163.8 57.4,166.2 57.6,168.6 57.9,171.0 58.1,173.5 58.4,175.9 58.7,178.3 59.0,180.8 59.4,183.2 59.7,185.6 60.1,188.0 60.5,190.4 60.9,192.8 61.4,195.2 61.9,197.6 62.4,200.0 63.0,202.3 63.6,204.6 64.2,206.9 64.9,209.2 65.6,211.4 67.9,217.6 70.3,222.5 72.6,226.7 74.9,230.5 77.2,233.9 79.6,237.2 81.9,240.3 84.2,243.3 86.5,246.3 88.9,249.1 91.2,251.9 93.5,254.5 95.8,257.1 98.2,259.5 100.5,261.9 102.8,264.1 105.1,266.2 107.5,268.2 109.8,270.2 112.1,272.0 114.4,273.7 116.8,275.4 119.1,277.0 121.4,278.6 123.7,280.0 126.1,281.4 128.4,282.8 130.7,284.1 133.0,285.3 135.4,286.5 137.7,287.7 140.0,288.8 142.3,289.9 144.7,291.0 147.0,292.0 149.3,293.0 151.6,294.0 154.0,294.9 156.3,295.9 158.6,296.8 160.9,297.6 163.2,298.5 165.6,299.3 167.9,300.1 170.2,300.9 172.5,301.7 174.9,302.5 177.2,303.2 179.5,304.0 181.8,304.7 184.2,305.4 186.5,306.1 188.8,306.8 191.1,307.4 193.5,308.1 195.8,308.7 198.1,309.4 200.4,310.0 202.8,310.6 205.1,311.2 207.4,311.8 209.7,312.4 212.1,313.0 214.4,313.5 216.7,314.1 219.0,314.6 221.4,315.2 223.7,315.7 226.0,316.2 228.3,316.8 230.7,317.3 233.0,317.8 235.3,318.3 237.6,318.8 240.0,319.3 242.3,319.8 244.6,320.2 246.9,320.7 249.3,321.2 251.6,321.6 253.9,322.1 256.2,322.5 258.6,323.0 260.9,323.4 263.2,323.8 265.5,324.3 267.9,324.7 270.2,325.1 272.5,325.5 274.8,325.9 277.2,326.3 279.5,326.8 281.8,327.1 284.1,327.5 286.5,327.9 288.8,328.3 291.1,328.7 293.4,329.1 295.8,329.5 298.1,329.8 300.4,330.2 302.7,330.6 305.1,330.9 307.4,331.3 309.7,331.6 312.0,332.0 314.4,332.3 316.7,332.7 319.0,333.0 321.3,333.4 323.7,333.7 326.0,334.0 328.3,334.4 330.6,334.7 333.0,335.0 335.3,335.3 337.6,335.6 339.9,336.0 342.3,336.3 344.6,336.6 346.9,336.9 349.2,337.2 351.6,337.5 353.9,337.8 356.2,338.1 358.5,338.4 360.9,338.7 363.2,339.0 365.5,339.3 367.8,339.6 370.1,339.9 372.5,340.1 374.8,340.4 377.1,340.7 379.4,341.0 381.8,341.3 384.1,341.5 386.4,341.8 388.7,342.1 391.1,342.3 393.4,342.6 395.7,342.9 398.0,343.1 400.4,343.4 402.7,343.7 405.0,343.9 407.3,344.2 409.7,344.4 412.0,344.7 414.3,344.9 416.6,345.2 419.0,345.4 421.3,345.7 423.6,345.9 425.9,346.2 428.3,346.4 430.6,346.7 432.9,346.9 435.2,347.1 437.6,347.4 439.9,347.6 442.2,347.8 444.5,348.1 446.9,348.3 449.2,348.5 451.5,348.7 453.8,349.0 456.2,349.2 458.5,349.4 460.8,349.6 463.1,349.9 465.5,350.1 467.8,350.3 470.1,350.5 472.4,350.7 474.8,351.0 477.1,351.2 479.4,351.4 481.7,351.6 484.1,351.8 486.4,352.0 488.7,352.2 491.0,352.4 493.4,352.6 495.7,352.8 498.0,353.0 500.3,353.2 502.7,353.4 505.0,353.6 507.3,353.8 509.6,354.0 512.0,354.2 514.3,354.4 516.6,354.6 518.9,354.8 521.3,355.0 523.6,355.2 525.9,355.4 528.2,355.6" fill="none" stroke="#12b8c0" stroke-width="2.6" stroke-dasharray="6,5"/>
</g>
<rect x="53.75" y="16.00" width="474.48" height="389.00" fill="none" stroke="#000" stroke-width="1.8"/><line x1="65.61" y1="405.0" x2="65.61" y2="408.5" stroke="#000" stroke-width="1.8"/><line x1="77.47" y1="405.0" x2="77.47" y2="408.5" stroke="#000" stroke-width="1.8"/><line x1="89.34" y1="405.0" x2="89.34" y2="408.5" stroke="#000" stroke-width="1.8"/><line x1="101.20" y1="405.0" x2="101.20" y2="408.5" stroke="#000" stroke-width="1.8"/><line x1="113.06" y1="405.0" x2="113.06" y2="411.0" stroke="#000" stroke-width="1.8"/><line x1="124.92" y1="405.0" x2="124.92" y2="408.5" stroke="#000" stroke-width="1.8"/><line x1="136.78" y1="405.0" x2="136.78" y2="408.5" stroke="#000" stroke-width="1.8"/><line x1="148.65" y1="405.0" x2="148.65" y2="408.5" stroke="#000" stroke-width="1.8"/><line x1="160.51" y1="405.0" x2="160.51" y2="408.5" stroke="#000" stroke-width="1.8"/><line x1="172.37" y1="405.0" x2="172.37" y2="411.0" stroke="#000" stroke-width="1.8"/><line x1="184.23" y1="405.0" x2="184.23" y2="408.5" stroke="#000" stroke-width="1.8"/><line x1="196.09" y1="405.0" x2="196.09" y2="408.5" stroke="#000" stroke-width="1.8"/><line x1="207.96" y1="405.0" x2="207.96" y2="408.5" stroke="#000" stroke-width="1.8"/><line x1="219.82" y1="405.0" x2="219.82" y2="408.5" stroke="#000" stroke-width="1.8"/><line x1="231.68" y1="405.0" x2="231.68" y2="411.0" stroke="#000" stroke-width="1.8"/><line x1="243.54" y1="405.0" x2="243.54" y2="408.5" stroke="#000" stroke-width="1.8"/><line x1="255.40" y1="405.0" x2="255.40" y2="408.5" stroke="#000" stroke-width="1.8"/><line x1="267.27" y1="405.0" x2="267.27" y2="408.5" stroke="#000" stroke-width="1.8"/><line x1="279.13" y1="405.0" x2="279.13" y2="408.5" stroke="#000" stroke-width="1.8"/><line x1="290.99" y1="405.0" x2="290.99" y2="411.0" stroke="#000" stroke-width="1.8"/><line x1="302.85" y1="405.0" x2="302.85" y2="408.5" stroke="#000" stroke-width="1.8"/><line x1="314.71" y1="405.0" x2="314.71" y2="408.5" stroke="#000" stroke-width="1.8"/><line x1="326.58" y1="405.0" x2="326.58" y2="408.5" stroke="#000" stroke-width="1.8"/><line x1="338.44" y1="405.0" x2="338.44" y2="408.5" stroke="#000" stroke-width="1.8"/><line x1="350.30" y1="405.0" x2="350.30" y2="411.0" stroke="#000" stroke-width="1.8"/><line x1="362.16" y1="405.0" x2="362.16" y2="408.5" stroke="#000" stroke-width="1.8"/><line x1="374.02" y1="405.0" x2="374.02" y2="408.5" stroke="#000" stroke-width="1.8"/><line x1="385.89" y1="405.0" x2="385.89" y2="408.5" stroke="#000" stroke-width="1.8"/><line x1="397.75" y1="405.0" x2="397.75" y2="408.5" stroke="#000" stroke-width="1.8"/><line x1="409.61" y1="405.0" x2="409.61" y2="411.0" stroke="#000" stroke-width="1.8"/><line x1="421.47" y1="405.0" x2="421.47" y2="408.5" stroke="#000" stroke-width="1.8"/><line x1="433.33" y1="405.0" x2="433.33" y2="408.5" stroke="#000" stroke-width="1.8"/><line x1="445.20" y1="405.0" x2="445.20" y2="408.5" stroke="#000" stroke-width="1.8"/><line x1="457.06" y1="405.0" x2="457.06" y2="408.5" stroke="#000" stroke-width="1.8"/><line x1="468.92" y1="405.0" x2="468.92" y2="411.0" stroke="#000" stroke-width="1.8"/><line x1="480.78" y1="405.0" x2="480.78" y2="408.5" stroke="#000" stroke-width="1.8"/><line x1="492.64" y1="405.0" x2="492.64" y2="408.5" stroke="#000" stroke-width="1.8"/><line x1="504.51" y1="405.0" x2="504.51" y2="408.5" stroke="#000" stroke-width="1.8"/><line x1="516.37" y1="405.0" x2="516.37" y2="408.5" stroke="#000" stroke-width="1.8"/><line x1="528.23" y1="405.0" x2="528.23" y2="411.0" stroke="#000" stroke-width="1.8"/><line x1="53.75" y1="405.00" x2="47.25" y2="405.00" stroke="#000" stroke-width="1.8"/><line x1="53.75" y1="375.72" x2="50.25" y2="375.72" stroke="#000" stroke-width="1.6"/><line x1="53.75" y1="358.60" x2="50.25" y2="358.60" stroke="#000" stroke-width="1.6"/><line x1="53.75" y1="346.45" x2="50.25" y2="346.45" stroke="#000" stroke-width="1.6"/><line x1="53.75" y1="337.03" x2="50.25" y2="337.03" stroke="#000" stroke-width="1.6"/><line x1="53.75" y1="329.32" x2="50.25" y2="329.32" stroke="#000" stroke-width="1.6"/><line x1="53.75" y1="322.81" x2="50.25" y2="322.81" stroke="#000" stroke-width="1.6"/><line x1="53.75" y1="317.17" x2="50.25" y2="317.17" stroke="#000" stroke-width="1.6"/><line x1="53.75" y1="312.20" x2="50.25" y2="312.20" stroke="#000" stroke-width="1.6"/><line x1="53.75" y1="307.75" x2="47.25" y2="307.75" stroke="#000" stroke-width="1.8"/><line x1="53.75" y1="278.47" x2="50.25" y2="278.47" stroke="#000" stroke-width="1.6"/><line x1="53.75" y1="261.35" x2="50.25" y2="261.35" stroke="#000" stroke-width="1.6"/><line x1="53.75" y1="249.20" x2="50.25" y2="249.20" stroke="#000" stroke-width="1.6"/><line x1="53.75" y1="239.78" x2="50.25" y2="239.78" stroke="#000" stroke-width="1.6"/><line x1="53.75" y1="232.07" x2="50.25" y2="232.07" stroke="#000" stroke-width="1.6"/><line x1="53.75" y1="225.56" x2="50.25" y2="225.56" stroke="#000" stroke-width="1.6"/><line x1="53.75" y1="219.92" x2="50.25" y2="219.92" stroke="#000" stroke-width="1.6"/><line x1="53.75" y1="214.95" x2="50.25" y2="214.95" stroke="#000" stroke-width="1.6"/><line x1="53.75" y1="210.50" x2="47.25" y2="210.50" stroke="#000" stroke-width="1.8"/><line x1="53.75" y1="181.22" x2="50.25" y2="181.22" stroke="#000" stroke-width="1.6"/><line x1="53.75" y1="164.10" x2="50.25" y2="164.10" stroke="#000" stroke-width="1.6"/><line x1="53.75" y1="151.95" x2="50.25" y2="151.95" stroke="#000" stroke-width="1.6"/><line x1="53.75" y1="142.53" x2="50.25" y2="142.53" stroke="#000" stroke-width="1.6"/><line x1="53.75" y1="134.82" x2="50.25" y2="134.82" stroke="#000" stroke-width="1.6"/><line x1="53.75" y1="128.31" x2="50.25" y2="128.31" stroke="#000" stroke-width="1.6"/><line x1="53.75" y1="122.67" x2="50.25" y2="122.67" stroke="#000" stroke-width="1.6"/><line x1="53.75" y1="117.70" x2="50.25" y2="117.70" stroke="#000" stroke-width="1.6"/><line x1="53.75" y1="113.25" x2="47.25" y2="113.25" stroke="#000" stroke-width="1.8"/><line x1="53.75" y1="83.97" x2="50.25" y2="83.97" stroke="#000" stroke-width="1.6"/><line x1="53.75" y1="66.85" x2="50.25" y2="66.85" stroke="#000" stroke-width="1.6"/><line x1="53.75" y1="54.70" x2="50.25" y2="54.70" stroke="#000" stroke-width="1.6"/><line x1="53.75" y1="45.28" x2="50.25" y2="45.28" stroke="#000" stroke-width="1.6"/><line x1="53.75" y1="37.57" x2="50.25" y2="37.57" stroke="#000" stroke-width="1.6"/><line x1="53.75" y1="31.06" x2="50.25" y2="31.06" stroke="#000" stroke-width="1.6"/><line x1="53.75" y1="25.42" x2="50.25" y2="25.42" stroke="#000" stroke-width="1.6"/><line x1="53.75" y1="20.45" x2="50.25" y2="20.45" stroke="#000" stroke-width="1.6"/><line x1="53.75" y1="16.00" x2="47.25" y2="16.00" stroke="#000" stroke-width="1.8"/>
<text transform="translate(113.06,429.00) scale(1,1.07)" font-size="14.0" text-anchor="middle" fill="#000" stroke="#000" stroke-width="0.3">1.5G</text>
<text transform="translate(172.37,429.00) scale(1,1.07)" font-size="14.0" text-anchor="middle" fill="#000" stroke="#000" stroke-width="0.3">3.0G</text>
<text transform="translate(231.68,429.00) scale(1,1.07)" font-size="14.0" text-anchor="middle" fill="#000" stroke="#000" stroke-width="0.3">4.5G</text>
<text transform="translate(290.99,429.00) scale(1,1.07)" font-size="14.0" text-anchor="middle" fill="#000" stroke="#000" stroke-width="0.3">6.0G</text>
<text transform="translate(350.30,429.00) scale(1,1.07)" font-size="14.0" text-anchor="middle" fill="#000" stroke="#000" stroke-width="0.3">7.5G</text>
<text transform="translate(409.61,429.00) scale(1,1.07)" font-size="14.0" text-anchor="middle" fill="#000" stroke="#000" stroke-width="0.3">9.0G</text>
<text transform="translate(468.92,429.00) scale(1,1.07)" font-size="14.0" text-anchor="middle" fill="#000" stroke="#000" stroke-width="0.3">10.5G</text>
<text transform="translate(528.23,429.00) scale(1,1.07)" font-size="14.0" text-anchor="middle" fill="#000" stroke="#000" stroke-width="0.3">12.0G</text>
<text transform="translate(38.00,411.10) scale(1,1.07)" font-size="14.0" text-anchor="end" fill="#000" stroke="#000" stroke-width="0.3">10</text><text transform="translate(38.90,404.80) scale(1,1.07)" font-size="8.6" text-anchor="start" fill="#000" stroke="#000" stroke-width="0.3">0</text>
<text transform="translate(38.00,313.85) scale(1,1.07)" font-size="14.0" text-anchor="end" fill="#000" stroke="#000" stroke-width="0.3">10</text><text transform="translate(38.90,307.55) scale(1,1.07)" font-size="8.6" text-anchor="start" fill="#000" stroke="#000" stroke-width="0.3">1</text>
<text transform="translate(38.00,216.60) scale(1,1.07)" font-size="14.0" text-anchor="end" fill="#000" stroke="#000" stroke-width="0.3">10</text><text transform="translate(38.90,210.30) scale(1,1.07)" font-size="8.6" text-anchor="start" fill="#000" stroke="#000" stroke-width="0.3">2</text>
<text transform="translate(38.00,119.35) scale(1,1.07)" font-size="14.0" text-anchor="end" fill="#000" stroke="#000" stroke-width="0.3">10</text><text transform="translate(38.90,113.05) scale(1,1.07)" font-size="8.6" text-anchor="start" fill="#000" stroke="#000" stroke-width="0.3">3</text>
<text transform="translate(38.00,22.10) scale(1,1.07)" font-size="14.0" text-anchor="end" fill="#000" stroke="#000" stroke-width="0.3">10</text><text transform="translate(38.90,15.80) scale(1,1.07)" font-size="8.6" text-anchor="start" fill="#000" stroke="#000" stroke-width="0.3">4</text>
<text transform="translate(291.30,450.80) scale(1,1.08)" font-size="17.1" text-anchor="middle" fill="#000" stroke="#000" stroke-width="0.3">Frequency (Hz)</text>
<text transform="translate(16.70,209.90) rotate(-90) scale(1,1.0)" font-size="18.75" text-anchor="middle" fill="#000" stroke="#000" stroke-width="0.3">Absolute value of the complex impedance (|Z*|/ohm)</text>
<rect x="64" y="22" width="125" height="184" fill="#fff"/>
<rect x="70.7" y="24.60" width="9.0" height="9.0" fill="#b8f4f4" stroke="#5ee0e0" stroke-width="1.1" stroke-opacity="0.85"/>
<line x1="73.70" y1="24.60" x2="73.70" y2="33.60" stroke="#5ee0e0" stroke-width="0.5" stroke-opacity="0.35"/><line x1="70.7" y1="27.60" x2="79.7" y2="27.60" stroke="#5ee0e0" stroke-width="0.5" stroke-opacity="0.35"/>
<line x1="76.70" y1="24.60" x2="76.70" y2="33.60" stroke="#5ee0e0" stroke-width="0.5" stroke-opacity="0.35"/><line x1="70.7" y1="30.60" x2="79.7" y2="30.60" stroke="#5ee0e0" stroke-width="0.5" stroke-opacity="0.35"/>
<text transform="translate(88.90,32.70) scale(1,1.07)" font-size="9.5" text-anchor="start" fill="#1a9e9e" stroke="#1a9e9e" stroke-width="0.3">Experimental non-porous ST90</text>
<rect x="70.7" y="37.54" width="9.0" height="9.0" fill="#fbe6bf" stroke="#f2c070" stroke-width="1.1" stroke-opacity="0.85"/>
<line x1="73.70" y1="37.54" x2="73.70" y2="46.54" stroke="#f2c070" stroke-width="0.5" stroke-opacity="0.35"/><line x1="70.7" y1="40.54" x2="79.7" y2="40.54" stroke="#f2c070" stroke-width="0.5" stroke-opacity="0.35"/>
<line x1="76.70" y1="37.54" x2="76.70" y2="46.54" stroke="#f2c070" stroke-width="0.5" stroke-opacity="0.35"/><line x1="70.7" y1="43.54" x2="79.7" y2="43.54" stroke="#f2c070" stroke-width="0.5" stroke-opacity="0.35"/>
<text transform="translate(88.90,45.64) scale(1,1.07)" font-size="9.5" text-anchor="start" fill="#9a7a28" stroke="#9a7a28" stroke-width="0.3">Experimental non-porous ST80</text>
<rect x="70.7" y="50.48" width="9.0" height="9.0" fill="#f0dcfa" stroke="#dcb0f0" stroke-width="1.1" stroke-opacity="0.85"/>
<line x1="73.70" y1="50.48" x2="73.70" y2="59.48" stroke="#dcb0f0" stroke-width="0.5" stroke-opacity="0.35"/><line x1="70.7" y1="53.48" x2="79.7" y2="53.48" stroke="#dcb0f0" stroke-width="0.5" stroke-opacity="0.35"/>
<line x1="76.70" y1="50.48" x2="76.70" y2="59.48" stroke="#dcb0f0" stroke-width="0.5" stroke-opacity="0.35"/><line x1="70.7" y1="56.48" x2="79.7" y2="56.48" stroke="#dcb0f0" stroke-width="0.5" stroke-opacity="0.35"/>
<text transform="translate(88.90,58.58) scale(1,1.07)" font-size="9.5" text-anchor="start" fill="#9a3ec8" stroke="#9a3ec8" stroke-width="0.3">Experimental non-porous ST70</text>
<rect x="70.7" y="63.42" width="9.0" height="9.0" fill="#c4ebd8" stroke="#80d0aa" stroke-width="1.1" stroke-opacity="0.85"/>
<line x1="73.70" y1="63.42" x2="73.70" y2="72.42" stroke="#80d0aa" stroke-width="0.5" stroke-opacity="0.35"/><line x1="70.7" y1="66.42" x2="79.7" y2="66.42" stroke="#80d0aa" stroke-width="0.5" stroke-opacity="0.35"/>
<line x1="76.70" y1="63.42" x2="76.70" y2="72.42" stroke="#80d0aa" stroke-width="0.5" stroke-opacity="0.35"/><line x1="70.7" y1="69.42" x2="79.7" y2="69.42" stroke="#80d0aa" stroke-width="0.5" stroke-opacity="0.35"/>
<text transform="translate(88.90,71.52) scale(1,1.07)" font-size="9.5" text-anchor="start" fill="#1a7a50" stroke="#1a7a50" stroke-width="0.3">Experimental non-porous ST60</text>
<rect x="70.7" y="76.36" width="9.0" height="9.0" fill="#c8dcf8" stroke="#88b0ee" stroke-width="1.1" stroke-opacity="0.85"/>
<line x1="73.70" y1="76.36" x2="73.70" y2="85.36" stroke="#88b0ee" stroke-width="0.5" stroke-opacity="0.35"/><line x1="70.7" y1="79.36" x2="79.7" y2="79.36" stroke="#88b0ee" stroke-width="0.5" stroke-opacity="0.35"/>
<line x1="76.70" y1="76.36" x2="76.70" y2="85.36" stroke="#88b0ee" stroke-width="0.5" stroke-opacity="0.35"/><line x1="70.7" y1="82.36" x2="79.7" y2="82.36" stroke="#88b0ee" stroke-width="0.5" stroke-opacity="0.35"/>
<text transform="translate(88.90,84.46) scale(1,1.07)" font-size="9.5" text-anchor="start" fill="#2a5aa8" stroke="#2a5aa8" stroke-width="0.3">Experimental non-porous ST50</text>
<rect x="70.7" y="89.30" width="9.0" height="9.0" fill="#fcd0d0" stroke="#f6a0a0" stroke-width="1.1" stroke-opacity="0.85"/>
<line x1="73.70" y1="89.30" x2="73.70" y2="98.30" stroke="#f6a0a0" stroke-width="0.5" stroke-opacity="0.35"/><line x1="70.7" y1="92.30" x2="79.7" y2="92.30" stroke="#f6a0a0" stroke-width="0.5" stroke-opacity="0.35"/>
<line x1="76.70" y1="89.30" x2="76.70" y2="98.30" stroke="#f6a0a0" stroke-width="0.5" stroke-opacity="0.35"/><line x1="70.7" y1="95.30" x2="79.7" y2="95.30" stroke="#f6a0a0" stroke-width="0.5" stroke-opacity="0.35"/>
<text transform="translate(88.90,97.40) scale(1,1.07)" font-size="9.5" text-anchor="start" fill="#d82020" stroke="#d82020" stroke-width="0.3">Experimental non-porous ST40</text>
<rect x="70.7" y="102.24" width="9.0" height="9.0" fill="#dcdcdc" stroke="#a8a8a8" stroke-width="1.1" stroke-opacity="0.85"/>
<line x1="73.70" y1="102.24" x2="73.70" y2="111.24" stroke="#a8a8a8" stroke-width="0.5" stroke-opacity="0.35"/><line x1="70.7" y1="105.24" x2="79.7" y2="105.24" stroke="#a8a8a8" stroke-width="0.5" stroke-opacity="0.35"/>
<line x1="76.70" y1="102.24" x2="76.70" y2="111.24" stroke="#a8a8a8" stroke-width="0.5" stroke-opacity="0.35"/><line x1="70.7" y1="108.24" x2="79.7" y2="108.24" stroke="#a8a8a8" stroke-width="0.5" stroke-opacity="0.35"/>
<text transform="translate(88.90,110.34) scale(1,1.07)" font-size="9.5" text-anchor="start" fill="#333333" stroke="#333333" stroke-width="0.3">Experimental non-porous ST30</text>
<line x1="65.6" y1="120.08" x2="71.4" y2="120.08" stroke="#12b8c0" stroke-width="2.6"/><line x1="74.8" y1="120.08" x2="80.5" y2="120.08" stroke="#12b8c0" stroke-width="2.6"/>
<text transform="translate(88.90,123.28) scale(1,1.07)" font-size="9.5" text-anchor="start" fill="#1a9e9e" stroke="#1a9e9e" stroke-width="0.3">Fitted non-porous ST90</text>
<line x1="65.6" y1="133.02" x2="71.4" y2="133.02" stroke="#e09800" stroke-width="2.6"/><line x1="74.8" y1="133.02" x2="80.5" y2="133.02" stroke="#e09800" stroke-width="2.6"/>
<text transform="translate(88.90,136.22) scale(1,1.07)" font-size="9.5" text-anchor="start" fill="#9a7a28" stroke="#9a7a28" stroke-width="0.3">Fitted non-porous ST80</text>
<line x1="65.6" y1="145.96" x2="71.4" y2="145.96" stroke="#bf6fe0" stroke-width="2.6"/><line x1="74.8" y1="145.96" x2="80.5" y2="145.96" stroke="#bf6fe0" stroke-width="2.6"/>
<text transform="translate(88.90,149.16) scale(1,1.07)" font-size="9.5" text-anchor="start" fill="#9a3ec8" stroke="#9a3ec8" stroke-width="0.3">Fitted non-porous ST70</text>
<line x1="65.6" y1="158.90" x2="71.4" y2="158.90" stroke="#12a062" stroke-width="2.6"/><line x1="74.8" y1="158.90" x2="80.5" y2="158.90" stroke="#12a062" stroke-width="2.6"/>
<text transform="translate(88.90,162.10) scale(1,1.07)" font-size="9.5" text-anchor="start" fill="#1a7a50" stroke="#1a7a50" stroke-width="0.3">Fitted non-porous ST60</text>
<line x1="65.6" y1="171.84" x2="71.4" y2="171.84" stroke="#1a62d8" stroke-width="2.6"/><line x1="74.8" y1="171.84" x2="80.5" y2="171.84" stroke="#1a62d8" stroke-width="2.6"/>
<text transform="translate(88.90,175.04) scale(1,1.07)" font-size="9.5" text-anchor="start" fill="#2a5aa8" stroke="#2a5aa8" stroke-width="0.3">Fitted non-porous ST50</text>
<line x1="65.6" y1="184.78" x2="71.4" y2="184.78" stroke="#f03030" stroke-width="2.6"/><line x1="74.8" y1="184.78" x2="80.5" y2="184.78" stroke="#f03030" stroke-width="2.6"/>
<text transform="translate(88.90,187.98) scale(1,1.07)" font-size="9.5" text-anchor="start" fill="#d82020" stroke="#d82020" stroke-width="0.3">Fitted non-porous ST40</text>
<line x1="65.6" y1="197.72" x2="71.4" y2="197.72" stroke="#404040" stroke-width="2.6"/><line x1="74.8" y1="197.72" x2="80.5" y2="197.72" stroke="#404040" stroke-width="2.6"/>
<text transform="translate(88.90,200.92) scale(1,1.07)" font-size="9.5" text-anchor="start" fill="#333333" stroke="#333333" stroke-width="0.3">Fitted non-porous ST30</text>
<defs><linearGradient id="ig" x1="0" y1="0" x2="0" y2="1"><stop offset="0" stop-color="#fefefe"/><stop offset="1" stop-color="#e6e6e6"/></linearGradient></defs>
<rect x="251.7" y="54.0" width="255.90" height="210.0" fill="url(#ig)"/>
<g clip-path="url(#iclip)">
<line x1="260.23" y1="54.0" x2="260.23" y2="264.0" stroke="#e6e6e6" stroke-width="0.7"/><line x1="268.76" y1="54.0" x2="268.76" y2="264.0" stroke="#e6e6e6" stroke-width="0.7"/><line x1="277.29" y1="54.0" x2="277.29" y2="264.0" stroke="#e6e6e6" stroke-width="0.7"/><line x1="285.82" y1="54.0" x2="285.82" y2="264.0" stroke="#e6e6e6" stroke-width="0.7"/><line x1="302.88" y1="54.0" x2="302.88" y2="264.0" stroke="#e6e6e6" stroke-width="0.7"/><line x1="311.41" y1="54.0" x2="311.41" y2="264.0" stroke="#e6e6e6" stroke-width="0.7"/><line x1="319.94" y1="54.0" x2="319.94" y2="264.0" stroke="#e6e6e6" stroke-width="0.7"/><line x1="328.47" y1="54.0" x2="328.47" y2="264.0" stroke="#e6e6e6" stroke-width="0.7"/><line x1="345.53" y1="54.0" x2="345.53" y2="264.0" stroke="#e6e6e6" stroke-width="0.7"/><line x1="354.06" y1="54.0" x2="354.06" y2="264.0" stroke="#e6e6e6" stroke-width="0.7"/><line x1="362.59" y1="54.0" x2="362.59" y2="264.0" stroke="#e6e6e6" stroke-width="0.7"/><line x1="371.12" y1="54.0" x2="371.12" y2="264.0" stroke="#e6e6e6" stroke-width="0.7"/><line x1="388.18" y1="54.0" x2="388.18" y2="264.0" stroke="#e6e6e6" stroke-width="0.7"/><line x1="396.71" y1="54.0" x2="396.71" y2="264.0" stroke="#e6e6e6" stroke-width="0.7"/><line x1="405.24" y1="54.0" x2="405.24" y2="264.0" stroke="#e6e6e6" stroke-width="0.7"/><line x1="413.77" y1="54.0" x2="413.77" y2="264.0" stroke="#e6e6e6" stroke-width="0.7"/><line x1="430.83" y1="54.0" x2="430.83" y2="264.0" stroke="#e6e6e6" stroke-width="0.7"/><line x1="439.36" y1="54.0" x2="439.36" y2="264.0" stroke="#e6e6e6" stroke-width="0.7"/><line x1="447.89" y1="54.0" x2="447.89" y2="264.0" stroke="#e6e6e6" stroke-width="0.7"/><line x1="456.42" y1="54.0" x2="456.42" y2="264.0" stroke="#e6e6e6" stroke-width="0.7"/><line x1="473.48" y1="54.0" x2="473.48" y2="264.0" stroke="#e6e6e6" stroke-width="0.7"/><line x1="482.01" y1="54.0" x2="482.01" y2="264.0" stroke="#e6e6e6" stroke-width="0.7"/><line x1="490.54" y1="54.0" x2="490.54" y2="264.0" stroke="#e6e6e6" stroke-width="0.7"/><line x1="499.07" y1="54.0" x2="499.07" y2="264.0" stroke="#e6e6e6" stroke-width="0.7"/><line x1="251.7" y1="260.95" x2="507.59999999999997" y2="260.95" stroke="#e6e6e6" stroke-width="0.7"/><line x1="251.7" y1="233.93" x2="507.59999999999997" y2="233.93" stroke="#e6e6e6" stroke-width="0.7"/><line x1="251.7" y1="222.61" x2="507.59999999999997" y2="222.61" stroke="#e6e6e6" stroke-width="0.7"/><line x1="251.7" y1="212.36" x2="507.59999999999997" y2="212.36" stroke="#e6e6e6" stroke-width="0.7"/><line x1="251.7" y1="203.01" x2="507.59999999999997" y2="203.01" stroke="#e6e6e6" stroke-width="0.7"/><line x1="251.7" y1="194.41" x2="507.59999999999997" y2="194.41" stroke="#e6e6e6" stroke-width="0.7"/><line x1="251.7" y1="186.44" x2="507.59999999999997" y2="186.44" stroke="#e6e6e6" stroke-width="0.7"/><line x1="251.7" y1="179.02" x2="507.59999999999997" y2="179.02" stroke="#e6e6e6" stroke-width="0.7"/><line x1="251.7" y1="165.57" x2="507.59999999999997" y2="165.57" stroke="#e6e6e6" stroke-width="0.7"/><line x1="251.7" y1="159.43" x2="507.59999999999997" y2="159.43" stroke="#e6e6e6" stroke-width="0.7"/><line x1="251.7" y1="153.62" x2="507.59999999999997" y2="153.62" stroke="#e6e6e6" stroke-width="0.7"/><line x1="251.7" y1="148.10" x2="507.59999999999997" y2="148.10" stroke="#e6e6e6" stroke-width="0.7"/><line x1="251.7" y1="142.86" x2="507.59999999999997" y2="142.86" stroke="#e6e6e6" stroke-width="0.7"/><line x1="251.7" y1="137.86" x2="507.59999999999997" y2="137.86" stroke="#e6e6e6" stroke-width="0.7"/><line x1="251.7" y1="133.08" x2="507.59999999999997" y2="133.08" stroke="#e6e6e6" stroke-width="0.7"/><line x1="251.7" y1="124.12" x2="507.59999999999997" y2="124.12" stroke="#e6e6e6" stroke-width="0.7"/><line x1="251.7" y1="119.90" x2="507.59999999999997" y2="119.90" stroke="#e6e6e6" stroke-width="0.7"/><line x1="251.7" y1="115.84" x2="507.59999999999997" y2="115.84" stroke="#e6e6e6" stroke-width="0.7"/><line x1="251.7" y1="111.94" x2="507.59999999999997" y2="111.94" stroke="#e6e6e6" stroke-width="0.7"/><line x1="251.7" y1="108.16" x2="507.59999999999997" y2="108.16" stroke="#e6e6e6" stroke-width="0.7"/><line x1="251.7" y1="104.52" x2="507.59999999999997" y2="104.52" stroke="#e6e6e6" stroke-width="0.7"/><line x1="251.7" y1="101.00" x2="507.59999999999997" y2="101.00" stroke="#e6e6e6" stroke-width="0.7"/><line x1="251.7" y1="94.28" x2="507.59999999999997" y2="94.28" stroke="#e6e6e6" stroke-width="0.7"/><line x1="251.7" y1="91.07" x2="507.59999999999997" y2="91.07" stroke="#e6e6e6" stroke-width="0.7"/><line x1="251.7" y1="87.95" x2="507.59999999999997" y2="87.95" stroke="#e6e6e6" stroke-width="0.7"/><line x1="251.7" y1="84.92" x2="507.59999999999997" y2="84.92" stroke="#e6e6e6" stroke-width="0.7"/><line x1="251.7" y1="81.98" x2="507.59999999999997" y2="81.98" stroke="#e6e6e6" stroke-width="0.7"/><line x1="251.7" y1="79.11" x2="507.59999999999997" y2="79.11" stroke="#e6e6e6" stroke-width="0.7"/><line x1="251.7" y1="76.32" x2="507.59999999999997" y2="76.32" stroke="#e6e6e6" stroke-width="0.7"/><line x1="251.7" y1="70.94" x2="507.59999999999997" y2="70.94" stroke="#e6e6e6" stroke-width="0.7"/><line x1="251.7" y1="68.35" x2="507.59999999999997" y2="68.35" stroke="#e6e6e6" stroke-width="0.7"/><line x1="251.7" y1="65.82" x2="507.59999999999997" y2="65.82" stroke="#e6e6e6" stroke-width="0.7"/><line x1="251.7" y1="63.35" x2="507.59999999999997" y2="63.35" stroke="#e6e6e6" stroke-width="0.7"/><line x1="251.7" y1="60.94" x2="507.59999999999997" y2="60.94" stroke="#e6e6e6" stroke-width="0.7"/><line x1="251.7" y1="58.57" x2="507.59999999999997" y2="58.57" stroke="#e6e6e6" stroke-width="0.7"/><line x1="251.7" y1="56.26" x2="507.59999999999997" y2="56.26" stroke="#e6e6e6" stroke-width="0.7"/><line x1="294.35" y1="54.0" x2="294.35" y2="264.0" stroke="#c8c8c8" stroke-width="0.9" stroke-dasharray="2.5,2.5"/><line x1="337.00" y1="54.0" x2="337.00" y2="264.0" stroke="#c8c8c8" stroke-width="0.9" stroke-dasharray="2.5,2.5"/><line x1="379.65" y1="54.0" x2="379.65" y2="264.0" stroke="#c8c8c8" stroke-width="0.9" stroke-dasharray="2.5,2.5"/><line x1="422.30" y1="54.0" x2="422.30" y2="264.0" stroke="#c8c8c8" stroke-width="0.9" stroke-dasharray="2.5,2.5"/><line x1="464.95" y1="54.0" x2="464.95" y2="264.0" stroke="#c8c8c8" stroke-width="0.9" stroke-dasharray="2.5,2.5"/><line x1="251.7" y1="246.59" x2="507.59999999999997" y2="246.59" stroke="#c8c8c8" stroke-width="0.9" stroke-dasharray="2.5,2.5"/><line x1="251.7" y1="172.09" x2="507.59999999999997" y2="172.09" stroke="#c8c8c8" stroke-width="0.9" stroke-dasharray="2.5,2.5"/><line x1="251.7" y1="128.50" x2="507.59999999999997" y2="128.50" stroke="#c8c8c8" stroke-width="0.9" stroke-dasharray="2.5,2.5"/><line x1="251.7" y1="97.58" x2="507.59999999999997" y2="97.58" stroke="#c8c8c8" stroke-width="0.9" stroke-dasharray="2.5,2.5"/><line x1="251.7" y1="73.60" x2="507.59999999999997" y2="73.60" stroke="#c8c8c8" stroke-width="0.9" stroke-dasharray="2.5,2.5"/>
<polygon points="250.3,146.4 252.0,147.7 253.7,149.0 255.3,150.3 257.0,151.5 258.7,152.8 260.3,154.0 262.0,155.3 263.6,156.5 265.3,157.7 267.0,158.8 268.6,160.0 270.3,161.2 272.0,162.3 273.6,163.4 275.3,164.5 276.9,165.6 278.6,166.7 280.3,167.8 281.9,168.9 283.6,169.9 285.3,171.0 286.9,172.0 288.6,173.1 290.2,174.1 291.9,175.1 293.6,176.1 295.2,177.1 296.9,178.0 298.6,179.0 300.2,180.0 301.9,180.9 303.6,181.8 305.2,182.8 306.9,183.7 308.5,184.6 310.2,185.5 311.9,186.4 313.5,187.3 315.2,188.2 316.9,189.1 318.5,189.9 320.2,190.8 321.8,191.7 323.5,192.5 325.2,193.3 326.8,194.2 328.5,195.0 330.2,195.8 331.8,196.6 333.5,197.4 335.2,198.2 336.8,199.0 338.5,199.8 340.1,200.6 341.8,201.4 343.5,202.1 345.1,202.9 346.8,203.6 348.5,204.4 350.1,205.1 351.8,205.9 353.4,206.6 355.1,207.3 356.8,208.1 358.4,208.8 360.1,209.5 361.8,210.2 363.4,210.9 365.1,211.6 366.8,212.3 368.4,213.0 370.1,213.7 371.7,214.4 373.4,215.0 375.1,215.7 376.7,216.4 378.4,217.0 380.1,217.7 381.7,218.3 383.4,219.0 385.0,219.6 386.7,220.2 388.4,220.7 390.0,221.3 391.7,221.9 393.4,222.5 395.0,223.1 396.7,223.6 398.3,224.2 400.0,224.8 401.7,225.3 403.3,225.9 405.0,226.4 406.7,227.0 408.3,227.5 410.0,228.1 411.7,228.6 413.3,229.2 415.0,229.7 416.6,230.2 418.3,230.7 420.0,231.3 421.6,231.8 423.3,232.3 425.0,232.8 426.6,233.3 428.3,233.8 429.9,234.3 431.6,234.8 433.3,235.3 434.9,235.8 436.6,236.3 438.3,236.8 439.9,237.3 441.6,237.8 443.3,238.3 444.9,238.7 446.6,239.2 448.2,239.7 449.9,240.2 451.6,240.6 453.2,241.1 454.9,241.5 456.6,242.0 458.2,242.5 459.9,242.9 461.5,243.4 463.2,243.8 464.9,244.3 466.5,244.7 468.2,245.2 469.9,245.6 471.5,246.0 473.2,246.5 474.9,246.9 476.5,247.3 478.2,247.8 479.8,248.2 481.5,248.6 483.2,249.0 484.8,249.5 486.5,249.9 488.2,250.3 489.8,250.7 491.5,251.1 493.1,251.5 494.8,251.9 496.5,252.3 498.1,252.7 499.8,253.1 501.5,253.5 503.1,253.9 504.8,254.3 506.4,254.7 508.1,255.1 509.8,255.5 511.4,255.9 513.1,256.3 514.8,256.8 509.0,262.6 507.3,262.1 505.6,261.7 504.0,261.3 502.3,260.9 500.6,260.5 499.0,260.1 497.3,259.7 495.7,259.3 494.0,258.9 492.3,258.5 490.7,258.1 489.0,257.7 487.3,257.3 485.7,256.9 484.0,256.5 482.4,256.1 480.7,255.7 479.0,255.3 477.4,254.8 475.7,254.4 474.0,254.0 472.4,253.6 470.7,253.1 469.1,252.7 467.4,252.3 465.7,251.8 464.1,251.4 462.4,251.0 460.7,250.5 459.1,250.1 457.4,249.6 455.7,249.2 454.1,248.7 452.4,248.3 450.8,247.8 449.1,247.3 447.4,246.9 445.8,246.4 444.1,246.0 442.4,245.5 440.8,245.0 439.1,244.5 437.5,244.1 435.8,243.6 434.1,243.1 432.5,242.6 430.8,242.1 429.1,241.6 427.5,241.1 425.8,240.6 424.1,240.1 422.5,239.6 420.8,239.1 419.2,238.6 417.5,238.1 415.8,237.6 414.2,237.1 412.5,236.5 410.8,236.0 409.2,235.5 407.5,235.0 405.9,234.4 404.2,233.9 402.5,233.3 400.9,232.8 399.2,232.2 397.5,231.7 395.9,231.1 394.2,230.6 392.5,230.0 390.9,229.4 389.2,228.9 387.6,228.3 385.9,227.7 384.2,227.1 382.6,226.5 380.9,226.0 379.2,225.4 377.6,224.8 375.9,224.1 374.3,223.5 372.6,222.8 370.9,222.2 369.3,221.5 367.6,220.8 365.9,220.2 364.3,219.5 362.6,218.8 361.0,218.1 359.3,217.4 357.6,216.7 356.0,216.0 354.3,215.3 352.6,214.6 351.0,213.9 349.3,213.1 347.6,212.4 346.0,211.7 344.3,210.9 342.7,210.2 341.0,209.4 339.3,208.7 337.7,207.9 336.0,207.2 334.3,206.4 332.7,205.6 331.0,204.8 329.4,204.0 327.7,203.2 326.0,202.4 324.4,201.6 322.7,200.8 321.0,200.0 319.4,199.1 317.7,198.3 316.0,197.5 314.4,196.6 312.7,195.7 311.1,194.9 309.4,194.0 307.7,193.1 306.1,192.2 304.4,191.3 302.7,190.4 301.1,189.5 299.4,188.6 297.8,187.6 296.1,186.7 294.4,185.8 292.8,184.8 291.1,183.8 289.4,182.9 287.8,181.9 286.1,180.9 284.4,179.9 282.8,178.9 281.1,177.8 279.5,176.8 277.8,175.7 276.1,174.7 274.5,173.6 272.8,172.5 271.1,171.4 269.5,170.3 267.8,169.2 266.2,168.1 264.5,167.0 262.8,165.8 261.2,164.6 259.5,163.5 257.8,162.3 256.2,161.1 254.5,159.8 252.9,158.6 251.2,157.3 249.5,156.1 247.9,154.8 246.2,153.5 244.5,152.2" fill="#d3d3d3" stroke="#8c8c8c" stroke-width="1.6"/>
<polygon points="250.3,139.2 252.0,140.5 253.7,141.8 255.3,143.1 257.0,144.4 258.7,145.6 260.3,146.8 262.0,148.1 263.6,149.3 265.3,150.5 267.0,151.6 268.6,152.8 270.3,153.9 272.0,155.1 273.6,156.2 275.3,157.3 276.9,158.4 278.6,159.5 280.3,160.6 281.9,161.6 283.6,162.7 285.3,163.7 286.9,164.7 288.6,165.7 290.2,166.8 291.9,167.8 293.6,168.7 295.2,169.7 296.9,170.7 298.6,171.6 300.2,172.6 301.9,173.5 303.6,174.5 305.2,175.4 306.9,176.3 308.5,177.2 310.2,178.1 311.9,179.0 313.5,179.9 315.2,180.8 316.9,181.6 318.5,182.5 320.2,183.3 321.8,184.2 323.5,185.0 325.2,185.8 326.8,186.7 328.5,187.5 330.2,188.3 331.8,189.1 333.5,189.9 335.2,190.7 336.8,191.5 338.5,192.2 340.1,193.0 341.8,193.8 343.5,194.5 345.1,195.3 346.8,196.0 348.5,196.8 350.1,197.5 351.8,198.2 353.4,199.0 355.1,199.7 356.8,200.4 358.4,201.1 360.1,201.8 361.8,202.5 363.4,203.2 365.1,203.9 366.8,204.6 368.4,205.3 370.1,205.9 371.7,206.6 373.4,207.3 375.1,207.9 376.7,208.6 378.4,209.2 380.1,209.9 381.7,210.5 383.4,211.1 385.0,211.7 386.7,212.3 388.4,212.9 390.0,213.5 391.7,214.0 393.4,214.6 395.0,215.2 396.7,215.7 398.3,216.3 400.0,216.8 401.7,217.4 403.3,217.9 405.0,218.5 406.7,219.0 408.3,219.5 410.0,220.1 411.7,220.6 413.3,221.1 415.0,221.6 416.6,222.2 418.3,222.7 420.0,223.2 421.6,223.7 423.3,224.2 425.0,224.7 426.6,225.2 428.3,225.7 429.9,226.2 431.6,226.7 433.3,227.1 434.9,227.6 436.6,228.1 438.3,228.6 439.9,229.1 441.6,229.5 443.3,230.0 444.9,230.5 446.6,230.9 448.2,231.4 449.9,231.9 451.6,232.3 453.2,232.8 454.9,233.2 456.6,233.7 458.2,234.1 459.9,234.5 461.5,235.0 463.2,235.4 464.9,235.9 466.5,236.3 468.2,236.7 469.9,237.1 471.5,237.6 473.2,238.0 474.9,238.4 476.5,238.8 478.2,239.3 479.8,239.7 481.5,240.1 483.2,240.5 484.8,240.9 486.5,241.3 488.2,241.7 489.8,242.1 491.5,242.5 493.1,242.9 494.8,243.3 496.5,243.7 498.1,244.1 499.8,244.5 501.5,244.9 503.1,245.2 504.8,245.6 506.4,246.0 508.1,246.4 509.8,246.8 511.4,247.2 513.1,247.6 514.8,248.0 509.0,253.8 507.3,253.4 505.6,253.0 504.0,252.6 502.3,252.2 500.6,251.8 499.0,251.4 497.3,251.0 495.7,250.7 494.0,250.3 492.3,249.9 490.7,249.5 489.0,249.1 487.3,248.7 485.7,248.3 484.0,247.9 482.4,247.5 480.7,247.1 479.0,246.7 477.4,246.3 475.7,245.9 474.0,245.5 472.4,245.1 470.7,244.6 469.1,244.2 467.4,243.8 465.7,243.4 464.1,242.9 462.4,242.5 460.7,242.1 459.1,241.7 457.4,241.2 455.7,240.8 454.1,240.3 452.4,239.9 450.8,239.5 449.1,239.0 447.4,238.6 445.8,238.1 444.1,237.7 442.4,237.2 440.8,236.7 439.1,236.3 437.5,235.8 435.8,235.3 434.1,234.9 432.5,234.4 430.8,233.9 429.1,233.4 427.5,232.9 425.8,232.5 424.1,232.0 422.5,231.5 420.8,231.0 419.2,230.5 417.5,230.0 415.8,229.5 414.2,229.0 412.5,228.5 410.8,228.0 409.2,227.4 407.5,226.9 405.9,226.4 404.2,225.9 402.5,225.3 400.9,224.8 399.2,224.3 397.5,223.7 395.9,223.2 394.2,222.6 392.5,222.1 390.9,221.5 389.2,221.0 387.6,220.4 385.9,219.8 384.2,219.3 382.6,218.7 380.9,218.1 379.2,217.5 377.6,216.9 375.9,216.3 374.3,215.7 372.6,215.0 370.9,214.4 369.3,213.7 367.6,213.1 365.9,212.4 364.3,211.7 362.6,211.1 361.0,210.4 359.3,209.7 357.6,209.0 356.0,208.3 354.3,207.6 352.6,206.9 351.0,206.2 349.3,205.5 347.6,204.8 346.0,204.0 344.3,203.3 342.7,202.6 341.0,201.8 339.3,201.1 337.7,200.3 336.0,199.6 334.3,198.8 332.7,198.0 331.0,197.3 329.4,196.5 327.7,195.7 326.0,194.9 324.4,194.1 322.7,193.3 321.0,192.5 319.4,191.6 317.7,190.8 316.0,190.0 314.4,189.1 312.7,188.3 311.1,187.4 309.4,186.6 307.7,185.7 306.1,184.8 304.4,183.9 302.7,183.0 301.1,182.1 299.4,181.2 297.8,180.3 296.1,179.3 294.4,178.4 292.8,177.4 291.1,176.5 289.4,175.5 287.8,174.5 286.1,173.6 284.4,172.6 282.8,171.5 281.1,170.5 279.5,169.5 277.8,168.5 276.1,167.4 274.5,166.4 272.8,165.3 271.1,164.2 269.5,163.1 267.8,162.0 266.2,160.9 264.5,159.7 262.8,158.6 261.2,157.4 259.5,156.3 257.8,155.1 256.2,153.9 254.5,152.6 252.9,151.4 251.2,150.2 249.5,148.9 247.9,147.6 246.2,146.3 244.5,145.0" fill="#fcc6c6" stroke="#f46a6a" stroke-width="1.6"/>
<polygon points="250.3,129.6 252.0,130.9 253.7,132.2 255.3,133.5 257.0,134.7 258.7,136.0 260.3,137.2 262.0,138.4 263.6,139.6 265.3,140.8 267.0,142.0 268.6,143.1 270.3,144.3 272.0,145.4 273.6,146.5 275.3,147.7 276.9,148.7 278.6,149.8 280.3,150.9 281.9,152.0 283.6,153.0 285.3,154.1 286.9,155.1 288.6,156.1 290.2,157.1 291.9,158.1 293.6,159.1 295.2,160.1 296.9,161.0 298.6,162.0 300.2,163.0 301.9,163.9 303.6,164.8 305.2,165.8 306.9,166.7 308.5,167.6 310.2,168.5 311.9,169.4 313.5,170.3 315.2,171.1 316.9,172.0 318.5,172.9 320.2,173.7 321.8,174.6 323.5,175.4 325.2,176.2 326.8,177.1 328.5,177.9 330.2,178.7 331.8,179.5 333.5,180.3 335.2,181.1 336.8,181.9 338.5,182.7 340.1,183.4 341.8,184.2 343.5,185.0 345.1,185.7 346.8,186.5 348.5,187.2 350.1,188.0 351.8,188.7 353.4,189.4 355.1,190.1 356.8,190.9 358.4,191.6 360.1,192.3 361.8,193.0 363.4,193.7 365.1,194.4 366.8,195.1 368.4,195.8 370.1,196.4 371.7,197.1 373.4,197.8 375.1,198.4 376.7,199.1 378.4,199.8 380.1,200.4 381.7,201.1 383.4,201.7 385.0,202.3 386.7,202.8 388.4,203.4 390.0,204.0 391.7,204.6 393.4,205.1 395.0,205.7 396.7,206.2 398.3,206.8 400.0,207.3 401.7,207.9 403.3,208.4 405.0,208.9 406.7,209.5 408.3,210.0 410.0,210.5 411.7,211.1 413.3,211.6 415.0,212.1 416.6,212.6 418.3,213.1 420.0,213.6 421.6,214.1 423.3,214.6 425.0,215.1 426.6,215.6 428.3,216.1 429.9,216.6 431.6,217.1 433.3,217.6 434.9,218.0 436.6,218.5 438.3,219.0 439.9,219.5 441.6,219.9 443.3,220.4 444.9,220.9 446.6,221.3 448.2,221.8 449.9,222.2 451.6,222.7 453.2,223.1 454.9,223.6 456.6,224.0 458.2,224.5 459.9,224.9 461.5,225.3 463.2,225.8 464.9,226.2 466.5,226.6 468.2,227.1 469.9,227.5 471.5,227.9 473.2,228.3 474.9,228.7 476.5,229.2 478.2,229.6 479.8,230.0 481.5,230.4 483.2,230.8 484.8,231.2 486.5,231.6 488.2,232.0 489.8,232.4 491.5,232.8 493.1,233.2 494.8,233.6 496.5,234.0 498.1,234.4 499.8,234.8 501.5,235.1 503.1,235.5 504.8,235.9 506.4,236.3 508.1,236.7 509.8,237.0 511.4,237.4 513.1,237.9 514.8,238.3 509.0,244.1 507.3,243.7 505.6,243.2 504.0,242.8 502.3,242.5 500.6,242.1 499.0,241.7 497.3,241.3 495.7,240.9 494.0,240.6 492.3,240.2 490.7,239.8 489.0,239.4 487.3,239.0 485.7,238.6 484.0,238.2 482.4,237.8 480.7,237.4 479.0,237.0 477.4,236.6 475.7,236.2 474.0,235.8 472.4,235.4 470.7,235.0 469.1,234.5 467.4,234.1 465.7,233.7 464.1,233.3 462.4,232.9 460.7,232.4 459.1,232.0 457.4,231.6 455.7,231.1 454.1,230.7 452.4,230.3 450.8,229.8 449.1,229.4 447.4,228.9 445.8,228.5 444.1,228.0 442.4,227.6 440.8,227.1 439.1,226.7 437.5,226.2 435.8,225.7 434.1,225.3 432.5,224.8 430.8,224.3 429.1,223.8 427.5,223.4 425.8,222.9 424.1,222.4 422.5,221.9 420.8,221.4 419.2,220.9 417.5,220.4 415.8,219.9 414.2,219.4 412.5,218.9 410.8,218.4 409.2,217.9 407.5,217.4 405.9,216.9 404.2,216.3 402.5,215.8 400.9,215.3 399.2,214.7 397.5,214.2 395.9,213.7 394.2,213.1 392.5,212.6 390.9,212.0 389.2,211.5 387.6,210.9 385.9,210.4 384.2,209.8 382.6,209.2 380.9,208.6 379.2,208.1 377.6,207.5 375.9,206.9 374.3,206.2 372.6,205.6 370.9,204.9 369.3,204.2 367.6,203.6 365.9,202.9 364.3,202.2 362.6,201.6 361.0,200.9 359.3,200.2 357.6,199.5 356.0,198.8 354.3,198.1 352.6,197.4 351.0,196.7 349.3,195.9 347.6,195.2 346.0,194.5 344.3,193.8 342.7,193.0 341.0,192.3 339.3,191.5 337.7,190.8 336.0,190.0 334.3,189.2 332.7,188.5 331.0,187.7 329.4,186.9 327.7,186.1 326.0,185.3 324.4,184.5 322.7,183.7 321.0,182.9 319.4,182.0 317.7,181.2 316.0,180.4 314.4,179.5 312.7,178.7 311.1,177.8 309.4,176.9 307.7,176.1 306.1,175.2 304.4,174.3 302.7,173.4 301.1,172.5 299.4,171.6 297.8,170.6 296.1,169.7 294.4,168.8 292.8,167.8 291.1,166.8 289.4,165.9 287.8,164.9 286.1,163.9 284.4,162.9 282.8,161.9 281.1,160.9 279.5,159.9 277.8,158.8 276.1,157.8 274.5,156.7 272.8,155.6 271.1,154.5 269.5,153.5 267.8,152.3 266.2,151.2 264.5,150.1 262.8,148.9 261.2,147.8 259.5,146.6 257.8,145.4 256.2,144.2 254.5,143.0 252.9,141.8 251.2,140.5 249.5,139.3 247.9,138.0 246.2,136.7 244.5,135.4" fill="#c2d9f9" stroke="#7aaaf0" stroke-width="1.6"/>
<polygon points="250.3,124.1 252.0,125.4 253.7,126.7 255.3,128.0 257.0,129.3 258.7,130.6 260.3,131.8 262.0,133.1 263.6,134.3 265.3,135.5 267.0,136.7 268.6,137.9 270.3,139.0 272.0,140.2 273.6,141.3 275.3,142.4 276.9,143.5 278.6,144.6 280.3,145.7 281.9,146.8 283.6,147.9 285.3,148.9 286.9,150.0 288.6,151.0 290.2,152.1 291.9,153.1 293.6,154.1 295.2,155.1 296.9,156.1 298.6,157.0 300.2,158.0 301.9,159.0 303.6,159.9 305.2,160.9 306.9,161.8 308.5,162.7 310.2,163.6 311.9,164.5 313.5,165.4 315.2,166.3 316.9,167.2 318.5,168.1 320.2,169.0 321.8,169.8 323.5,170.7 325.2,171.5 326.8,172.4 328.5,173.2 330.2,174.0 331.8,174.9 333.5,175.7 335.2,176.5 336.8,177.3 338.5,178.1 340.1,178.9 341.8,179.6 343.5,180.4 345.1,181.2 346.8,182.0 348.5,182.7 350.1,183.5 351.8,184.2 353.4,185.0 355.1,185.7 356.8,186.5 358.4,187.2 360.1,187.9 361.8,188.6 363.4,189.3 365.1,190.0 366.8,190.8 368.4,191.5 370.1,192.1 371.7,192.8 373.4,193.5 375.1,194.2 376.7,194.9 378.4,195.6 380.1,196.2 381.7,196.9 383.4,197.5 385.0,198.1 386.7,198.6 388.4,199.2 390.0,199.7 391.7,200.3 393.4,200.8 395.0,201.4 396.7,201.9 398.3,202.4 400.0,203.0 401.7,203.5 403.3,204.0 405.0,204.5 406.7,205.1 408.3,205.6 410.0,206.1 411.7,206.6 413.3,207.1 415.0,207.6 416.6,208.1 418.3,208.6 420.0,209.1 421.6,209.6 423.3,210.0 425.0,210.5 426.6,211.0 428.3,211.5 429.9,211.9 431.6,212.4 433.3,212.9 434.9,213.3 436.6,213.8 438.3,214.2 439.9,214.7 441.6,215.1 443.3,215.6 444.9,216.0 446.6,216.5 448.2,216.9 449.9,217.4 451.6,217.8 453.2,218.2 454.9,218.7 456.6,219.1 458.2,219.5 459.9,219.9 461.5,220.3 463.2,220.8 464.9,221.2 466.5,221.6 468.2,222.0 469.9,222.4 471.5,222.8 473.2,223.2 474.9,223.6 476.5,224.0 478.2,224.4 479.8,224.8 481.5,225.2 483.2,225.6 484.8,226.0 486.5,226.4 488.2,226.7 489.8,227.1 491.5,227.5 493.1,227.9 494.8,228.2 496.5,228.6 498.1,229.0 499.8,229.4 501.5,229.7 503.1,230.1 504.8,230.5 506.4,230.8 508.1,231.2 509.8,231.5 511.4,231.9 513.1,232.4 514.8,232.8 509.0,238.6 507.3,238.2 505.6,237.7 504.0,237.3 502.3,237.0 500.6,236.6 499.0,236.3 497.3,235.9 495.7,235.5 494.0,235.2 492.3,234.8 490.7,234.4 489.0,234.0 487.3,233.7 485.7,233.3 484.0,232.9 482.4,232.5 480.7,232.2 479.0,231.8 477.4,231.4 475.7,231.0 474.0,230.6 472.4,230.2 470.7,229.8 469.1,229.4 467.4,229.0 465.7,228.6 464.1,228.2 462.4,227.8 460.7,227.4 459.1,227.0 457.4,226.6 455.7,226.1 454.1,225.7 452.4,225.3 450.8,224.9 449.1,224.5 447.4,224.0 445.8,223.6 444.1,223.2 442.4,222.7 440.8,222.3 439.1,221.8 437.5,221.4 435.8,220.9 434.1,220.5 432.5,220.0 430.8,219.6 429.1,219.1 427.5,218.7 425.8,218.2 424.1,217.7 422.5,217.3 420.8,216.8 419.2,216.3 417.5,215.8 415.8,215.4 414.2,214.9 412.5,214.4 410.8,213.9 409.2,213.4 407.5,212.9 405.9,212.4 404.2,211.9 402.5,211.4 400.9,210.9 399.2,210.3 397.5,209.8 395.9,209.3 394.2,208.8 392.5,208.2 390.9,207.7 389.2,207.2 387.6,206.6 385.9,206.1 384.2,205.5 382.6,205.0 380.9,204.4 379.2,203.9 377.6,203.3 375.9,202.7 374.3,202.0 372.6,201.4 370.9,200.7 369.3,200.0 367.6,199.3 365.9,198.6 364.3,197.9 362.6,197.3 361.0,196.6 359.3,195.8 357.6,195.1 356.0,194.4 354.3,193.7 352.6,193.0 351.0,192.3 349.3,191.5 347.6,190.8 346.0,190.0 344.3,189.3 342.7,188.5 341.0,187.8 339.3,187.0 337.7,186.2 336.0,185.4 334.3,184.7 332.7,183.9 331.0,183.1 329.4,182.3 327.7,181.5 326.0,180.7 324.4,179.8 322.7,179.0 321.0,178.2 319.4,177.3 317.7,176.5 316.0,175.6 314.4,174.8 312.7,173.9 311.1,173.0 309.4,172.1 307.7,171.2 306.1,170.3 304.4,169.4 302.7,168.5 301.1,167.6 299.4,166.7 297.8,165.7 296.1,164.8 294.4,163.8 292.8,162.8 291.1,161.9 289.4,160.9 287.8,159.9 286.1,158.9 284.4,157.9 282.8,156.8 281.1,155.8 279.5,154.7 277.8,153.7 276.1,152.6 274.5,151.5 272.8,150.4 271.1,149.3 269.5,148.2 267.8,147.1 266.2,146.0 264.5,144.8 262.8,143.7 261.2,142.5 259.5,141.3 257.8,140.1 256.2,138.9 254.5,137.6 252.9,136.4 251.2,135.1 249.5,133.8 247.9,132.5 246.2,131.2 244.5,129.9" fill="#bbead4" stroke="#2ec088" stroke-width="1.6"/>
<polygon points="250.3,106.4 252.0,107.7 253.7,108.9 255.3,110.2 257.0,111.4 258.7,112.6 260.3,113.8 262.0,115.0 263.6,116.1 265.3,117.3 267.0,118.4 268.6,119.5 270.3,120.7 272.0,121.8 273.6,122.8 275.3,123.9 276.9,125.0 278.6,126.0 280.3,127.1 281.9,128.1 283.6,129.1 285.3,130.1 286.9,131.1 288.6,132.1 290.2,133.1 291.9,134.1 293.6,135.0 295.2,136.0 296.9,136.9 298.6,137.8 300.2,138.7 301.9,139.7 303.6,140.6 305.2,141.5 306.9,142.3 308.5,143.2 310.2,144.1 311.9,144.9 313.5,145.8 315.2,146.6 316.9,147.5 318.5,148.3 320.2,149.1 321.8,150.0 323.5,150.8 325.2,151.6 326.8,152.4 328.5,153.2 330.2,153.9 331.8,154.7 333.5,155.5 335.2,156.3 336.8,157.0 338.5,157.8 340.1,158.5 341.8,159.3 343.5,160.0 345.1,160.7 346.8,161.4 348.5,162.2 350.1,162.9 351.8,163.6 353.4,164.3 355.1,165.0 356.8,165.7 358.4,166.4 360.1,167.0 361.8,167.7 363.4,168.4 365.1,169.1 366.8,169.7 368.4,170.4 370.1,171.0 371.7,171.7 373.4,172.3 375.1,173.0 376.7,173.6 378.4,174.3 380.1,174.9 381.7,175.5 383.4,176.1 385.0,176.7 386.7,177.2 388.4,177.8 390.0,178.3 391.7,178.8 393.4,179.4 395.0,179.9 396.7,180.5 398.3,181.0 400.0,181.5 401.7,182.0 403.3,182.5 405.0,183.1 406.7,183.6 408.3,184.1 410.0,184.6 411.7,185.1 413.3,185.6 415.0,186.1 416.6,186.6 418.3,187.0 420.0,187.5 421.6,188.0 423.3,188.5 425.0,189.0 426.6,189.4 428.3,189.9 429.9,190.4 431.6,190.8 433.3,191.3 434.9,191.8 436.6,192.2 438.3,192.7 439.9,193.1 441.6,193.6 443.3,194.0 444.9,194.4 446.6,194.9 448.2,195.3 449.9,195.8 451.6,196.2 453.2,196.6 454.9,197.0 456.6,197.5 458.2,197.9 459.9,198.3 461.5,198.7 463.2,199.1 464.9,199.5 466.5,200.0 468.2,200.4 469.9,200.8 471.5,201.2 473.2,201.6 474.9,202.0 476.5,202.4 478.2,202.8 479.8,203.2 481.5,203.5 483.2,203.9 484.8,204.3 486.5,204.7 488.2,205.1 489.8,205.5 491.5,205.8 493.1,206.2 494.8,206.6 496.5,207.0 498.1,207.3 499.8,207.7 501.5,208.1 503.1,208.4 504.8,208.8 506.4,209.1 508.1,209.5 509.8,209.9 511.4,210.2 513.1,210.7 514.8,211.1 509.0,216.9 507.3,216.5 505.6,216.0 504.0,215.7 502.3,215.3 500.6,214.9 499.0,214.6 497.3,214.2 495.7,213.9 494.0,213.5 492.3,213.1 490.7,212.8 489.0,212.4 487.3,212.0 485.7,211.6 484.0,211.3 482.4,210.9 480.7,210.5 479.0,210.1 477.4,209.7 475.7,209.3 474.0,209.0 472.4,208.6 470.7,208.2 469.1,207.8 467.4,207.4 465.7,207.0 464.1,206.6 462.4,206.2 460.7,205.8 459.1,205.3 457.4,204.9 455.7,204.5 454.1,204.1 452.4,203.7 450.8,203.3 449.1,202.8 447.4,202.4 445.8,202.0 444.1,201.6 442.4,201.1 440.8,200.7 439.1,200.2 437.5,199.8 435.8,199.4 434.1,198.9 432.5,198.5 430.8,198.0 429.1,197.6 427.5,197.1 425.8,196.6 424.1,196.2 422.5,195.7 420.8,195.2 419.2,194.8 417.5,194.3 415.8,193.8 414.2,193.3 412.5,192.8 410.8,192.4 409.2,191.9 407.5,191.4 405.9,190.9 404.2,190.4 402.5,189.9 400.9,189.4 399.2,188.9 397.5,188.3 395.9,187.8 394.2,187.3 392.5,186.8 390.9,186.3 389.2,185.7 387.6,185.2 385.9,184.6 384.2,184.1 382.6,183.6 380.9,183.0 379.2,182.5 377.6,181.9 375.9,181.3 374.3,180.7 372.6,180.1 370.9,179.4 369.3,178.8 367.6,178.1 365.9,177.5 364.3,176.8 362.6,176.2 361.0,175.5 359.3,174.9 357.6,174.2 356.0,173.5 354.3,172.8 352.6,172.2 351.0,171.5 349.3,170.8 347.6,170.1 346.0,169.4 344.3,168.7 342.7,168.0 341.0,167.2 339.3,166.5 337.7,165.8 336.0,165.1 334.3,164.3 332.7,163.6 331.0,162.8 329.4,162.1 327.7,161.3 326.0,160.5 324.4,159.7 322.7,159.0 321.0,158.2 319.4,157.4 317.7,156.6 316.0,155.8 314.4,154.9 312.7,154.1 311.1,153.3 309.4,152.4 307.7,151.6 306.1,150.7 304.4,149.9 302.7,149.0 301.1,148.1 299.4,147.3 297.8,146.4 296.1,145.5 294.4,144.5 292.8,143.6 291.1,142.7 289.4,141.8 287.8,140.8 286.1,139.9 284.4,138.9 282.8,137.9 281.1,136.9 279.5,135.9 277.8,134.9 276.1,133.9 274.5,132.9 272.8,131.8 271.1,130.8 269.5,129.7 267.8,128.6 266.2,127.6 264.5,126.5 262.8,125.3 261.2,124.2 259.5,123.1 257.8,121.9 256.2,120.8 254.5,119.6 252.9,118.4 251.2,117.2 249.5,116.0 247.9,114.7 246.2,113.5 244.5,112.2" fill="#efd6f9" stroke="#d9a6f2" stroke-width="1.6"/>
<polygon points="250.3,92.3 252.0,93.6 253.7,94.8 255.3,96.1 257.0,97.3 258.7,98.6 260.3,99.8 262.0,101.0 263.6,102.2 265.3,103.3 267.0,104.5 268.6,105.6 270.3,106.8 272.0,107.9 273.6,109.0 275.3,110.1 276.9,111.2 278.6,112.2 280.3,113.3 281.9,114.3 283.6,115.4 285.3,116.4 286.9,117.4 288.6,118.4 290.2,119.4 291.9,120.4 293.6,121.3 295.2,122.3 296.9,123.3 298.6,124.2 300.2,125.1 301.9,126.1 303.6,127.0 305.2,127.9 306.9,128.8 308.5,129.7 310.2,130.6 311.9,131.4 313.5,132.3 315.2,133.2 316.9,134.0 318.5,134.9 320.2,135.7 321.8,136.5 323.5,137.4 325.2,138.2 326.8,139.0 328.5,139.8 330.2,140.6 331.8,141.4 333.5,142.2 335.2,142.9 336.8,143.7 338.5,144.5 340.1,145.2 341.8,146.0 343.5,146.7 345.1,147.5 346.8,148.2 348.5,148.9 350.1,149.7 351.8,150.4 353.4,151.1 355.1,151.8 356.8,152.5 358.4,153.2 360.1,153.9 361.8,154.6 363.4,155.3 365.1,156.0 366.8,156.7 368.4,157.3 370.1,158.0 371.7,158.7 373.4,159.3 375.1,160.0 376.7,160.6 378.4,161.3 380.1,161.9 381.7,162.5 383.4,163.1 385.0,163.7 386.7,164.3 388.4,164.8 390.0,165.4 391.7,165.9 393.4,166.4 395.0,167.0 396.7,167.5 398.3,168.0 400.0,168.6 401.7,169.1 403.3,169.6 405.0,170.1 406.7,170.6 408.3,171.1 410.0,171.6 411.7,172.1 413.3,172.6 415.0,173.1 416.6,173.6 418.3,174.1 420.0,174.6 421.6,175.1 423.3,175.6 425.0,176.0 426.6,176.5 428.3,177.0 429.9,177.4 431.6,177.9 433.3,178.4 434.9,178.8 436.6,179.3 438.3,179.7 439.9,180.2 441.6,180.6 443.3,181.1 444.9,181.5 446.6,182.0 448.2,182.4 449.9,182.8 451.6,183.3 453.2,183.7 454.9,184.1 456.6,184.5 458.2,185.0 459.9,185.4 461.5,185.8 463.2,186.2 464.9,186.6 466.5,187.0 468.2,187.4 469.9,187.8 471.5,188.3 473.2,188.7 474.9,189.1 476.5,189.4 478.2,189.8 479.8,190.2 481.5,190.6 483.2,191.0 484.8,191.4 486.5,191.8 488.2,192.2 489.8,192.5 491.5,192.9 493.1,193.3 494.8,193.7 496.5,194.0 498.1,194.4 499.8,194.8 501.5,195.1 503.1,195.5 504.8,195.9 506.4,196.2 508.1,196.6 509.8,196.9 511.4,197.3 513.1,197.8 514.8,198.2 509.0,204.0 507.3,203.6 505.6,203.1 504.0,202.7 502.3,202.4 500.6,202.0 499.0,201.7 497.3,201.3 495.7,200.9 494.0,200.6 492.3,200.2 490.7,199.8 489.0,199.5 487.3,199.1 485.7,198.7 484.0,198.3 482.4,198.0 480.7,197.6 479.0,197.2 477.4,196.8 475.7,196.4 474.0,196.0 472.4,195.6 470.7,195.2 469.1,194.9 467.4,194.5 465.7,194.1 464.1,193.6 462.4,193.2 460.7,192.8 459.1,192.4 457.4,192.0 455.7,191.6 454.1,191.2 452.4,190.8 450.8,190.3 449.1,189.9 447.4,189.5 445.8,189.1 444.1,188.6 442.4,188.2 440.8,187.8 439.1,187.3 437.5,186.9 435.8,186.4 434.1,186.0 432.5,185.5 430.8,185.1 429.1,184.6 427.5,184.2 425.8,183.7 424.1,183.2 422.5,182.8 420.8,182.3 419.2,181.8 417.5,181.4 415.8,180.9 414.2,180.4 412.5,179.9 410.8,179.4 409.2,178.9 407.5,178.4 405.9,177.9 404.2,177.4 402.5,176.9 400.9,176.4 399.2,175.9 397.5,175.4 395.9,174.9 394.2,174.4 392.5,173.8 390.9,173.3 389.2,172.8 387.6,172.2 385.9,171.7 384.2,171.2 382.6,170.6 380.9,170.1 379.2,169.5 377.6,168.9 375.9,168.3 374.3,167.7 372.6,167.1 370.9,166.4 369.3,165.8 367.6,165.1 365.9,164.5 364.3,163.8 362.6,163.1 361.0,162.5 359.3,161.8 357.6,161.1 356.0,160.4 354.3,159.7 352.6,159.0 351.0,158.3 349.3,157.6 347.6,156.9 346.0,156.2 344.3,155.5 342.7,154.7 341.0,154.0 339.3,153.3 337.7,152.5 336.0,151.8 334.3,151.0 332.7,150.3 331.0,149.5 329.4,148.7 327.7,148.0 326.0,147.2 324.4,146.4 322.7,145.6 321.0,144.8 319.4,144.0 317.7,143.2 316.0,142.3 314.4,141.5 312.7,140.7 311.1,139.8 309.4,139.0 307.7,138.1 306.1,137.2 304.4,136.4 302.7,135.5 301.1,134.6 299.4,133.7 297.8,132.8 296.1,131.9 294.4,130.9 292.8,130.0 291.1,129.1 289.4,128.1 287.8,127.1 286.1,126.2 284.4,125.2 282.8,124.2 281.1,123.2 279.5,122.2 277.8,121.2 276.1,120.1 274.5,119.1 272.8,118.0 271.1,117.0 269.5,115.9 267.8,114.8 266.2,113.7 264.5,112.6 262.8,111.4 261.2,110.3 259.5,109.1 257.8,108.0 256.2,106.8 254.5,105.6 252.9,104.4 251.2,103.1 249.5,101.9 247.9,100.6 246.2,99.4 244.5,98.1" fill="#fce2b4" stroke="#f0b038" stroke-width="1.6"/>
<polygon points="250.3,53.3 252.0,54.6 253.7,56.0 255.3,57.3 257.0,58.5 258.7,59.8 260.3,61.1 262.0,62.3 263.6,63.5 265.3,64.7 267.0,65.9 268.6,67.1 270.3,68.3 272.0,69.4 273.6,70.5 275.3,71.7 276.9,72.8 278.6,73.9 280.3,74.9 281.9,76.0 283.6,77.1 285.3,78.1 286.9,79.2 288.6,80.2 290.2,81.2 291.9,82.2 293.6,83.2 295.2,84.2 296.9,85.2 298.6,86.1 300.2,87.1 301.9,88.0 303.6,88.9 305.2,89.9 306.9,90.8 308.5,91.7 310.2,92.6 311.9,93.5 313.5,94.4 315.2,95.3 316.9,96.1 318.5,97.0 320.2,97.8 321.8,98.7 323.5,99.5 325.2,100.4 326.8,101.2 328.5,102.0 330.2,102.8 331.8,103.6 333.5,104.4 335.2,105.2 336.8,106.0 338.5,106.8 340.1,107.6 341.8,108.3 343.5,109.1 345.1,109.8 346.8,110.6 348.5,111.3 350.1,112.1 351.8,112.8 353.4,113.5 355.1,114.3 356.8,115.0 358.4,115.7 360.1,116.4 361.8,117.1 363.4,117.8 365.1,118.5 366.8,119.2 368.4,119.8 370.1,120.5 371.7,121.2 373.4,121.9 375.1,122.5 376.7,123.2 378.4,123.8 380.1,124.5 381.7,125.1 383.4,125.8 385.0,126.3 386.7,126.9 388.4,127.5 390.0,128.0 391.7,128.6 393.4,129.1 395.0,129.7 396.7,130.2 398.3,130.8 400.0,131.3 401.7,131.9 403.3,132.4 405.0,132.9 406.7,133.4 408.3,134.0 410.0,134.5 411.7,135.0 413.3,135.5 415.0,136.0 416.6,136.5 418.3,137.0 420.0,137.5 421.6,138.0 423.3,138.5 425.0,139.0 426.6,139.5 428.3,140.0 429.9,140.4 431.6,140.9 433.3,141.4 434.9,141.9 436.6,142.3 438.3,142.8 439.9,143.3 441.6,143.7 443.3,144.2 444.9,144.6 446.6,145.1 448.2,145.5 449.9,146.0 451.6,146.4 453.2,146.9 454.9,147.3 456.6,147.7 458.2,148.2 459.9,148.6 461.5,149.0 463.2,149.5 464.9,149.9 466.5,150.3 468.2,150.7 469.9,151.1 471.5,151.5 473.2,152.0 474.9,152.4 476.5,152.8 478.2,153.2 479.8,153.6 481.5,154.0 483.2,154.4 484.8,154.8 486.5,155.2 488.2,155.6 489.8,156.0 491.5,156.3 493.1,156.7 494.8,157.1 496.5,157.5 498.1,157.9 499.8,158.3 501.5,158.6 503.1,159.0 504.8,159.4 506.4,159.7 508.1,160.1 509.8,160.5 511.4,160.9 513.1,161.3 514.8,161.7 509.0,167.5 507.3,167.1 505.6,166.7 504.0,166.3 502.3,165.9 500.6,165.5 499.0,165.2 497.3,164.8 495.7,164.4 494.0,164.1 492.3,163.7 490.7,163.3 489.0,162.9 487.3,162.5 485.7,162.1 484.0,161.8 482.4,161.4 480.7,161.0 479.0,160.6 477.4,160.2 475.7,159.8 474.0,159.4 472.4,159.0 470.7,158.6 469.1,158.2 467.4,157.8 465.7,157.3 464.1,156.9 462.4,156.5 460.7,156.1 459.1,155.7 457.4,155.3 455.7,154.8 454.1,154.4 452.4,154.0 450.8,153.5 449.1,153.1 447.4,152.7 445.8,152.2 444.1,151.8 442.4,151.3 440.8,150.9 439.1,150.4 437.5,150.0 435.8,149.5 434.1,149.1 432.5,148.6 430.8,148.1 429.1,147.7 427.5,147.2 425.8,146.7 424.1,146.2 422.5,145.8 420.8,145.3 419.2,144.8 417.5,144.3 415.8,143.8 414.2,143.3 412.5,142.8 410.8,142.3 409.2,141.8 407.5,141.3 405.9,140.8 404.2,140.3 402.5,139.8 400.9,139.2 399.2,138.7 397.5,138.2 395.9,137.7 394.2,137.1 392.5,136.6 390.9,136.0 389.2,135.5 387.6,134.9 385.9,134.4 384.2,133.8 382.6,133.3 380.9,132.7 379.2,132.1 377.6,131.6 375.9,130.9 374.3,130.3 372.6,129.6 370.9,129.0 369.3,128.3 367.6,127.7 365.9,127.0 364.3,126.3 362.6,125.6 361.0,125.0 359.3,124.3 357.6,123.6 356.0,122.9 354.3,122.2 352.6,121.5 351.0,120.8 349.3,120.1 347.6,119.3 346.0,118.6 344.3,117.9 342.7,117.1 341.0,116.4 339.3,115.6 337.7,114.9 336.0,114.1 334.3,113.4 332.7,112.6 331.0,111.8 329.4,111.0 327.7,110.2 326.0,109.4 324.4,108.6 322.7,107.8 321.0,107.0 319.4,106.2 317.7,105.3 316.0,104.5 314.4,103.6 312.7,102.8 311.1,101.9 309.4,101.1 307.7,100.2 306.1,99.3 304.4,98.4 302.7,97.5 301.1,96.6 299.4,95.7 297.8,94.7 296.1,93.8 294.4,92.9 292.8,91.9 291.1,91.0 289.4,90.0 287.8,89.0 286.1,88.0 284.4,87.0 282.8,86.0 281.1,85.0 279.5,83.9 277.8,82.9 276.1,81.8 274.5,80.7 272.8,79.7 271.1,78.6 269.5,77.5 267.8,76.3 266.2,75.2 264.5,74.1 262.8,72.9 261.2,71.7 259.5,70.5 257.8,69.3 256.2,68.1 254.5,66.9 252.9,65.6 251.2,64.3 249.5,63.1 247.9,61.8 246.2,60.4 244.5,59.1" fill="#90eeee" stroke="#08d4d6" stroke-width="1.6"/>
<polyline points="247.4,54.7 249.1,56.0 250.8,57.4 252.4,58.7 254.1,59.9 255.8,61.2 257.4,62.5 259.1,63.7 260.7,64.9 262.4,66.1 264.1,67.3 265.7,68.5 267.4,69.7 269.1,70.8 270.7,71.9 272.4,73.1 274.0,74.2 275.7,75.3 277.4,76.3 279.0,77.4 280.7,78.5 282.4,79.5 284.0,80.6 285.7,81.6 287.3,82.6 289.0,83.6 290.7,84.6 292.3,85.6 294.0,86.6 295.7,87.5 297.3,88.5 299.0,89.4 300.7,90.3 302.3,91.3 304.0,92.2 305.6,93.1 307.3,94.0 309.0,94.9 310.6,95.8 312.3,96.7 314.0,97.5 315.6,98.4 317.3,99.2 318.9,100.1 320.6,100.9 322.3,101.8 323.9,102.6 325.6,103.4 327.3,104.2 328.9,105.0 330.6,105.8 332.3,106.6 333.9,107.4 335.6,108.2 337.2,109.0 338.9,109.7 340.6,110.5 342.2,111.2 343.9,112.0 345.6,112.7 347.2,113.5 348.9,114.2 350.5,114.9 352.2,115.7 353.9,116.4 355.5,117.1 357.2,117.8 358.9,118.5 360.5,119.2 362.2,119.9 363.9,120.6 365.5,121.2 367.2,121.9 368.8,122.6 370.5,123.3 372.2,123.9 373.8,124.6 375.5,125.2 377.2,125.9 378.8,126.5 380.5,127.2 382.1,127.8 383.8,128.5 385.5,129.1 387.1,129.7 388.8,130.3 390.5,131.0 392.1,131.6 393.8,132.2 395.4,132.8 397.1,133.4 398.8,134.0 400.4,134.6 402.1,135.2 403.8,135.8 405.4,136.4 407.1,136.9 408.8,137.5 410.4,138.1 412.1,138.7 413.7,139.2 415.4,139.8 417.1,140.4 418.7,140.9 420.4,141.5 422.1,142.0 423.7,142.6 425.4,143.1 427.0,143.7 428.7,144.2 430.4,144.7 432.0,145.3 433.7,145.8 435.4,146.3 437.0,146.9 438.7,147.4 440.4,147.9 442.0,148.4 443.7,148.9 445.3,149.4 447.0,150.0 448.7,150.5 450.3,151.0 452.0,151.5 453.7,152.0 455.3,152.5 457.0,153.0 458.6,153.5 460.3,153.9 462.0,154.4 463.6,154.9 465.3,155.4 467.0,155.9 468.6,156.4 470.3,156.8 472.0,157.3 473.6,157.8 475.3,158.2 476.9,158.7 478.6,159.2 480.3,159.6 481.9,160.1 483.6,160.6 485.3,161.0 486.9,161.5 488.6,161.9 490.2,162.4 491.9,162.8 493.6,163.3 495.2,163.7 496.9,164.1 498.6,164.6 500.2,165.0 501.9,165.5 503.5,165.9 505.2,166.3 506.9,166.8 508.5,167.2 510.2,167.6 511.9,168.0" fill="none" stroke="#12b8c0" stroke-width="2.4" stroke-dasharray="5,5"/>
<polyline points="247.4,91.0 249.1,92.3 250.8,93.5 252.4,94.8 254.1,96.0 255.8,97.2 257.4,98.5 259.1,99.6 260.7,100.8 262.4,102.0 264.1,103.1 265.7,104.3 267.4,105.4 269.1,106.5 270.7,107.6 272.4,108.7 274.0,109.7 275.7,110.8 277.4,111.8 279.0,112.9 280.7,113.9 282.4,114.9 284.0,115.9 285.7,116.9 287.3,117.9 289.0,118.9 290.7,119.8 292.3,120.8 294.0,121.7 295.7,122.7 297.3,123.6 299.0,124.5 300.7,125.4 302.3,126.3 304.0,127.2 305.6,128.1 307.3,129.0 309.0,129.8 310.6,130.7 312.3,131.5 314.0,132.4 315.6,133.2 317.3,134.0 318.9,134.9 320.6,135.7 322.3,136.5 323.9,137.3 325.6,138.1 327.3,138.9 328.9,139.6 330.6,140.4 332.3,141.2 333.9,142.0 335.6,142.7 337.2,143.5 338.9,144.2 340.6,144.9 342.2,145.7 343.9,146.4 345.6,147.1 347.2,147.9 348.9,148.6 350.5,149.3 352.2,150.0 353.9,150.7 355.5,151.4 357.2,152.0 358.9,152.7 360.5,153.4 362.2,154.1 363.9,154.7 365.5,155.4 367.2,156.1 368.8,156.7 370.5,157.4 372.2,158.0 373.8,158.7 375.5,159.3 377.2,159.9 378.8,160.6 380.5,161.2 382.1,161.8 383.8,162.4 385.5,163.0 387.1,163.6 388.8,164.2 390.5,164.8 392.1,165.4 393.8,166.0 395.4,166.6 397.1,167.2 398.8,167.8 400.4,168.4 402.1,168.9 403.8,169.5 405.4,170.1 407.1,170.6 408.8,171.2 410.4,171.8 412.1,172.3 413.7,172.9 415.4,173.4 417.1,174.0 418.7,174.5 420.4,175.1 422.1,175.6 423.7,176.1 425.4,176.7 427.0,177.2 428.7,177.7 430.4,178.2 432.0,178.8 433.7,179.3 435.4,179.8 437.0,180.3 438.7,180.8 440.4,181.3 442.0,181.8 443.7,182.3 445.3,182.8 447.0,183.3 448.7,183.8 450.3,184.3 452.0,184.8 453.7,185.3 455.3,185.7 457.0,186.2 458.6,186.7 460.3,187.2 462.0,187.7 463.6,188.1 465.3,188.6 467.0,189.1 468.6,189.5 470.3,190.0 472.0,190.4 473.6,190.9 475.3,191.4 476.9,191.8 478.6,192.3 480.3,192.7 481.9,193.2 483.6,193.6 485.3,194.0 486.9,194.5 488.6,194.9 490.2,195.4 491.9,195.8 493.6,196.2 495.2,196.7 496.9,197.1 498.6,197.5 500.2,197.9 501.9,198.4 503.5,198.8 505.2,199.2 506.9,199.6 508.5,200.0 510.2,200.5 511.9,200.9" fill="none" stroke="#e09800" stroke-width="2.4" stroke-dasharray="5,5"/>
<polyline points="247.4,106.3 249.1,107.6 250.8,108.8 252.4,110.1 254.1,111.3 255.8,112.5 257.4,113.7 259.1,114.9 260.7,116.0 262.4,117.2 264.1,118.3 265.7,119.5 267.4,120.6 269.1,121.7 270.7,122.8 272.4,123.8 274.0,124.9 275.7,126.0 277.4,127.0 279.0,128.0 280.7,129.0 282.4,130.1 284.0,131.1 285.7,132.0 287.3,133.0 289.0,134.0 290.7,134.9 292.3,135.9 294.0,136.8 295.7,137.8 297.3,138.7 299.0,139.6 300.7,140.5 302.3,141.4 304.0,142.3 305.6,143.2 307.3,144.0 309.0,144.9 310.6,145.7 312.3,146.6 314.0,147.4 315.6,148.3 317.3,149.1 318.9,149.9 320.6,150.7 322.3,151.5 323.9,152.3 325.6,153.1 327.3,153.9 328.9,154.7 330.6,155.5 332.3,156.2 333.9,157.0 335.6,157.7 337.2,158.5 338.9,159.2 340.6,160.0 342.2,160.7 343.9,161.4 345.6,162.1 347.2,162.9 348.9,163.6 350.5,164.3 352.2,165.0 353.9,165.7 355.5,166.3 357.2,167.0 358.9,167.7 360.5,168.4 362.2,169.1 363.9,169.7 365.5,170.4 367.2,171.0 368.8,171.7 370.5,172.3 372.2,173.0 373.8,173.6 375.5,174.3 377.2,174.9 378.8,175.5 380.5,176.1 382.1,176.7 383.8,177.4 385.5,178.0 387.1,178.6 388.8,179.2 390.5,179.8 392.1,180.4 393.8,181.0 395.4,181.5 397.1,182.1 398.8,182.7 400.4,183.3 402.1,183.9 403.8,184.4 405.4,185.0 407.1,185.6 408.8,186.1 410.4,186.7 412.1,187.2 413.7,187.8 415.4,188.3 417.1,188.9 418.7,189.4 420.4,190.0 422.1,190.5 423.7,191.0 425.4,191.6 427.0,192.1 428.7,192.6 430.4,193.1 432.0,193.6 433.7,194.2 435.4,194.7 437.0,195.2 438.7,195.7 440.4,196.2 442.0,196.7 443.7,197.2 445.3,197.7 447.0,198.2 448.7,198.7 450.3,199.2 452.0,199.6 453.7,200.1 455.3,200.6 457.0,201.1 458.6,201.6 460.3,202.0 462.0,202.5 463.6,203.0 465.3,203.4 467.0,203.9 468.6,204.4 470.3,204.8 472.0,205.3 473.6,205.7 475.3,206.2 476.9,206.6 478.6,207.1 480.3,207.5 481.9,208.0 483.6,208.4 485.3,208.9 486.9,209.3 488.6,209.8 490.2,210.2 491.9,210.6 493.6,211.1 495.2,211.5 496.9,211.9 498.6,212.3 500.2,212.8 501.9,213.2 503.5,213.6 505.2,214.0 506.9,214.4 508.5,214.8 510.2,215.3 511.9,215.7" fill="none" stroke="#bf6fe0" stroke-width="2.4" stroke-dasharray="5,5"/>
<polyline points="247.4,124.5 249.1,125.8 250.8,127.1 252.4,128.4 254.1,129.7 255.8,130.9 257.4,132.2 259.1,133.4 260.7,134.6 262.4,135.8 264.1,136.9 265.7,138.1 267.4,139.2 269.1,140.4 270.7,141.5 272.4,142.6 274.0,143.7 275.7,144.8 277.4,145.8 279.0,146.9 280.7,147.9 282.4,149.0 284.0,150.0 285.7,151.0 287.3,152.0 289.0,153.0 290.7,154.0 292.3,155.0 294.0,156.0 295.7,156.9 297.3,157.9 299.0,158.8 300.7,159.7 302.3,160.7 304.0,161.6 305.6,162.5 307.3,163.4 309.0,164.3 310.6,165.1 312.3,166.0 314.0,166.9 315.6,167.7 317.3,168.6 318.9,169.4 320.6,170.3 322.3,171.1 323.9,171.9 325.6,172.7 327.3,173.5 328.9,174.3 330.6,175.1 332.3,175.9 333.9,176.7 335.6,177.5 337.2,178.3 338.9,179.0 340.6,179.8 342.2,180.5 343.9,181.3 345.6,182.0 347.2,182.8 348.9,183.5 350.5,184.2 352.2,184.9 353.9,185.7 355.5,186.4 357.2,187.1 358.9,187.8 360.5,188.5 362.2,189.2 363.9,189.8 365.5,190.5 367.2,191.2 368.8,191.9 370.5,192.5 372.2,193.2 373.8,193.9 375.5,194.5 377.2,195.2 378.8,195.8 380.5,196.4 382.1,197.1 383.8,197.7 385.5,198.3 387.1,199.0 388.8,199.6 390.5,200.2 392.1,200.8 393.8,201.4 395.4,202.0 397.1,202.6 398.8,203.2 400.4,203.8 402.1,204.4 403.8,205.0 405.4,205.6 407.1,206.2 408.8,206.7 410.4,207.3 412.1,207.9 413.7,208.4 415.4,209.0 417.1,209.6 418.7,210.1 420.4,210.7 422.1,211.2 423.7,211.8 425.4,212.3 427.0,212.9 428.7,213.4 430.4,213.9 432.0,214.5 433.7,215.0 435.4,215.5 437.0,216.1 438.7,216.6 440.4,217.1 442.0,217.6 443.7,218.1 445.3,218.6 447.0,219.2 448.7,219.7 450.3,220.2 452.0,220.7 453.7,221.2 455.3,221.7 457.0,222.2 458.6,222.6 460.3,223.1 462.0,223.6 463.6,224.1 465.3,224.6 467.0,225.1 468.6,225.5 470.3,226.0 472.0,226.5 473.6,227.0 475.3,227.4 476.9,227.9 478.6,228.3 480.3,228.8 481.9,229.3 483.6,229.7 485.3,230.2 486.9,230.6 488.6,231.1 490.2,231.5 491.9,232.0 493.6,232.4 495.2,232.9 496.9,233.3 498.6,233.7 500.2,234.2 501.9,234.6 503.5,235.0 505.2,235.5 506.9,235.9 508.5,236.3 510.2,236.8 511.9,237.2" fill="none" stroke="#12a062" stroke-width="2.4" stroke-dasharray="5,5"/>
<polyline points="247.4,130.0 249.1,131.3 250.8,132.6 252.4,133.9 254.1,135.1 255.8,136.4 257.4,137.6 259.1,138.8 260.7,140.0 262.4,141.2 264.1,142.3 265.7,143.5 267.4,144.6 269.1,145.8 270.7,146.9 272.4,148.0 274.0,149.1 275.7,150.1 277.4,151.2 279.0,152.3 280.7,153.3 282.4,154.3 284.0,155.4 285.7,156.4 287.3,157.4 289.0,158.4 290.7,159.3 292.3,160.3 294.0,161.3 295.7,162.2 297.3,163.2 299.0,164.1 300.7,165.0 302.3,166.0 304.0,166.9 305.6,167.8 307.3,168.7 309.0,169.6 310.6,170.4 312.3,171.3 314.0,172.2 315.6,173.0 317.3,173.9 318.9,174.7 320.6,175.5 322.3,176.4 323.9,177.2 325.6,178.0 327.3,178.8 328.9,179.6 330.6,180.4 332.3,181.2 333.9,182.0 335.6,182.7 337.2,183.5 338.9,184.3 340.6,185.0 342.2,185.8 343.9,186.5 345.6,187.2 347.2,188.0 348.9,188.7 350.5,189.4 352.2,190.2 353.9,190.9 355.5,191.6 357.2,192.3 358.9,193.0 360.5,193.7 362.2,194.3 363.9,195.0 365.5,195.7 367.2,196.4 368.8,197.0 370.5,197.7 372.2,198.4 373.8,199.0 375.5,199.7 377.2,200.3 378.8,201.0 380.5,201.6 382.1,202.2 383.8,202.9 385.5,203.5 387.1,204.1 388.8,204.7 390.5,205.4 392.1,206.0 393.8,206.6 395.4,207.2 397.1,207.8 398.8,208.4 400.4,209.0 402.1,209.5 403.8,210.1 405.4,210.7 407.1,211.3 408.8,211.9 410.4,212.4 412.1,213.0 413.7,213.6 415.4,214.1 417.1,214.7 418.7,215.2 420.4,215.8 422.1,216.3 423.7,216.9 425.4,217.4 427.0,218.0 428.7,218.5 430.4,219.0 432.0,219.6 433.7,220.1 435.4,220.6 437.0,221.2 438.7,221.7 440.4,222.2 442.0,222.7 443.7,223.2 445.3,223.7 447.0,224.2 448.7,224.7 450.3,225.2 452.0,225.7 453.7,226.2 455.3,226.7 457.0,227.2 458.6,227.7 460.3,228.2 462.0,228.7 463.6,229.2 465.3,229.6 467.0,230.1 468.6,230.6 470.3,231.1 472.0,231.5 473.6,232.0 475.3,232.5 476.9,232.9 478.6,233.4 480.3,233.9 481.9,234.3 483.6,234.8 485.3,235.2 486.9,235.7 488.6,236.1 490.2,236.6 491.9,237.0 493.6,237.4 495.2,237.9 496.9,238.3 498.6,238.8 500.2,239.2 501.9,239.6 503.5,240.1 505.2,240.5 506.9,240.9 508.5,241.3 510.2,241.8 511.9,242.2" fill="none" stroke="#1a62d8" stroke-width="2.4" stroke-dasharray="5,5"/>
<polyline points="247.4,139.1 249.1,140.4 250.8,141.7 252.4,143.0 254.1,144.3 255.8,145.5 257.4,146.8 259.1,148.0 260.7,149.2 262.4,150.4 264.1,151.6 265.7,152.8 267.4,153.9 269.1,155.0 270.7,156.2 272.4,157.3 274.0,158.4 275.7,159.5 277.4,160.6 279.0,161.6 280.7,162.7 282.4,163.7 284.0,164.8 285.7,165.8 287.3,166.8 289.0,167.8 290.7,168.8 292.3,169.8 294.0,170.8 295.7,171.8 297.3,172.7 299.0,173.7 300.7,174.6 302.3,175.5 304.0,176.4 305.6,177.4 307.3,178.3 309.0,179.2 310.6,180.1 312.3,180.9 314.0,181.8 315.6,182.7 317.3,183.5 318.9,184.4 320.6,185.2 322.3,186.1 323.9,186.9 325.6,187.7 327.3,188.5 328.9,189.4 330.6,190.2 332.3,191.0 333.9,191.7 335.6,192.5 337.2,193.3 338.9,194.1 340.6,194.8 342.2,195.6 343.9,196.4 345.6,197.1 347.2,197.9 348.9,198.6 350.5,199.3 352.2,200.1 353.9,200.8 355.5,201.5 357.2,202.2 358.9,202.9 360.5,203.6 362.2,204.3 363.9,205.0 365.5,205.7 367.2,206.4 368.8,207.0 370.5,207.7 372.2,208.4 373.8,209.1 375.5,209.7 377.2,210.4 378.8,211.0 380.5,211.7 382.1,212.3 383.8,213.0 385.5,213.6 387.1,214.2 388.8,214.8 390.5,215.5 392.1,216.1 393.8,216.7 395.4,217.3 397.1,217.9 398.8,218.5 400.4,219.1 402.1,219.7 403.8,220.3 405.4,220.9 407.1,221.5 408.8,222.1 410.4,222.7 412.1,223.2 413.7,223.8 415.4,224.4 417.1,224.9 418.7,225.5 420.4,226.1 422.1,226.6 423.7,227.2 425.4,227.7 427.0,228.3 428.7,228.8 430.4,229.4 432.0,229.9 433.7,230.4 435.4,231.0 437.0,231.5 438.7,232.0 440.4,232.5 442.0,233.1 443.7,233.6 445.3,234.1 447.0,234.6 448.7,235.1 450.3,235.6 452.0,236.1 453.7,236.6 455.3,237.1 457.0,237.6 458.6,238.1 460.3,238.6 462.0,239.1 463.6,239.6 465.3,240.1 467.0,240.6 468.6,241.1 470.3,241.5 472.0,242.0 473.6,242.5 475.3,243.0 476.9,243.4 478.6,243.9 480.3,244.4 481.9,244.8 483.6,245.3 485.3,245.8 486.9,246.2 488.6,246.7 490.2,247.1 491.9,247.6 493.6,248.0 495.2,248.5 496.9,248.9 498.6,249.4 500.2,249.8 501.9,250.2 503.5,250.7 505.2,251.1 506.9,251.5 508.5,252.0 510.2,252.4 511.9,252.8" fill="none" stroke="#f03030" stroke-width="2.4" stroke-dasharray="5,5"/>
<polyline points="247.4,146.3 249.1,147.6 250.8,148.9 252.4,150.2 254.1,151.4 255.8,152.7 257.4,153.9 259.1,155.1 260.7,156.3 262.4,157.5 264.1,158.7 265.7,159.9 267.4,161.0 269.1,162.2 270.7,163.3 272.4,164.4 274.0,165.5 275.7,166.6 277.4,167.7 279.0,168.7 280.7,169.8 282.4,170.8 284.0,171.9 285.7,172.9 287.3,173.9 289.0,174.9 290.7,175.9 292.3,176.9 294.0,177.9 295.7,178.8 297.3,179.8 299.0,180.7 300.7,181.7 302.3,182.6 304.0,183.5 305.6,184.4 307.3,185.3 309.0,186.2 310.6,187.1 312.3,188.0 314.0,188.9 315.6,189.7 317.3,190.6 318.9,191.4 320.6,192.3 322.3,193.1 323.9,194.0 325.6,194.8 327.3,195.6 328.9,196.4 330.6,197.2 332.3,198.0 333.9,198.8 335.6,199.6 337.2,200.3 338.9,201.1 340.6,201.9 342.2,202.6 343.9,203.4 345.6,204.1 347.2,204.9 348.9,205.6 350.5,206.4 352.2,207.1 353.9,207.8 355.5,208.5 357.2,209.2 358.9,209.9 360.5,210.6 362.2,211.3 363.9,212.0 365.5,212.7 367.2,213.4 368.8,214.1 370.5,214.7 372.2,215.4 373.8,216.1 375.5,216.7 377.2,217.4 378.8,218.0 380.5,218.7 382.1,219.3 383.8,220.0 385.5,220.6 387.1,221.2 388.8,221.9 390.5,222.5 392.1,223.1 393.8,223.7 395.4,224.3 397.1,224.9 398.8,225.5 400.4,226.1 402.1,226.7 403.8,227.3 405.4,227.9 407.1,228.5 408.8,229.1 410.4,229.6 412.1,230.2 413.7,230.8 415.4,231.4 417.1,231.9 418.7,232.5 420.4,233.0 422.1,233.6 423.7,234.2 425.4,234.7 427.0,235.3 428.7,235.8 430.4,236.3 432.0,236.9 433.7,237.4 435.4,237.9 437.0,238.5 438.7,239.0 440.4,239.5 442.0,240.0 443.7,240.6 445.3,241.1 447.0,241.6 448.7,242.1 450.3,242.6 452.0,243.1 453.7,243.6 455.3,244.1 457.0,244.6 458.6,245.1 460.3,245.6 462.0,246.1 463.6,246.6 465.3,247.1 467.0,247.5 468.6,248.0 470.3,248.5 472.0,249.0 473.6,249.5 475.3,249.9 476.9,250.4 478.6,250.9 480.3,251.3 481.9,251.8 483.6,252.3 485.3,252.7 486.9,253.2 488.6,253.6 490.2,254.1 491.9,254.5 493.6,255.0 495.2,255.4 496.9,255.9 498.6,256.3 500.2,256.7 501.9,257.2 503.5,257.6 505.2,258.1 506.9,258.5 508.5,258.9 510.2,259.3 511.9,259.8" fill="none" stroke="#404040" stroke-width="2.4" stroke-dasharray="5,5"/>
</g>
<rect x="251.7" y="54.0" width="255.90" height="210.0" fill="none" stroke="#000" stroke-width="1.5"/><line x1="251.70" y1="264.0" x2="251.70" y2="267.5" stroke="#000" stroke-width="1.2"/><line x1="260.23" y1="264.0" x2="260.23" y2="266.0" stroke="#000" stroke-width="1.2"/><line x1="268.76" y1="264.0" x2="268.76" y2="266.0" stroke="#000" stroke-width="1.2"/><line x1="277.29" y1="264.0" x2="277.29" y2="266.0" stroke="#000" stroke-width="1.2"/><line x1="285.82" y1="264.0" x2="285.82" y2="266.0" stroke="#000" stroke-width="1.2"/><line x1="294.35" y1="264.0" x2="294.35" y2="267.5" stroke="#000" stroke-width="1.2"/><line x1="302.88" y1="264.0" x2="302.88" y2="266.0" stroke="#000" stroke-width="1.2"/><line x1="311.41" y1="264.0" x2="311.41" y2="266.0" stroke="#000" stroke-width="1.2"/><line x1="319.94" y1="264.0" x2="319.94" y2="266.0" stroke="#000" stroke-width="1.2"/><line x1="328.47" y1="264.0" x2="328.47" y2="266.0" stroke="#000" stroke-width="1.2"/><line x1="337.00" y1="264.0" x2="337.00" y2="267.5" stroke="#000" stroke-width="1.2"/><line x1="345.53" y1="264.0" x2="345.53" y2="266.0" stroke="#000" stroke-width="1.2"/><line x1="354.06" y1="264.0" x2="354.06" y2="266.0" stroke="#000" stroke-width="1.2"/><line x1="362.59" y1="264.0" x2="362.59" y2="266.0" stroke="#000" stroke-width="1.2"/><line x1="371.12" y1="264.0" x2="371.12" y2="266.0" stroke="#000" stroke-width="1.2"/><line x1="379.65" y1="264.0" x2="379.65" y2="267.5" stroke="#000" stroke-width="1.2"/><line x1="388.18" y1="264.0" x2="388.18" y2="266.0" stroke="#000" stroke-width="1.2"/><line x1="396.71" y1="264.0" x2="396.71" y2="266.0" stroke="#000" stroke-width="1.2"/><line x1="405.24" y1="264.0" x2="405.24" y2="266.0" stroke="#000" stroke-width="1.2"/><line x1="413.77" y1="264.0" x2="413.77" y2="266.0" stroke="#000" stroke-width="1.2"/><line x1="422.30" y1="264.0" x2="422.30" y2="267.5" stroke="#000" stroke-width="1.2"/><line x1="430.83" y1="264.0" x2="430.83" y2="266.0" stroke="#000" stroke-width="1.2"/><line x1="439.36" y1="264.0" x2="439.36" y2="266.0" stroke="#000" stroke-width="1.2"/><line x1="447.89" y1="264.0" x2="447.89" y2="266.0" stroke="#000" stroke-width="1.2"/><line x1="456.42" y1="264.0" x2="456.42" y2="266.0" stroke="#000" stroke-width="1.2"/><line x1="464.95" y1="264.0" x2="464.95" y2="267.5" stroke="#000" stroke-width="1.2"/><line x1="473.48" y1="264.0" x2="473.48" y2="266.0" stroke="#000" stroke-width="1.2"/><line x1="482.01" y1="264.0" x2="482.01" y2="266.0" stroke="#000" stroke-width="1.2"/><line x1="490.54" y1="264.0" x2="490.54" y2="266.0" stroke="#000" stroke-width="1.2"/><line x1="499.07" y1="264.0" x2="499.07" y2="266.0" stroke="#000" stroke-width="1.2"/><line x1="507.60" y1="264.0" x2="507.60" y2="267.5" stroke="#000" stroke-width="1.2"/><line x1="251.7" y1="246.59" x2="248.2" y2="246.59" stroke="#000" stroke-width="1.2"/><line x1="251.7" y1="172.09" x2="248.2" y2="172.09" stroke="#000" stroke-width="1.2"/><line x1="251.7" y1="128.50" x2="248.2" y2="128.50" stroke="#000" stroke-width="1.2"/><line x1="251.7" y1="97.58" x2="248.2" y2="97.58" stroke="#000" stroke-width="1.2"/><line x1="251.7" y1="73.60" x2="248.2" y2="73.60" stroke="#000" stroke-width="1.2"/><line x1="251.7" y1="54.00" x2="248.2" y2="54.00" stroke="#000" stroke-width="1.2"/><line x1="251.7" y1="260.95" x2="249.7" y2="260.95" stroke="#000" stroke-width="1"/><line x1="251.7" y1="233.93" x2="249.7" y2="233.93" stroke="#000" stroke-width="1"/><line x1="251.7" y1="222.61" x2="249.7" y2="222.61" stroke="#000" stroke-width="1"/><line x1="251.7" y1="212.36" x2="249.7" y2="212.36" stroke="#000" stroke-width="1"/><line x1="251.7" y1="203.01" x2="249.7" y2="203.01" stroke="#000" stroke-width="1"/><line x1="251.7" y1="194.41" x2="249.7" y2="194.41" stroke="#000" stroke-width="1"/><line x1="251.7" y1="186.44" x2="249.7" y2="186.44" stroke="#000" stroke-width="1"/><line x1="251.7" y1="179.02" x2="249.7" y2="179.02" stroke="#000" stroke-width="1"/><line x1="251.7" y1="165.57" x2="249.7" y2="165.57" stroke="#000" stroke-width="1"/><line x1="251.7" y1="159.43" x2="249.7" y2="159.43" stroke="#000" stroke-width="1"/><line x1="251.7" y1="153.62" x2="249.7" y2="153.62" stroke="#000" stroke-width="1"/><line x1="251.7" y1="148.10" x2="249.7" y2="148.10" stroke="#000" stroke-width="1"/><line x1="251.7" y1="142.86" x2="249.7" y2="142.86" stroke="#000" stroke-width="1"/><line x1="251.7" y1="137.86" x2="249.7" y2="137.86" stroke="#000" stroke-width="1"/><line x1="251.7" y1="133.08" x2="249.7" y2="133.08" stroke="#000" stroke-width="1"/><line x1="251.7" y1="124.12" x2="249.7" y2="124.12" stroke="#000" stroke-width="1"/><line x1="251.7" y1="119.90" x2="249.7" y2="119.90" stroke="#000" stroke-width="1"/><line x1="251.7" y1="115.84" x2="249.7" y2="115.84" stroke="#000" stroke-width="1"/><line x1="251.7" y1="111.94" x2="249.7" y2="111.94" stroke="#000" stroke-width="1"/><line x1="251.7" y1="108.16" x2="249.7" y2="108.16" stroke="#000" stroke-width="1"/><line x1="251.7" y1="104.52" x2="249.7" y2="104.52" stroke="#000" stroke-width="1"/><line x1="251.7" y1="101.00" x2="249.7" y2="101.00" stroke="#000" stroke-width="1"/><line x1="251.7" y1="94.28" x2="249.7" y2="94.28" stroke="#000" stroke-width="1"/><line x1="251.7" y1="91.07" x2="249.7" y2="91.07" stroke="#000" stroke-width="1"/><line x1="251.7" y1="87.95" x2="249.7" y2="87.95" stroke="#000" stroke-width="1"/><line x1="251.7" y1="84.92" x2="249.7" y2="84.92" stroke="#000" stroke-width="1"/><line x1="251.7" y1="81.98" x2="249.7" y2="81.98" stroke="#000" stroke-width="1"/><line x1="251.7" y1="79.11" x2="249.7" y2="79.11" stroke="#000" stroke-width="1"/><line x1="251.7" y1="76.32" x2="249.7" y2="76.32" stroke="#000" stroke-width="1"/><line x1="251.7" y1="70.94" x2="249.7" y2="70.94" stroke="#000" stroke-width="1"/><line x1="251.7" y1="68.35" x2="249.7" y2="68.35" stroke="#000" stroke-width="1"/><line x1="251.7" y1="65.82" x2="249.7" y2="65.82" stroke="#000" stroke-width="1"/><line x1="251.7" y1="63.35" x2="249.7" y2="63.35" stroke="#000" stroke-width="1"/><line x1="251.7" y1="60.94" x2="249.7" y2="60.94" stroke="#000" stroke-width="1"/><line x1="251.7" y1="58.57" x2="249.7" y2="58.57" stroke="#000" stroke-width="1"/><line x1="251.7" y1="56.26" x2="249.7" y2="56.26" stroke="#000" stroke-width="1"/>
<text transform="translate(251.70,276.40) scale(1,1.07)" font-size="7.6" text-anchor="middle" fill="#000" stroke="#000" stroke-width="0.3">3.0G</text>
<text transform="translate(294.35,276.40) scale(1,1.07)" font-size="7.6" text-anchor="middle" fill="#000" stroke="#000" stroke-width="0.3">4.0G</text>
<text transform="translate(337.00,276.40) scale(1,1.07)" font-size="7.6" text-anchor="middle" fill="#000" stroke="#000" stroke-width="0.3">5.0G</text>
<text transform="translate(379.65,276.40) scale(1,1.07)" font-size="7.6" text-anchor="middle" fill="#000" stroke="#000" stroke-width="0.3">6.0G</text>
<text transform="translate(422.30,276.40) scale(1,1.07)" font-size="7.6" text-anchor="middle" fill="#000" stroke="#000" stroke-width="0.3">7.0G</text>
<text transform="translate(464.95,276.40) scale(1,1.07)" font-size="7.6" text-anchor="middle" fill="#000" stroke="#000" stroke-width="0.3">8.0G</text>
<text transform="translate(507.60,276.40) scale(1,1.07)" font-size="7.6" text-anchor="middle" fill="#000" stroke="#000" stroke-width="0.3">9.0G</text>
<text transform="translate(245.70,249.29) scale(1,1.07)" font-size="7.8" text-anchor="end" fill="#000" stroke="#000" stroke-width="0.3">2.0</text>
<text transform="translate(245.70,174.79) scale(1,1.07)" font-size="7.8" text-anchor="end" fill="#000" stroke="#000" stroke-width="0.3">4.0</text>
<text transform="translate(245.70,131.20) scale(1,1.07)" font-size="7.8" text-anchor="end" fill="#000" stroke="#000" stroke-width="0.3">6.0</text>
<text transform="translate(245.70,100.28) scale(1,1.07)" font-size="7.8" text-anchor="end" fill="#000" stroke="#000" stroke-width="0.3">8.0</text>
<text transform="translate(245.70,76.30) scale(1,1.07)" font-size="7.8" text-anchor="end" fill="#000" stroke="#000" stroke-width="0.3">10.0</text>
<text transform="translate(245.70,56.70) scale(1,1.07)" font-size="7.8" text-anchor="end" fill="#000" stroke="#000" stroke-width="0.3">12.0</text>
<text transform="translate(380.00,291.30) scale(1,1.07)" font-size="9.6" text-anchor="middle" fill="#000" stroke="#000" stroke-width="0.3">Frequency (Hz)</text>
<text transform="translate(227.20,158.30) rotate(-90) scale(1,1.0)" font-size="10.4" text-anchor="middle" fill="#000" stroke="#000" stroke-width="0.3">Absolute value of the complex impedance (|Z*|/ohm)</text>
<rect x="365.5" y="16.5" width="162" height="97.5" fill="#fff" stroke="#000" stroke-width="2"/><polyline points="369.3,65.8 379.7,65.8 379.70,65.80 382.10,59.30 386.90,72.30 391.70,59.30 396.50,72.30 401.30,59.30 406.10,72.30 408.50,65.80 418,65.8" stroke="#000" stroke-width="1.9" fill="none" stroke-linejoin="miter"/><polyline points="418,43 461.2,43" stroke="#000" stroke-width="1.9" fill="none" stroke-linejoin="miter"/><polyline points="465.2,43 510.2,43 510.2,89.2 479,89.2" stroke="#000" stroke-width="1.9" fill="none" stroke-linejoin="miter"/><line x1="461.2" y1="36.7" x2="461.2" y2="49.9" stroke="#000" stroke-width="1.8"/><line x1="465.2" y1="36.7" x2="465.2" y2="49.9" stroke="#000" stroke-width="1.8"/><polyline points="418,43 418,89.2 450.8,89.2" stroke="#000" stroke-width="1.9" fill="none" stroke-linejoin="miter"/><polyline points="450.80,89.20 453.15,82.70 457.85,95.70 462.55,82.70 467.25,95.70 471.95,82.70 476.65,95.70 479.00,89.20" stroke="#000" stroke-width="1.9" fill="none" stroke-linejoin="miter"/><polyline points="418,65.8 428.9,65.8 428.90,65.80 431.30,59.30 436.10,72.30 440.90,59.30 445.70,72.30 450.50,59.30 455.30,72.30 457.70,65.80 469.5,65.8" stroke="#000" stroke-width="1.9" fill="none" stroke-linejoin="miter"/><rect x="469.5" y="59.3" width="29.1" height="13.4" stroke="#000" stroke-width="1.9" fill="none" stroke-linejoin="miter"/><polyline points="498.6,65.8 523.5,65.8" stroke="#000" stroke-width="1.9" fill="none" stroke-linejoin="miter"/>
<text x="394" y="56" font-size="9.2" text-anchor="middle" style="font-family:&quot;Liberation Sans&quot;,sans-serif;font-weight:bold">R1</text>
<text x="443.6" y="56" font-size="9.2" text-anchor="middle" style="font-family:&quot;Liberation Sans&quot;,sans-serif;font-weight:bold">R2</text>
<text x="462.7" y="31.4" font-size="9.2" text-anchor="middle" style="font-family:&quot;Liberation Sans&quot;,sans-serif;font-weight:bold">C1</text>
<text x="463.2" y="107.4" font-size="9.2" text-anchor="middle" style="font-family:&quot;Liberation Sans&quot;,sans-serif;font-weight:bold">R3</text>
<text x="484" y="69.6" font-size="9.2" text-anchor="middle" style="font-family:&quot;Liberation Sans&quot;,sans-serif;font-weight:bold">CPE</text>
</svg></body></html>
